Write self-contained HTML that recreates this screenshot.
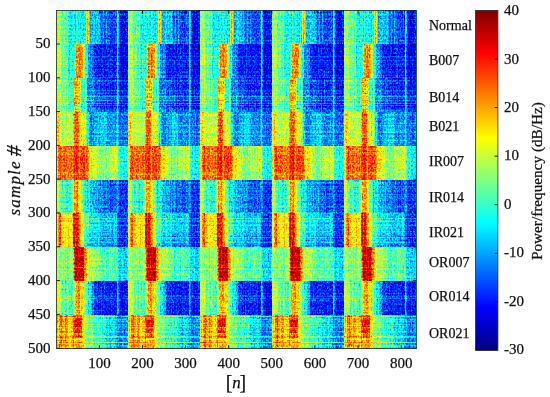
<!DOCTYPE html>
<html><head><meta charset="utf-8"><title>spectrogram</title>
<style>
html,body{margin:0;padding:0;background:#fff;}
body{width:550px;height:397px;overflow:hidden;}
svg{display:block;}
text{font-family:"Liberation Serif","DejaVu Serif",serif;fill:#111;stroke:#111;stroke-width:.25px;}
.tk{font-size:15px;}
.cl{font-size:14px;}
</style></head><body>
<svg width="550" height="397" viewBox="0 0 550 397">
<defs>
<filter id="jet" x="0" y="0" width="100%" height="100%" color-interpolation-filters="sRGB">
<feTurbulence type="fractalNoise" baseFrequency="0.66 0.47" numOctaves="2" seed="5" result="n"/>
<feColorMatrix in="n" type="matrix" values="1 0 0 0 0  1 0 0 0 0  1 0 0 0 0  0 0 0 0 1" result="ng"/>
<feComposite in="SourceGraphic" in2="ng" operator="arithmetic" k1="0" k2="1" k3="0.38" k4="-0.19" result="v"/>
<feComponentTransfer in="v" result="c">
<feFuncR type="table" tableValues="0 0 0 0 .5 1 1 1 .5"/>
<feFuncG type="table" tableValues="0 0 .5 1 1 1 .5 0 0"/>
<feFuncB type="table" tableValues=".5 1 1 1 .5 0 0 0 0"/>
</feComponentTransfer>
<feGaussianBlur in="c" stdDeviation="0.45" edgeMode="duplicate"/>
</filter>
<linearGradient id="cb" x1="0" y1="1" x2="0" y2="0">
<stop offset="0" stop-color="#000080"/><stop offset=".125" stop-color="#0000ff"/><stop offset=".375" stop-color="#00ffff"/><stop offset=".5" stop-color="#80ff80"/><stop offset=".625" stop-color="#ffff00"/><stop offset=".875" stop-color="#ff0000"/><stop offset="1" stop-color="#800000"/>
</linearGradient>
</defs>
<rect width="550" height="397" fill="#fff"/>
<g transform="translate(56,10)" filter="url(#jet)" shape-rendering="crispEdges">
<rect x="0" y="0" width="360.5" height="338.7" fill="#666"/>
<g transform="translate(0,0.00)">
<rect x="0" width="1.05" height="34.35" fill="#8c8c8c"/>
<rect x="1" width="1.05" height="34.35" fill="#828282"/>
<rect x="2" width="1.05" height="34.35" fill="#8d8d8d"/>
<rect x="3" width="1.05" height="34.35" fill="#8a8a8a"/>
<rect x="4" width="1.05" height="34.35" fill="#888888"/>
<rect x="5" width="1.05" height="34.35" fill="#7a7a7a"/>
<rect x="6" width="1.05" height="34.35" fill="#747474"/>
<rect x="7" width="1.05" height="34.35" fill="#727272"/>
<rect x="8" width="1.05" height="34.35" fill="#818181"/>
<rect x="9" width="1.05" height="34.35" fill="#767676"/>
<rect x="10" width="1.05" height="34.35" fill="#727272"/>
<rect x="11" width="1.05" height="34.35" fill="#7e7e7e"/>
<rect x="12" width="1.05" height="34.35" fill="#6a6a6a"/>
<rect x="13" width="1.05" height="34.35" fill="#5f5f5f"/>
<rect x="14" width="1.05" height="34.35" fill="#5b5b5b"/>
<rect x="15" width="1.05" height="34.35" fill="#5a5a5a"/>
<rect x="16" width="1.05" height="34.35" fill="#666666"/>
<rect x="17" width="1.05" height="34.35" fill="#696969"/>
<rect x="18" width="1.05" height="34.35" fill="#636363"/>
<rect x="19" width="1.05" height="34.35" fill="#575757"/>
<rect x="20" width="1.05" height="34.35" fill="#707070"/>
<rect x="21" width="1.05" height="34.35" fill="#646464"/>
<rect x="22" width="1.05" height="34.35" fill="#606060"/>
<rect x="23" width="1.05" height="34.35" fill="#696969"/>
<rect x="24" width="1.05" height="34.35" fill="#5f5f5f"/>
<rect x="25" width="1.05" height="34.35" fill="#606060"/>
<rect x="26" width="1.05" height="34.35" fill="#606060"/>
<rect x="27" width="1.05" height="34.35" fill="#565656"/>
<rect x="28" width="1.05" height="34.35" fill="#666666"/>
<rect x="29" width="1.05" height="34.35" fill="#656565"/>
<rect x="30" width="1.05" height="34.35" fill="#989898"/>
<rect x="31" width="1.05" height="34.35" fill="#b8b8b8"/>
<rect x="32" width="1.05" height="34.35" fill="#a7a7a7"/>
<rect x="33" width="1.05" height="34.35" fill="#656565"/>
<rect x="34" width="1.05" height="34.35" fill="#474747"/>
<rect x="35" width="1.05" height="34.35" fill="#535353"/>
<rect x="36" width="1.05" height="34.35" fill="#535353"/>
<rect x="37" width="1.05" height="34.35" fill="#5a5a5a"/>
<rect x="38" width="1.05" height="34.35" fill="#545454"/>
<rect x="39" width="1.05" height="34.35" fill="#494949"/>
<rect x="40" width="1.05" height="34.35" fill="#535353"/>
<rect x="41" width="1.05" height="34.35" fill="#4d4d4d"/>
<rect x="42" width="1.05" height="34.35" fill="#515151"/>
<rect x="43" width="1.05" height="34.35" fill="#555555"/>
<rect x="44" width="1.05" height="34.35" fill="#3f3f3f"/>
<rect x="45" width="1.05" height="34.35" fill="#2f2f2f"/>
<rect x="46" width="1.05" height="34.35" fill="#383838"/>
<rect x="47" width="1.05" height="34.35" fill="#4b4b4b"/>
<rect x="48" width="1.05" height="34.35" fill="#343434"/>
<rect x="49" width="1.05" height="34.35" fill="#333333"/>
<rect x="50" width="1.05" height="34.35" fill="#4a4a4a"/>
<rect x="51" width="1.05" height="34.35" fill="#313131"/>
<rect x="52" width="1.05" height="34.35" fill="#353535"/>
<rect x="53" width="1.05" height="34.35" fill="#313131"/>
<rect x="54" width="1.05" height="34.35" fill="#2e2e2e"/>
<rect x="55" width="1.05" height="34.35" fill="#2b2b2b"/>
<rect x="56" width="1.05" height="34.35" fill="#2a2a2a"/>
<rect x="57" width="1.05" height="34.35" fill="#313131"/>
<rect x="58" width="1.05" height="34.35" fill="#2f2f2f"/>
<rect x="59" width="1.05" height="34.35" fill="#383838"/>
<rect x="60" width="1.05" height="34.35" fill="#363636"/>
<rect x="61" width="1.05" height="34.35" fill="#7a7a7a"/>
<rect x="62" width="1.05" height="34.35" fill="#545454"/>
<rect x="63" width="1.05" height="34.35" fill="#282828"/>
<rect x="64" width="1.05" height="34.35" fill="#1e1e1e"/>
<rect x="65" width="1.05" height="34.35" fill="#1b1b1b"/>
<rect x="66" width="1.05" height="34.35" fill="#1d1d1d"/>
<rect x="67" width="1.05" height="34.35" fill="#1c1c1c"/>
<rect x="68" width="1.05" height="34.35" fill="#1e1e1e"/>
<rect x="69" width="1.05" height="34.35" fill="#1e1e1e"/>
<rect x="70" width="1.05" height="34.35" fill="#282828"/>
<rect x="71" width="1.05" height="34.35" fill="#262626"/>
<rect x="72" width="1.05" height="34.35" fill="#868686"/>
<rect x="73" width="1.05" height="34.35" fill="#898989"/>
<rect x="74" width="1.05" height="34.35" fill="#8b8b8b"/>
<rect x="75" width="1.05" height="34.35" fill="#8d8d8d"/>
<rect x="76" width="1.05" height="34.35" fill="#848484"/>
<rect x="77" width="1.05" height="34.35" fill="#757575"/>
<rect x="78" width="1.05" height="34.35" fill="#767676"/>
<rect x="79" width="1.05" height="34.35" fill="#747474"/>
<rect x="80" width="1.05" height="34.35" fill="#7e7e7e"/>
<rect x="81" width="1.05" height="34.35" fill="#757575"/>
<rect x="82" width="1.05" height="34.35" fill="#707070"/>
<rect x="83" width="1.05" height="34.35" fill="#848484"/>
<rect x="84" width="1.05" height="34.35" fill="#686868"/>
<rect x="85" width="1.05" height="34.35" fill="#5f5f5f"/>
<rect x="86" width="1.05" height="34.35" fill="#636363"/>
<rect x="87" width="1.05" height="34.35" fill="#5e5e5e"/>
<rect x="88" width="1.05" height="34.35" fill="#676767"/>
<rect x="89" width="1.05" height="34.35" fill="#636363"/>
<rect x="90" width="1.05" height="34.35" fill="#636363"/>
<rect x="91" width="1.05" height="34.35" fill="#585858"/>
<rect x="92" width="1.05" height="34.35" fill="#6c6c6c"/>
<rect x="93" width="1.05" height="34.35" fill="#5d5d5d"/>
<rect x="94" width="1.05" height="34.35" fill="#5f5f5f"/>
<rect x="95" width="1.05" height="34.35" fill="#6b6b6b"/>
<rect x="96" width="1.05" height="34.35" fill="#656565"/>
<rect x="97" width="1.05" height="34.35" fill="#5b5b5b"/>
<rect x="98" width="1.05" height="34.35" fill="#5e5e5e"/>
<rect x="99" width="1.05" height="34.35" fill="#535353"/>
<rect x="100" width="1.05" height="34.35" fill="#656565"/>
<rect x="101" width="1.05" height="34.35" fill="#616161"/>
<rect x="102" width="1.05" height="34.35" fill="#9a9a9a"/>
<rect x="103" width="1.05" height="34.35" fill="#b5b5b5"/>
<rect x="104" width="1.05" height="34.35" fill="#a5a5a5"/>
<rect x="105" width="1.05" height="34.35" fill="#646464"/>
<rect x="106" width="1.05" height="34.35" fill="#4d4d4d"/>
<rect x="107" width="1.05" height="34.35" fill="#4d4d4d"/>
<rect x="108" width="1.05" height="34.35" fill="#4e4e4e"/>
<rect x="109" width="1.05" height="34.35" fill="#5f5f5f"/>
<rect x="110" width="1.05" height="34.35" fill="#595959"/>
<rect x="111" width="1.05" height="34.35" fill="#4b4b4b"/>
<rect x="112" width="1.05" height="34.35" fill="#545454"/>
<rect x="113" width="1.05" height="34.35" fill="#4b4b4b"/>
<rect x="114" width="1.05" height="34.35" fill="#515151"/>
<rect x="115" width="1.05" height="34.35" fill="#595959"/>
<rect x="116" width="1.05" height="34.35" fill="#494949"/>
<rect x="117" width="1.05" height="34.35" fill="#272727"/>
<rect x="118" width="1.05" height="34.35" fill="#3a3a3a"/>
<rect x="119" width="1.05" height="34.35" fill="#515151"/>
<rect x="120" width="1.05" height="34.35" fill="#323232"/>
<rect x="121" width="1.05" height="34.35" fill="#313131"/>
<rect x="122" width="1.05" height="34.35" fill="#4e4e4e"/>
<rect x="123" width="1.05" height="34.35" fill="#323232"/>
<rect x="124" width="1.05" height="34.35" fill="#333333"/>
<rect x="125" width="1.05" height="34.35" fill="#323232"/>
<rect x="126" width="1.05" height="34.35" fill="#2b2b2b"/>
<rect x="127" width="1.05" height="34.35" fill="#313131"/>
<rect x="128" width="1.05" height="34.35" fill="#2a2a2a"/>
<rect x="129" width="1.05" height="34.35" fill="#363636"/>
<rect x="130" width="1.05" height="34.35" fill="#373737"/>
<rect x="131" width="1.05" height="34.35" fill="#393939"/>
<rect x="132" width="1.05" height="34.35" fill="#353535"/>
<rect x="133" width="1.05" height="34.35" fill="#797979"/>
<rect x="134" width="1.05" height="34.35" fill="#545454"/>
<rect x="135" width="1.05" height="34.35" fill="#2c2c2c"/>
<rect x="136" width="1.05" height="34.35" fill="#1b1b1b"/>
<rect x="137" width="1.05" height="34.35" fill="#191919"/>
<rect x="138" width="1.05" height="34.35" fill="#151515"/>
<rect x="139" width="1.05" height="34.35" fill="#1e1e1e"/>
<rect x="140" width="1.05" height="34.35" fill="#1f1f1f"/>
<rect x="141" width="1.05" height="34.35" fill="#191919"/>
<rect x="142" width="1.05" height="34.35" fill="#262626"/>
<rect x="143" width="1.05" height="34.35" fill="#262626"/>
<rect x="144" width="1.05" height="34.35" fill="#888888"/>
<rect x="145" width="1.05" height="34.35" fill="#878787"/>
<rect x="146" width="1.05" height="34.35" fill="#898989"/>
<rect x="147" width="1.05" height="34.35" fill="#909090"/>
<rect x="148" width="1.05" height="34.35" fill="#868686"/>
<rect x="149" width="1.05" height="34.35" fill="#767676"/>
<rect x="150" width="1.05" height="34.35" fill="#757575"/>
<rect x="151" width="1.05" height="34.35" fill="#777777"/>
<rect x="152" width="1.05" height="34.35" fill="#808080"/>
<rect x="153" width="1.05" height="34.35" fill="#767676"/>
<rect x="154" width="1.05" height="34.35" fill="#747474"/>
<rect x="155" width="1.05" height="34.35" fill="#888888"/>
<rect x="156" width="1.05" height="34.35" fill="#646464"/>
<rect x="157" width="1.05" height="34.35" fill="#5f5f5f"/>
<rect x="158" width="1.05" height="34.35" fill="#5c5c5c"/>
<rect x="159" width="1.05" height="34.35" fill="#5d5d5d"/>
<rect x="160" width="1.05" height="34.35" fill="#646464"/>
<rect x="161" width="1.05" height="34.35" fill="#616161"/>
<rect x="162" width="1.05" height="34.35" fill="#616161"/>
<rect x="163" width="1.05" height="34.35" fill="#5d5d5d"/>
<rect x="164" width="1.05" height="34.35" fill="#6a6a6a"/>
<rect x="165" width="1.05" height="34.35" fill="#626262"/>
<rect x="166" width="1.05" height="34.35" fill="#646464"/>
<rect x="167" width="1.05" height="34.35" fill="#696969"/>
<rect x="168" width="1.05" height="34.35" fill="#5e5e5e"/>
<rect x="169" width="1.05" height="34.35" fill="#636363"/>
<rect x="170" width="1.05" height="34.35" fill="#5f5f5f"/>
<rect x="171" width="1.05" height="34.35" fill="#565656"/>
<rect x="172" width="1.05" height="34.35" fill="#656565"/>
<rect x="173" width="1.05" height="34.35" fill="#606060"/>
<rect x="174" width="1.05" height="34.35" fill="#9c9c9c"/>
<rect x="175" width="1.05" height="34.35" fill="#b8b8b8"/>
<rect x="176" width="1.05" height="34.35" fill="#a8a8a8"/>
<rect x="177" width="1.05" height="34.35" fill="#636363"/>
<rect x="178" width="1.05" height="34.35" fill="#464646"/>
<rect x="179" width="1.05" height="34.35" fill="#515151"/>
<rect x="180" width="1.05" height="34.35" fill="#535353"/>
<rect x="181" width="1.05" height="34.35" fill="#5d5d5d"/>
<rect x="182" width="1.05" height="34.35" fill="#575757"/>
<rect x="183" width="1.05" height="34.35" fill="#4f4f4f"/>
<rect x="184" width="1.05" height="34.35" fill="#515151"/>
<rect x="185" width="1.05" height="34.35" fill="#4d4d4d"/>
<rect x="186" width="1.05" height="34.35" fill="#4d4d4d"/>
<rect x="187" width="1.05" height="34.35" fill="#545454"/>
<rect x="188" width="1.05" height="34.35" fill="#444444"/>
<rect x="189" width="1.05" height="34.35" fill="#2c2c2c"/>
<rect x="190" width="1.05" height="34.35" fill="#3a3a3a"/>
<rect x="191" width="1.05" height="34.35" fill="#515151"/>
<rect x="192" width="1.05" height="34.35" fill="#383838"/>
<rect x="193" width="1.05" height="34.35" fill="#2f2f2f"/>
<rect x="194" width="1.05" height="34.35" fill="#484848"/>
<rect x="195" width="1.05" height="34.35" fill="#323232"/>
<rect x="196" width="1.05" height="34.35" fill="#2f2f2f"/>
<rect x="197" width="1.05" height="34.35" fill="#323232"/>
<rect x="198" width="1.05" height="34.35" fill="#323232"/>
<rect x="199" width="1.05" height="34.35" fill="#303030"/>
<rect x="200" width="1.05" height="34.35" fill="#2b2b2b"/>
<rect x="201" width="1.05" height="34.35" fill="#343434"/>
<rect x="202" width="1.05" height="34.35" fill="#303030"/>
<rect x="203" width="1.05" height="34.35" fill="#353535"/>
<rect x="204" width="1.05" height="34.35" fill="#3b3b3b"/>
<rect x="205" width="1.05" height="34.35" fill="#7a7a7a"/>
<rect x="206" width="1.05" height="34.35" fill="#515151"/>
<rect x="207" width="1.05" height="34.35" fill="#262626"/>
<rect x="208" width="1.05" height="34.35" fill="#1d1d1d"/>
<rect x="209" width="1.05" height="34.35" fill="#1d1d1d"/>
<rect x="210" width="1.05" height="34.35" fill="#1f1f1f"/>
<rect x="211" width="1.05" height="34.35" fill="#1f1f1f"/>
<rect x="212" width="1.05" height="34.35" fill="#222222"/>
<rect x="213" width="1.05" height="34.35" fill="#1e1e1e"/>
<rect x="214" width="1.05" height="34.35" fill="#2b2b2b"/>
<rect x="215" width="1.05" height="34.35" fill="#2a2a2a"/>
<rect x="216" width="1.05" height="34.35" fill="#8c8c8c"/>
<rect x="217" width="1.05" height="34.35" fill="#888888"/>
<rect x="218" width="1.05" height="34.35" fill="#868686"/>
<rect x="219" width="1.05" height="34.35" fill="#8c8c8c"/>
<rect x="220" width="1.05" height="34.35" fill="#8a8a8a"/>
<rect x="221" width="1.05" height="34.35" fill="#767676"/>
<rect x="222" width="1.05" height="34.35" fill="#757575"/>
<rect x="223" width="1.05" height="34.35" fill="#777777"/>
<rect x="224" width="1.05" height="34.35" fill="#7f7f7f"/>
<rect x="225" width="1.05" height="34.35" fill="#747474"/>
<rect x="226" width="1.05" height="34.35" fill="#767676"/>
<rect x="227" width="1.05" height="34.35" fill="#858585"/>
<rect x="228" width="1.05" height="34.35" fill="#6a6a6a"/>
<rect x="229" width="1.05" height="34.35" fill="#5f5f5f"/>
<rect x="230" width="1.05" height="34.35" fill="#636363"/>
<rect x="231" width="1.05" height="34.35" fill="#5d5d5d"/>
<rect x="232" width="1.05" height="34.35" fill="#676767"/>
<rect x="233" width="1.05" height="34.35" fill="#666666"/>
<rect x="234" width="1.05" height="34.35" fill="#676767"/>
<rect x="235" width="1.05" height="34.35" fill="#5c5c5c"/>
<rect x="236" width="1.05" height="34.35" fill="#6c6c6c"/>
<rect x="237" width="1.05" height="34.35" fill="#606060"/>
<rect x="238" width="1.05" height="34.35" fill="#626262"/>
<rect x="239" width="1.05" height="34.35" fill="#6e6e6e"/>
<rect x="240" width="1.05" height="34.35" fill="#616161"/>
<rect x="241" width="1.05" height="34.35" fill="#595959"/>
<rect x="242" width="1.05" height="34.35" fill="#606060"/>
<rect x="243" width="1.05" height="34.35" fill="#545454"/>
<rect x="244" width="1.05" height="34.35" fill="#686868"/>
<rect x="245" width="1.05" height="34.35" fill="#616161"/>
<rect x="246" width="1.05" height="34.35" fill="#979797"/>
<rect x="247" width="1.05" height="34.35" fill="#b6b6b6"/>
<rect x="248" width="1.05" height="34.35" fill="#aaaaaa"/>
<rect x="249" width="1.05" height="34.35" fill="#676767"/>
<rect x="250" width="1.05" height="34.35" fill="#4d4d4d"/>
<rect x="251" width="1.05" height="34.35" fill="#505050"/>
<rect x="252" width="1.05" height="34.35" fill="#4d4d4d"/>
<rect x="253" width="1.05" height="34.35" fill="#595959"/>
<rect x="254" width="1.05" height="34.35" fill="#595959"/>
<rect x="255" width="1.05" height="34.35" fill="#545454"/>
<rect x="256" width="1.05" height="34.35" fill="#565656"/>
<rect x="257" width="1.05" height="34.35" fill="#525252"/>
<rect x="258" width="1.05" height="34.35" fill="#555555"/>
<rect x="259" width="1.05" height="34.35" fill="#505050"/>
<rect x="260" width="1.05" height="34.35" fill="#434343"/>
<rect x="261" width="1.05" height="34.35" fill="#2b2b2b"/>
<rect x="262" width="1.05" height="34.35" fill="#3b3b3b"/>
<rect x="263" width="1.05" height="34.35" fill="#505050"/>
<rect x="264" width="1.05" height="34.35" fill="#323232"/>
<rect x="265" width="1.05" height="34.35" fill="#303030"/>
<rect x="266" width="1.05" height="34.35" fill="#4b4b4b"/>
<rect x="267" width="1.05" height="34.35" fill="#323232"/>
<rect x="268" width="1.05" height="34.35" fill="#303030"/>
<rect x="269" width="1.05" height="34.35" fill="#303030"/>
<rect x="270" width="1.05" height="34.35" fill="#333333"/>
<rect x="271" width="1.05" height="34.35" fill="#2d2d2d"/>
<rect x="272" width="1.05" height="34.35" fill="#2e2e2e"/>
<rect x="273" width="1.05" height="34.35" fill="#343434"/>
<rect x="274" width="1.05" height="34.35" fill="#333333"/>
<rect x="275" width="1.05" height="34.35" fill="#3b3b3b"/>
<rect x="276" width="1.05" height="34.35" fill="#343434"/>
<rect x="277" width="1.05" height="34.35" fill="#757575"/>
<rect x="278" width="1.05" height="34.35" fill="#555555"/>
<rect x="279" width="1.05" height="34.35" fill="#262626"/>
<rect x="280" width="1.05" height="34.35" fill="#1d1d1d"/>
<rect x="281" width="1.05" height="34.35" fill="#1c1c1c"/>
<rect x="282" width="1.05" height="34.35" fill="#1c1c1c"/>
<rect x="283" width="1.05" height="34.35" fill="#181818"/>
<rect x="284" width="1.05" height="34.35" fill="#1e1e1e"/>
<rect x="285" width="1.05" height="34.35" fill="#1d1d1d"/>
<rect x="286" width="1.05" height="34.35" fill="#2c2c2c"/>
<rect x="287" width="1.05" height="34.35" fill="#222222"/>
<rect x="288" width="1.05" height="34.35" fill="#8e8e8e"/>
<rect x="289" width="1.05" height="34.35" fill="#8b8b8b"/>
<rect x="290" width="1.05" height="34.35" fill="#878787"/>
<rect x="291" width="1.05" height="34.35" fill="#888888"/>
<rect x="292" width="1.05" height="34.35" fill="#868686"/>
<rect x="293" width="1.05" height="34.35" fill="#777777"/>
<rect x="294" width="1.05" height="34.35" fill="#777777"/>
<rect x="295" width="1.05" height="34.35" fill="#767676"/>
<rect x="296" width="1.05" height="34.35" fill="#7e7e7e"/>
<rect x="297" width="1.05" height="34.35" fill="#767676"/>
<rect x="298" width="1.05" height="34.35" fill="#737373"/>
<rect x="299" width="1.05" height="34.35" fill="#868686"/>
<rect x="300" width="1.05" height="34.35" fill="#6d6d6d"/>
<rect x="301" width="1.05" height="34.35" fill="#666666"/>
<rect x="302" width="1.05" height="34.35" fill="#626262"/>
<rect x="303" width="1.05" height="34.35" fill="#5b5b5b"/>
<rect x="304" width="1.05" height="34.35" fill="#6c6c6c"/>
<rect x="305" width="1.05" height="34.35" fill="#656565"/>
<rect x="306" width="1.05" height="34.35" fill="#656565"/>
<rect x="307" width="1.05" height="34.35" fill="#585858"/>
<rect x="308" width="1.05" height="34.35" fill="#6c6c6c"/>
<rect x="309" width="1.05" height="34.35" fill="#616161"/>
<rect x="310" width="1.05" height="34.35" fill="#5f5f5f"/>
<rect x="311" width="1.05" height="34.35" fill="#686868"/>
<rect x="312" width="1.05" height="34.35" fill="#616161"/>
<rect x="313" width="1.05" height="34.35" fill="#5c5c5c"/>
<rect x="314" width="1.05" height="34.35" fill="#5c5c5c"/>
<rect x="315" width="1.05" height="34.35" fill="#555555"/>
<rect x="316" width="1.05" height="34.35" fill="#676767"/>
<rect x="317" width="1.05" height="34.35" fill="#5d5d5d"/>
<rect x="318" width="1.05" height="34.35" fill="#969696"/>
<rect x="319" width="1.05" height="34.35" fill="#b3b3b3"/>
<rect x="320" width="1.05" height="34.35" fill="#a2a2a2"/>
<rect x="321" width="1.05" height="34.35" fill="#666666"/>
<rect x="322" width="1.05" height="34.35" fill="#474747"/>
<rect x="323" width="1.05" height="34.35" fill="#535353"/>
<rect x="324" width="1.05" height="34.35" fill="#515151"/>
<rect x="325" width="1.05" height="34.35" fill="#575757"/>
<rect x="326" width="1.05" height="34.35" fill="#575757"/>
<rect x="327" width="1.05" height="34.35" fill="#4b4b4b"/>
<rect x="328" width="1.05" height="34.35" fill="#4f4f4f"/>
<rect x="329" width="1.05" height="34.35" fill="#4c4c4c"/>
<rect x="330" width="1.05" height="34.35" fill="#505050"/>
<rect x="331" width="1.05" height="34.35" fill="#575757"/>
<rect x="332" width="1.05" height="34.35" fill="#464646"/>
<rect x="333" width="1.05" height="34.35" fill="#292929"/>
<rect x="334" width="1.05" height="34.35" fill="#373737"/>
<rect x="335" width="1.05" height="34.35" fill="#4d4d4d"/>
<rect x="336" width="1.05" height="34.35" fill="#373737"/>
<rect x="337" width="1.05" height="34.35" fill="#292929"/>
<rect x="338" width="1.05" height="34.35" fill="#4d4d4d"/>
<rect x="339" width="1.05" height="34.35" fill="#333333"/>
<rect x="340" width="1.05" height="34.35" fill="#363636"/>
<rect x="341" width="1.05" height="34.35" fill="#313131"/>
<rect x="342" width="1.05" height="34.35" fill="#2e2e2e"/>
<rect x="343" width="1.05" height="34.35" fill="#303030"/>
<rect x="344" width="1.05" height="34.35" fill="#2e2e2e"/>
<rect x="345" width="1.05" height="34.35" fill="#343434"/>
<rect x="346" width="1.05" height="34.35" fill="#2a2a2a"/>
<rect x="347" width="1.05" height="34.35" fill="#393939"/>
<rect x="348" width="1.05" height="34.35" fill="#313131"/>
<rect x="349" width="1.05" height="34.35" fill="#747474"/>
<rect x="350" width="1.05" height="34.35" fill="#505050"/>
<rect x="351" width="1.05" height="34.35" fill="#232323"/>
<rect x="352" width="1.05" height="34.35" fill="#1b1b1b"/>
<rect x="353" width="1.05" height="34.35" fill="#1a1a1a"/>
<rect x="354" width="1.05" height="34.35" fill="#191919"/>
<rect x="355" width="1.05" height="34.35" fill="#1c1c1c"/>
<rect x="356" width="1.05" height="34.35" fill="#1e1e1e"/>
<rect x="357" width="1.05" height="34.35" fill="#171717"/>
<rect x="358" width="1.05" height="34.35" fill="#272727"/>
<rect x="359" width="1.05" height="34.35" fill="#2a2a2a"/>
</g>
<g transform="translate(0,34.30)">
<rect x="0" width="1.05" height="33.85" fill="#949494"/>
<rect x="1" width="1.05" height="33.85" fill="#949494"/>
<rect x="2" width="1.05" height="33.85" fill="#8d8d8d"/>
<rect x="3" width="1.05" height="33.85" fill="#909090"/>
<rect x="4" width="1.05" height="33.85" fill="#929292"/>
<rect x="5" width="1.05" height="33.85" fill="#818181"/>
<rect x="6" width="1.05" height="33.85" fill="#747474"/>
<rect x="7" width="1.05" height="33.85" fill="#8d8d8d"/>
<rect x="8" width="1.05" height="33.85" fill="#7f7f7f"/>
<rect x="9" width="1.05" height="33.85" fill="#7b7b7b"/>
<rect x="10" width="1.05" height="33.85" fill="#767676"/>
<rect x="11" width="1.05" height="33.85" fill="#7e7e7e"/>
<rect x="12" width="1.05" height="33.85" fill="#626262"/>
<rect x="13" width="1.05" height="33.85" fill="#575757"/>
<rect x="14" width="1.05" height="33.85" fill="#6b6b6b"/>
<rect x="15" width="1.05" height="33.85" fill="#6a6a6a"/>
<rect x="16" width="1.05" height="33.85" fill="#666666"/>
<rect x="17" width="1.05" height="33.85" fill="#656565"/>
<rect x="18" width="1.05" height="33.85" fill="#747474"/>
<rect x="19" width="1.05" height="33.85" fill="#ababab"/>
<rect x="20" width="1.05" height="33.85" fill="#c0c0c0"/>
<rect x="21" width="1.05" height="33.85" fill="#bcbcbc"/>
<rect x="22" width="1.05" height="33.85" fill="#bebebe"/>
<rect x="23" width="1.05" height="33.85" fill="#c9c9c9"/>
<rect x="24" width="1.05" height="33.85" fill="#c2c2c2"/>
<rect x="25" width="1.05" height="33.85" fill="#b9b9b9"/>
<rect x="26" width="1.05" height="33.85" fill="#b4b4b4"/>
<rect x="27" width="1.05" height="33.85" fill="#979797"/>
<rect x="28" width="1.05" height="33.85" fill="#868686"/>
<rect x="29" width="1.05" height="33.85" fill="#6c6c6c"/>
<rect x="30" width="1.05" height="33.85" fill="#626262"/>
<rect x="31" width="1.05" height="33.85" fill="#656565"/>
<rect x="32" width="1.05" height="33.85" fill="#454545"/>
<rect x="33" width="1.05" height="33.85" fill="#434343"/>
<rect x="34" width="1.05" height="33.85" fill="#3c3c3c"/>
<rect x="35" width="1.05" height="33.85" fill="#474747"/>
<rect x="36" width="1.05" height="33.85" fill="#393939"/>
<rect x="37" width="1.05" height="33.85" fill="#393939"/>
<rect x="38" width="1.05" height="33.85" fill="#272727"/>
<rect x="39" width="1.05" height="33.85" fill="#292929"/>
<rect x="40" width="1.05" height="33.85" fill="#262626"/>
<rect x="41" width="1.05" height="33.85" fill="#232323"/>
<rect x="42" width="1.05" height="33.85" fill="#222222"/>
<rect x="43" width="1.05" height="33.85" fill="#232323"/>
<rect x="44" width="1.05" height="33.85" fill="#1d1d1d"/>
<rect x="45" width="1.05" height="33.85" fill="#212121"/>
<rect x="46" width="1.05" height="33.85" fill="#2e2e2e"/>
<rect x="47" width="1.05" height="33.85" fill="#242424"/>
<rect x="48" width="1.05" height="33.85" fill="#1d1d1d"/>
<rect x="49" width="1.05" height="33.85" fill="#252525"/>
<rect x="50" width="1.05" height="33.85" fill="#272727"/>
<rect x="51" width="1.05" height="33.85" fill="#222222"/>
<rect x="52" width="1.05" height="33.85" fill="#292929"/>
<rect x="53" width="1.05" height="33.85" fill="#222222"/>
<rect x="54" width="1.05" height="33.85" fill="#282828"/>
<rect x="55" width="1.05" height="33.85" fill="#2a2a2a"/>
<rect x="56" width="1.05" height="33.85" fill="#252525"/>
<rect x="57" width="1.05" height="33.85" fill="#1d1d1d"/>
<rect x="58" width="1.05" height="33.85" fill="#202020"/>
<rect x="59" width="1.05" height="33.85" fill="#212121"/>
<rect x="60" width="1.05" height="33.85" fill="#2b2b2b"/>
<rect x="61" width="1.05" height="33.85" fill="#696969"/>
<rect x="62" width="1.05" height="33.85" fill="#3e3e3e"/>
<rect x="63" width="1.05" height="33.85" fill="#1a1a1a"/>
<rect x="64" width="1.05" height="33.85" fill="#171717"/>
<rect x="65" width="1.05" height="33.85" fill="#0a0a0a"/>
<rect x="66" width="1.05" height="33.85" fill="#171717"/>
<rect x="67" width="1.05" height="33.85" fill="#121212"/>
<rect x="68" width="1.05" height="33.85" fill="#1a1a1a"/>
<rect x="69" width="1.05" height="33.85" fill="#121212"/>
<rect x="70" width="1.05" height="33.85" fill="#161616"/>
<rect x="71" width="1.05" height="33.85" fill="#1c1c1c"/>
<rect x="72" width="1.05" height="33.85" fill="#8a8a8a"/>
<rect x="73" width="1.05" height="33.85" fill="#919191"/>
<rect x="74" width="1.05" height="33.85" fill="#8c8c8c"/>
<rect x="75" width="1.05" height="33.85" fill="#8e8e8e"/>
<rect x="76" width="1.05" height="33.85" fill="#8f8f8f"/>
<rect x="77" width="1.05" height="33.85" fill="#7a7a7a"/>
<rect x="78" width="1.05" height="33.85" fill="#777777"/>
<rect x="79" width="1.05" height="33.85" fill="#8a8a8a"/>
<rect x="80" width="1.05" height="33.85" fill="#7e7e7e"/>
<rect x="81" width="1.05" height="33.85" fill="#6e6e6e"/>
<rect x="82" width="1.05" height="33.85" fill="#707070"/>
<rect x="83" width="1.05" height="33.85" fill="#818181"/>
<rect x="84" width="1.05" height="33.85" fill="#656565"/>
<rect x="85" width="1.05" height="33.85" fill="#5d5d5d"/>
<rect x="86" width="1.05" height="33.85" fill="#6e6e6e"/>
<rect x="87" width="1.05" height="33.85" fill="#656565"/>
<rect x="88" width="1.05" height="33.85" fill="#6b6b6b"/>
<rect x="89" width="1.05" height="33.85" fill="#666666"/>
<rect x="90" width="1.05" height="33.85" fill="#717171"/>
<rect x="91" width="1.05" height="33.85" fill="#adadad"/>
<rect x="92" width="1.05" height="33.85" fill="#c3c3c3"/>
<rect x="93" width="1.05" height="33.85" fill="#bdbdbd"/>
<rect x="94" width="1.05" height="33.85" fill="#b7b7b7"/>
<rect x="95" width="1.05" height="33.85" fill="#cccccc"/>
<rect x="96" width="1.05" height="33.85" fill="#c2c2c2"/>
<rect x="97" width="1.05" height="33.85" fill="#b7b7b7"/>
<rect x="98" width="1.05" height="33.85" fill="#b4b4b4"/>
<rect x="99" width="1.05" height="33.85" fill="#919191"/>
<rect x="100" width="1.05" height="33.85" fill="#878787"/>
<rect x="101" width="1.05" height="33.85" fill="#6b6b6b"/>
<rect x="102" width="1.05" height="33.85" fill="#5d5d5d"/>
<rect x="103" width="1.05" height="33.85" fill="#6a6a6a"/>
<rect x="104" width="1.05" height="33.85" fill="#424242"/>
<rect x="105" width="1.05" height="33.85" fill="#454545"/>
<rect x="106" width="1.05" height="33.85" fill="#3d3d3d"/>
<rect x="107" width="1.05" height="33.85" fill="#464646"/>
<rect x="108" width="1.05" height="33.85" fill="#414141"/>
<rect x="109" width="1.05" height="33.85" fill="#3b3b3b"/>
<rect x="110" width="1.05" height="33.85" fill="#232323"/>
<rect x="111" width="1.05" height="33.85" fill="#272727"/>
<rect x="112" width="1.05" height="33.85" fill="#232323"/>
<rect x="113" width="1.05" height="33.85" fill="#1d1d1d"/>
<rect x="114" width="1.05" height="33.85" fill="#242424"/>
<rect x="115" width="1.05" height="33.85" fill="#232323"/>
<rect x="116" width="1.05" height="33.85" fill="#212121"/>
<rect x="117" width="1.05" height="33.85" fill="#1e1e1e"/>
<rect x="118" width="1.05" height="33.85" fill="#2c2c2c"/>
<rect x="119" width="1.05" height="33.85" fill="#242424"/>
<rect x="120" width="1.05" height="33.85" fill="#1d1d1d"/>
<rect x="121" width="1.05" height="33.85" fill="#252525"/>
<rect x="122" width="1.05" height="33.85" fill="#232323"/>
<rect x="123" width="1.05" height="33.85" fill="#262626"/>
<rect x="124" width="1.05" height="33.85" fill="#292929"/>
<rect x="125" width="1.05" height="33.85" fill="#232323"/>
<rect x="126" width="1.05" height="33.85" fill="#252525"/>
<rect x="127" width="1.05" height="33.85" fill="#232323"/>
<rect x="128" width="1.05" height="33.85" fill="#212121"/>
<rect x="129" width="1.05" height="33.85" fill="#202020"/>
<rect x="130" width="1.05" height="33.85" fill="#232323"/>
<rect x="131" width="1.05" height="33.85" fill="#232323"/>
<rect x="132" width="1.05" height="33.85" fill="#292929"/>
<rect x="133" width="1.05" height="33.85" fill="#656565"/>
<rect x="134" width="1.05" height="33.85" fill="#404040"/>
<rect x="135" width="1.05" height="33.85" fill="#191919"/>
<rect x="136" width="1.05" height="33.85" fill="#141414"/>
<rect x="137" width="1.05" height="33.85" fill="#111111"/>
<rect x="138" width="1.05" height="33.85" fill="#1d1d1d"/>
<rect x="139" width="1.05" height="33.85" fill="#181818"/>
<rect x="140" width="1.05" height="33.85" fill="#1e1e1e"/>
<rect x="141" width="1.05" height="33.85" fill="#161616"/>
<rect x="142" width="1.05" height="33.85" fill="#171717"/>
<rect x="143" width="1.05" height="33.85" fill="#1b1b1b"/>
<rect x="144" width="1.05" height="33.85" fill="#8b8b8b"/>
<rect x="145" width="1.05" height="33.85" fill="#999999"/>
<rect x="146" width="1.05" height="33.85" fill="#8c8c8c"/>
<rect x="147" width="1.05" height="33.85" fill="#8a8a8a"/>
<rect x="148" width="1.05" height="33.85" fill="#939393"/>
<rect x="149" width="1.05" height="33.85" fill="#7f7f7f"/>
<rect x="150" width="1.05" height="33.85" fill="#787878"/>
<rect x="151" width="1.05" height="33.85" fill="#8e8e8e"/>
<rect x="152" width="1.05" height="33.85" fill="#7c7c7c"/>
<rect x="153" width="1.05" height="33.85" fill="#767676"/>
<rect x="154" width="1.05" height="33.85" fill="#707070"/>
<rect x="155" width="1.05" height="33.85" fill="#898989"/>
<rect x="156" width="1.05" height="33.85" fill="#616161"/>
<rect x="157" width="1.05" height="33.85" fill="#606060"/>
<rect x="158" width="1.05" height="33.85" fill="#676767"/>
<rect x="159" width="1.05" height="33.85" fill="#6f6f6f"/>
<rect x="160" width="1.05" height="33.85" fill="#686868"/>
<rect x="161" width="1.05" height="33.85" fill="#646464"/>
<rect x="162" width="1.05" height="33.85" fill="#707070"/>
<rect x="163" width="1.05" height="33.85" fill="#aeaeae"/>
<rect x="164" width="1.05" height="33.85" fill="#bfbfbf"/>
<rect x="165" width="1.05" height="33.85" fill="#b6b6b6"/>
<rect x="166" width="1.05" height="33.85" fill="#c0c0c0"/>
<rect x="167" width="1.05" height="33.85" fill="#c7c7c7"/>
<rect x="168" width="1.05" height="33.85" fill="#c0c0c0"/>
<rect x="169" width="1.05" height="33.85" fill="#bbbbbb"/>
<rect x="170" width="1.05" height="33.85" fill="#b4b4b4"/>
<rect x="171" width="1.05" height="33.85" fill="#9a9a9a"/>
<rect x="172" width="1.05" height="33.85" fill="#878787"/>
<rect x="173" width="1.05" height="33.85" fill="#6c6c6c"/>
<rect x="174" width="1.05" height="33.85" fill="#5d5d5d"/>
<rect x="175" width="1.05" height="33.85" fill="#6a6a6a"/>
<rect x="176" width="1.05" height="33.85" fill="#484848"/>
<rect x="177" width="1.05" height="33.85" fill="#404040"/>
<rect x="178" width="1.05" height="33.85" fill="#3d3d3d"/>
<rect x="179" width="1.05" height="33.85" fill="#484848"/>
<rect x="180" width="1.05" height="33.85" fill="#373737"/>
<rect x="181" width="1.05" height="33.85" fill="#393939"/>
<rect x="182" width="1.05" height="33.85" fill="#282828"/>
<rect x="183" width="1.05" height="33.85" fill="#232323"/>
<rect x="184" width="1.05" height="33.85" fill="#242424"/>
<rect x="185" width="1.05" height="33.85" fill="#1d1d1d"/>
<rect x="186" width="1.05" height="33.85" fill="#262626"/>
<rect x="187" width="1.05" height="33.85" fill="#1f1f1f"/>
<rect x="188" width="1.05" height="33.85" fill="#242424"/>
<rect x="189" width="1.05" height="33.85" fill="#202020"/>
<rect x="190" width="1.05" height="33.85" fill="#2e2e2e"/>
<rect x="191" width="1.05" height="33.85" fill="#242424"/>
<rect x="192" width="1.05" height="33.85" fill="#202020"/>
<rect x="193" width="1.05" height="33.85" fill="#272727"/>
<rect x="194" width="1.05" height="33.85" fill="#1e1e1e"/>
<rect x="195" width="1.05" height="33.85" fill="#1e1e1e"/>
<rect x="196" width="1.05" height="33.85" fill="#232323"/>
<rect x="197" width="1.05" height="33.85" fill="#242424"/>
<rect x="198" width="1.05" height="33.85" fill="#272727"/>
<rect x="199" width="1.05" height="33.85" fill="#222222"/>
<rect x="200" width="1.05" height="33.85" fill="#232323"/>
<rect x="201" width="1.05" height="33.85" fill="#1c1c1c"/>
<rect x="202" width="1.05" height="33.85" fill="#1c1c1c"/>
<rect x="203" width="1.05" height="33.85" fill="#242424"/>
<rect x="204" width="1.05" height="33.85" fill="#2a2a2a"/>
<rect x="205" width="1.05" height="33.85" fill="#6e6e6e"/>
<rect x="206" width="1.05" height="33.85" fill="#424242"/>
<rect x="207" width="1.05" height="33.85" fill="#171717"/>
<rect x="208" width="1.05" height="33.85" fill="#0e0e0e"/>
<rect x="209" width="1.05" height="33.85" fill="#161616"/>
<rect x="210" width="1.05" height="33.85" fill="#1a1a1a"/>
<rect x="211" width="1.05" height="33.85" fill="#131313"/>
<rect x="212" width="1.05" height="33.85" fill="#1e1e1e"/>
<rect x="213" width="1.05" height="33.85" fill="#171717"/>
<rect x="214" width="1.05" height="33.85" fill="#121212"/>
<rect x="215" width="1.05" height="33.85" fill="#1b1b1b"/>
<rect x="216" width="1.05" height="33.85" fill="#8b8b8b"/>
<rect x="217" width="1.05" height="33.85" fill="#949494"/>
<rect x="218" width="1.05" height="33.85" fill="#8d8d8d"/>
<rect x="219" width="1.05" height="33.85" fill="#8d8d8d"/>
<rect x="220" width="1.05" height="33.85" fill="#8e8e8e"/>
<rect x="221" width="1.05" height="33.85" fill="#7e7e7e"/>
<rect x="222" width="1.05" height="33.85" fill="#767676"/>
<rect x="223" width="1.05" height="33.85" fill="#919191"/>
<rect x="224" width="1.05" height="33.85" fill="#7a7a7a"/>
<rect x="225" width="1.05" height="33.85" fill="#767676"/>
<rect x="226" width="1.05" height="33.85" fill="#6e6e6e"/>
<rect x="227" width="1.05" height="33.85" fill="#898989"/>
<rect x="228" width="1.05" height="33.85" fill="#5f5f5f"/>
<rect x="229" width="1.05" height="33.85" fill="#626262"/>
<rect x="230" width="1.05" height="33.85" fill="#666666"/>
<rect x="231" width="1.05" height="33.85" fill="#6b6b6b"/>
<rect x="232" width="1.05" height="33.85" fill="#686868"/>
<rect x="233" width="1.05" height="33.85" fill="#606060"/>
<rect x="234" width="1.05" height="33.85" fill="#707070"/>
<rect x="235" width="1.05" height="33.85" fill="#a7a7a7"/>
<rect x="236" width="1.05" height="33.85" fill="#c1c1c1"/>
<rect x="237" width="1.05" height="33.85" fill="#b9b9b9"/>
<rect x="238" width="1.05" height="33.85" fill="#b9b9b9"/>
<rect x="239" width="1.05" height="33.85" fill="#c6c6c6"/>
<rect x="240" width="1.05" height="33.85" fill="#c5c5c5"/>
<rect x="241" width="1.05" height="33.85" fill="#c0c0c0"/>
<rect x="242" width="1.05" height="33.85" fill="#b6b6b6"/>
<rect x="243" width="1.05" height="33.85" fill="#939393"/>
<rect x="244" width="1.05" height="33.85" fill="#868686"/>
<rect x="245" width="1.05" height="33.85" fill="#6f6f6f"/>
<rect x="246" width="1.05" height="33.85" fill="#5d5d5d"/>
<rect x="247" width="1.05" height="33.85" fill="#676767"/>
<rect x="248" width="1.05" height="33.85" fill="#424242"/>
<rect x="249" width="1.05" height="33.85" fill="#414141"/>
<rect x="250" width="1.05" height="33.85" fill="#424242"/>
<rect x="251" width="1.05" height="33.85" fill="#484848"/>
<rect x="252" width="1.05" height="33.85" fill="#3d3d3d"/>
<rect x="253" width="1.05" height="33.85" fill="#3c3c3c"/>
<rect x="254" width="1.05" height="33.85" fill="#292929"/>
<rect x="255" width="1.05" height="33.85" fill="#2c2c2c"/>
<rect x="256" width="1.05" height="33.85" fill="#252525"/>
<rect x="257" width="1.05" height="33.85" fill="#1c1c1c"/>
<rect x="258" width="1.05" height="33.85" fill="#202020"/>
<rect x="259" width="1.05" height="33.85" fill="#262626"/>
<rect x="260" width="1.05" height="33.85" fill="#1f1f1f"/>
<rect x="261" width="1.05" height="33.85" fill="#1b1b1b"/>
<rect x="262" width="1.05" height="33.85" fill="#2a2a2a"/>
<rect x="263" width="1.05" height="33.85" fill="#212121"/>
<rect x="264" width="1.05" height="33.85" fill="#212121"/>
<rect x="265" width="1.05" height="33.85" fill="#292929"/>
<rect x="266" width="1.05" height="33.85" fill="#212121"/>
<rect x="267" width="1.05" height="33.85" fill="#202020"/>
<rect x="268" width="1.05" height="33.85" fill="#252525"/>
<rect x="269" width="1.05" height="33.85" fill="#212121"/>
<rect x="270" width="1.05" height="33.85" fill="#242424"/>
<rect x="271" width="1.05" height="33.85" fill="#292929"/>
<rect x="272" width="1.05" height="33.85" fill="#242424"/>
<rect x="273" width="1.05" height="33.85" fill="#1b1b1b"/>
<rect x="274" width="1.05" height="33.85" fill="#1d1d1d"/>
<rect x="275" width="1.05" height="33.85" fill="#242424"/>
<rect x="276" width="1.05" height="33.85" fill="#272727"/>
<rect x="277" width="1.05" height="33.85" fill="#6b6b6b"/>
<rect x="278" width="1.05" height="33.85" fill="#404040"/>
<rect x="279" width="1.05" height="33.85" fill="#191919"/>
<rect x="280" width="1.05" height="33.85" fill="#101010"/>
<rect x="281" width="1.05" height="33.85" fill="#111111"/>
<rect x="282" width="1.05" height="33.85" fill="#191919"/>
<rect x="283" width="1.05" height="33.85" fill="#161616"/>
<rect x="284" width="1.05" height="33.85" fill="#1c1c1c"/>
<rect x="285" width="1.05" height="33.85" fill="#151515"/>
<rect x="286" width="1.05" height="33.85" fill="#141414"/>
<rect x="287" width="1.05" height="33.85" fill="#1b1b1b"/>
<rect x="288" width="1.05" height="33.85" fill="#878787"/>
<rect x="289" width="1.05" height="33.85" fill="#939393"/>
<rect x="290" width="1.05" height="33.85" fill="#898989"/>
<rect x="291" width="1.05" height="33.85" fill="#898989"/>
<rect x="292" width="1.05" height="33.85" fill="#8e8e8e"/>
<rect x="293" width="1.05" height="33.85" fill="#7b7b7b"/>
<rect x="294" width="1.05" height="33.85" fill="#737373"/>
<rect x="295" width="1.05" height="33.85" fill="#888888"/>
<rect x="296" width="1.05" height="33.85" fill="#7d7d7d"/>
<rect x="297" width="1.05" height="33.85" fill="#797979"/>
<rect x="298" width="1.05" height="33.85" fill="#747474"/>
<rect x="299" width="1.05" height="33.85" fill="#868686"/>
<rect x="300" width="1.05" height="33.85" fill="#5f5f5f"/>
<rect x="301" width="1.05" height="33.85" fill="#616161"/>
<rect x="302" width="1.05" height="33.85" fill="#666666"/>
<rect x="303" width="1.05" height="33.85" fill="#707070"/>
<rect x="304" width="1.05" height="33.85" fill="#646464"/>
<rect x="305" width="1.05" height="33.85" fill="#676767"/>
<rect x="306" width="1.05" height="33.85" fill="#6c6c6c"/>
<rect x="307" width="1.05" height="33.85" fill="#a9a9a9"/>
<rect x="308" width="1.05" height="33.85" fill="#bbbbbb"/>
<rect x="309" width="1.05" height="33.85" fill="#bcbcbc"/>
<rect x="310" width="1.05" height="33.85" fill="#bfbfbf"/>
<rect x="311" width="1.05" height="33.85" fill="#c9c9c9"/>
<rect x="312" width="1.05" height="33.85" fill="#bcbcbc"/>
<rect x="313" width="1.05" height="33.85" fill="#bfbfbf"/>
<rect x="314" width="1.05" height="33.85" fill="#afafaf"/>
<rect x="315" width="1.05" height="33.85" fill="#9a9a9a"/>
<rect x="316" width="1.05" height="33.85" fill="#8c8c8c"/>
<rect x="317" width="1.05" height="33.85" fill="#6d6d6d"/>
<rect x="318" width="1.05" height="33.85" fill="#626262"/>
<rect x="319" width="1.05" height="33.85" fill="#656565"/>
<rect x="320" width="1.05" height="33.85" fill="#4d4d4d"/>
<rect x="321" width="1.05" height="33.85" fill="#454545"/>
<rect x="322" width="1.05" height="33.85" fill="#424242"/>
<rect x="323" width="1.05" height="33.85" fill="#444444"/>
<rect x="324" width="1.05" height="33.85" fill="#3c3c3c"/>
<rect x="325" width="1.05" height="33.85" fill="#373737"/>
<rect x="326" width="1.05" height="33.85" fill="#252525"/>
<rect x="327" width="1.05" height="33.85" fill="#282828"/>
<rect x="328" width="1.05" height="33.85" fill="#262626"/>
<rect x="329" width="1.05" height="33.85" fill="#212121"/>
<rect x="330" width="1.05" height="33.85" fill="#252525"/>
<rect x="331" width="1.05" height="33.85" fill="#232323"/>
<rect x="332" width="1.05" height="33.85" fill="#212121"/>
<rect x="333" width="1.05" height="33.85" fill="#252525"/>
<rect x="334" width="1.05" height="33.85" fill="#292929"/>
<rect x="335" width="1.05" height="33.85" fill="#242424"/>
<rect x="336" width="1.05" height="33.85" fill="#191919"/>
<rect x="337" width="1.05" height="33.85" fill="#232323"/>
<rect x="338" width="1.05" height="33.85" fill="#242424"/>
<rect x="339" width="1.05" height="33.85" fill="#222222"/>
<rect x="340" width="1.05" height="33.85" fill="#2f2f2f"/>
<rect x="341" width="1.05" height="33.85" fill="#2c2c2c"/>
<rect x="342" width="1.05" height="33.85" fill="#202020"/>
<rect x="343" width="1.05" height="33.85" fill="#242424"/>
<rect x="344" width="1.05" height="33.85" fill="#242424"/>
<rect x="345" width="1.05" height="33.85" fill="#252525"/>
<rect x="346" width="1.05" height="33.85" fill="#242424"/>
<rect x="347" width="1.05" height="33.85" fill="#212121"/>
<rect x="348" width="1.05" height="33.85" fill="#262626"/>
<rect x="349" width="1.05" height="33.85" fill="#676767"/>
<rect x="350" width="1.05" height="33.85" fill="#373737"/>
<rect x="351" width="1.05" height="33.85" fill="#151515"/>
<rect x="352" width="1.05" height="33.85" fill="#141414"/>
<rect x="353" width="1.05" height="33.85" fill="#131313"/>
<rect x="354" width="1.05" height="33.85" fill="#171717"/>
<rect x="355" width="1.05" height="33.85" fill="#161616"/>
<rect x="356" width="1.05" height="33.85" fill="#212121"/>
<rect x="357" width="1.05" height="33.85" fill="#171717"/>
<rect x="358" width="1.05" height="33.85" fill="#131313"/>
<rect x="359" width="1.05" height="33.85" fill="#1e1e1e"/>
</g>
<g transform="translate(0,68.10)">
<rect x="0" width="1.05" height="33.85" fill="#878787"/>
<rect x="1" width="1.05" height="33.85" fill="#858585"/>
<rect x="2" width="1.05" height="33.85" fill="#868686"/>
<rect x="3" width="1.05" height="33.85" fill="#808080"/>
<rect x="4" width="1.05" height="33.85" fill="#898989"/>
<rect x="5" width="1.05" height="33.85" fill="#7d7d7d"/>
<rect x="6" width="1.05" height="33.85" fill="#7c7c7c"/>
<rect x="7" width="1.05" height="33.85" fill="#7e7e7e"/>
<rect x="8" width="1.05" height="33.85" fill="#818181"/>
<rect x="9" width="1.05" height="33.85" fill="#868686"/>
<rect x="10" width="1.05" height="33.85" fill="#777777"/>
<rect x="11" width="1.05" height="33.85" fill="#8e8e8e"/>
<rect x="12" width="1.05" height="33.85" fill="#737373"/>
<rect x="13" width="1.05" height="33.85" fill="#6e6e6e"/>
<rect x="14" width="1.05" height="33.85" fill="#6c6c6c"/>
<rect x="15" width="1.05" height="33.85" fill="#6a6a6a"/>
<rect x="16" width="1.05" height="33.85" fill="#717171"/>
<rect x="17" width="1.05" height="33.85" fill="#666666"/>
<rect x="18" width="1.05" height="33.85" fill="#b5b5b5"/>
<rect x="19" width="1.05" height="33.85" fill="#bebebe"/>
<rect x="20" width="1.05" height="33.85" fill="#b8b8b8"/>
<rect x="21" width="1.05" height="33.85" fill="#bababa"/>
<rect x="22" width="1.05" height="33.85" fill="#aeaeae"/>
<rect x="23" width="1.05" height="33.85" fill="#b5b5b5"/>
<rect x="24" width="1.05" height="33.85" fill="#909090"/>
<rect x="25" width="1.05" height="33.85" fill="#6b6b6b"/>
<rect x="26" width="1.05" height="33.85" fill="#696969"/>
<rect x="27" width="1.05" height="33.85" fill="#707070"/>
<rect x="28" width="1.05" height="33.85" fill="#696969"/>
<rect x="29" width="1.05" height="33.85" fill="#818181"/>
<rect x="30" width="1.05" height="33.85" fill="#6e6e6e"/>
<rect x="31" width="1.05" height="33.85" fill="#3f3f3f"/>
<rect x="32" width="1.05" height="33.85" fill="#373737"/>
<rect x="33" width="1.05" height="33.85" fill="#3c3c3c"/>
<rect x="34" width="1.05" height="33.85" fill="#3e3e3e"/>
<rect x="35" width="1.05" height="33.85" fill="#3e3e3e"/>
<rect x="36" width="1.05" height="33.85" fill="#414141"/>
<rect x="37" width="1.05" height="33.85" fill="#434343"/>
<rect x="38" width="1.05" height="33.85" fill="#333333"/>
<rect x="39" width="1.05" height="33.85" fill="#2f2f2f"/>
<rect x="40" width="1.05" height="33.85" fill="#2b2b2b"/>
<rect x="41" width="1.05" height="33.85" fill="#353535"/>
<rect x="42" width="1.05" height="33.85" fill="#333333"/>
<rect x="43" width="1.05" height="33.85" fill="#3a3a3a"/>
<rect x="44" width="1.05" height="33.85" fill="#2a2a2a"/>
<rect x="45" width="1.05" height="33.85" fill="#222222"/>
<rect x="46" width="1.05" height="33.85" fill="#2f2f2f"/>
<rect x="47" width="1.05" height="33.85" fill="#262626"/>
<rect x="48" width="1.05" height="33.85" fill="#242424"/>
<rect x="49" width="1.05" height="33.85" fill="#313131"/>
<rect x="50" width="1.05" height="33.85" fill="#202020"/>
<rect x="51" width="1.05" height="33.85" fill="#292929"/>
<rect x="52" width="1.05" height="33.85" fill="#282828"/>
<rect x="53" width="1.05" height="33.85" fill="#292929"/>
<rect x="54" width="1.05" height="33.85" fill="#232323"/>
<rect x="55" width="1.05" height="33.85" fill="#2a2a2a"/>
<rect x="56" width="1.05" height="33.85" fill="#1f1f1f"/>
<rect x="57" width="1.05" height="33.85" fill="#1e1e1e"/>
<rect x="58" width="1.05" height="33.85" fill="#2a2a2a"/>
<rect x="59" width="1.05" height="33.85" fill="#2a2a2a"/>
<rect x="60" width="1.05" height="33.85" fill="#303030"/>
<rect x="61" width="1.05" height="33.85" fill="#636363"/>
<rect x="62" width="1.05" height="33.85" fill="#414141"/>
<rect x="63" width="1.05" height="33.85" fill="#1c1c1c"/>
<rect x="64" width="1.05" height="33.85" fill="#131313"/>
<rect x="65" width="1.05" height="33.85" fill="#1e1e1e"/>
<rect x="66" width="1.05" height="33.85" fill="#232323"/>
<rect x="67" width="1.05" height="33.85" fill="#171717"/>
<rect x="68" width="1.05" height="33.85" fill="#212121"/>
<rect x="69" width="1.05" height="33.85" fill="#1b1b1b"/>
<rect x="70" width="1.05" height="33.85" fill="#191919"/>
<rect x="71" width="1.05" height="33.85" fill="#262626"/>
<rect x="72" width="1.05" height="33.85" fill="#7a7a7a"/>
<rect x="73" width="1.05" height="33.85" fill="#858585"/>
<rect x="74" width="1.05" height="33.85" fill="#8b8b8b"/>
<rect x="75" width="1.05" height="33.85" fill="#7e7e7e"/>
<rect x="76" width="1.05" height="33.85" fill="#888888"/>
<rect x="77" width="1.05" height="33.85" fill="#838383"/>
<rect x="78" width="1.05" height="33.85" fill="#797979"/>
<rect x="79" width="1.05" height="33.85" fill="#7a7a7a"/>
<rect x="80" width="1.05" height="33.85" fill="#7b7b7b"/>
<rect x="81" width="1.05" height="33.85" fill="#818181"/>
<rect x="82" width="1.05" height="33.85" fill="#727272"/>
<rect x="83" width="1.05" height="33.85" fill="#8c8c8c"/>
<rect x="84" width="1.05" height="33.85" fill="#6d6d6d"/>
<rect x="85" width="1.05" height="33.85" fill="#717171"/>
<rect x="86" width="1.05" height="33.85" fill="#646464"/>
<rect x="87" width="1.05" height="33.85" fill="#6d6d6d"/>
<rect x="88" width="1.05" height="33.85" fill="#707070"/>
<rect x="89" width="1.05" height="33.85" fill="#656565"/>
<rect x="90" width="1.05" height="33.85" fill="#b3b3b3"/>
<rect x="91" width="1.05" height="33.85" fill="#bababa"/>
<rect x="92" width="1.05" height="33.85" fill="#b4b4b4"/>
<rect x="93" width="1.05" height="33.85" fill="#bdbdbd"/>
<rect x="94" width="1.05" height="33.85" fill="#b6b6b6"/>
<rect x="95" width="1.05" height="33.85" fill="#b5b5b5"/>
<rect x="96" width="1.05" height="33.85" fill="#8b8b8b"/>
<rect x="97" width="1.05" height="33.85" fill="#696969"/>
<rect x="98" width="1.05" height="33.85" fill="#6b6b6b"/>
<rect x="99" width="1.05" height="33.85" fill="#717171"/>
<rect x="100" width="1.05" height="33.85" fill="#646464"/>
<rect x="101" width="1.05" height="33.85" fill="#818181"/>
<rect x="102" width="1.05" height="33.85" fill="#707070"/>
<rect x="103" width="1.05" height="33.85" fill="#414141"/>
<rect x="104" width="1.05" height="33.85" fill="#3a3a3a"/>
<rect x="105" width="1.05" height="33.85" fill="#393939"/>
<rect x="106" width="1.05" height="33.85" fill="#3c3c3c"/>
<rect x="107" width="1.05" height="33.85" fill="#3e3e3e"/>
<rect x="108" width="1.05" height="33.85" fill="#393939"/>
<rect x="109" width="1.05" height="33.85" fill="#444444"/>
<rect x="110" width="1.05" height="33.85" fill="#343434"/>
<rect x="111" width="1.05" height="33.85" fill="#2b2b2b"/>
<rect x="112" width="1.05" height="33.85" fill="#292929"/>
<rect x="113" width="1.05" height="33.85" fill="#3d3d3d"/>
<rect x="114" width="1.05" height="33.85" fill="#323232"/>
<rect x="115" width="1.05" height="33.85" fill="#373737"/>
<rect x="116" width="1.05" height="33.85" fill="#2f2f2f"/>
<rect x="117" width="1.05" height="33.85" fill="#262626"/>
<rect x="118" width="1.05" height="33.85" fill="#303030"/>
<rect x="119" width="1.05" height="33.85" fill="#282828"/>
<rect x="120" width="1.05" height="33.85" fill="#181818"/>
<rect x="121" width="1.05" height="33.85" fill="#373737"/>
<rect x="122" width="1.05" height="33.85" fill="#1e1e1e"/>
<rect x="123" width="1.05" height="33.85" fill="#2c2c2c"/>
<rect x="124" width="1.05" height="33.85" fill="#2f2f2f"/>
<rect x="125" width="1.05" height="33.85" fill="#272727"/>
<rect x="126" width="1.05" height="33.85" fill="#212121"/>
<rect x="127" width="1.05" height="33.85" fill="#2f2f2f"/>
<rect x="128" width="1.05" height="33.85" fill="#212121"/>
<rect x="129" width="1.05" height="33.85" fill="#232323"/>
<rect x="130" width="1.05" height="33.85" fill="#222222"/>
<rect x="131" width="1.05" height="33.85" fill="#282828"/>
<rect x="132" width="1.05" height="33.85" fill="#2b2b2b"/>
<rect x="133" width="1.05" height="33.85" fill="#666666"/>
<rect x="134" width="1.05" height="33.85" fill="#4b4b4b"/>
<rect x="135" width="1.05" height="33.85" fill="#1f1f1f"/>
<rect x="136" width="1.05" height="33.85" fill="#191919"/>
<rect x="137" width="1.05" height="33.85" fill="#1d1d1d"/>
<rect x="138" width="1.05" height="33.85" fill="#252525"/>
<rect x="139" width="1.05" height="33.85" fill="#202020"/>
<rect x="140" width="1.05" height="33.85" fill="#1e1e1e"/>
<rect x="141" width="1.05" height="33.85" fill="#1f1f1f"/>
<rect x="142" width="1.05" height="33.85" fill="#1c1c1c"/>
<rect x="143" width="1.05" height="33.85" fill="#292929"/>
<rect x="144" width="1.05" height="33.85" fill="#7a7a7a"/>
<rect x="145" width="1.05" height="33.85" fill="#808080"/>
<rect x="146" width="1.05" height="33.85" fill="#898989"/>
<rect x="147" width="1.05" height="33.85" fill="#7c7c7c"/>
<rect x="148" width="1.05" height="33.85" fill="#8a8a8a"/>
<rect x="149" width="1.05" height="33.85" fill="#808080"/>
<rect x="150" width="1.05" height="33.85" fill="#797979"/>
<rect x="151" width="1.05" height="33.85" fill="#7d7d7d"/>
<rect x="152" width="1.05" height="33.85" fill="#7e7e7e"/>
<rect x="153" width="1.05" height="33.85" fill="#828282"/>
<rect x="154" width="1.05" height="33.85" fill="#717171"/>
<rect x="155" width="1.05" height="33.85" fill="#8a8a8a"/>
<rect x="156" width="1.05" height="33.85" fill="#7a7a7a"/>
<rect x="157" width="1.05" height="33.85" fill="#727272"/>
<rect x="158" width="1.05" height="33.85" fill="#676767"/>
<rect x="159" width="1.05" height="33.85" fill="#6d6d6d"/>
<rect x="160" width="1.05" height="33.85" fill="#707070"/>
<rect x="161" width="1.05" height="33.85" fill="#696969"/>
<rect x="162" width="1.05" height="33.85" fill="#b4b4b4"/>
<rect x="163" width="1.05" height="33.85" fill="#c0c0c0"/>
<rect x="164" width="1.05" height="33.85" fill="#b2b2b2"/>
<rect x="165" width="1.05" height="33.85" fill="#b4b4b4"/>
<rect x="166" width="1.05" height="33.85" fill="#b1b1b1"/>
<rect x="167" width="1.05" height="33.85" fill="#b6b6b6"/>
<rect x="168" width="1.05" height="33.85" fill="#949494"/>
<rect x="169" width="1.05" height="33.85" fill="#6e6e6e"/>
<rect x="170" width="1.05" height="33.85" fill="#666666"/>
<rect x="171" width="1.05" height="33.85" fill="#6e6e6e"/>
<rect x="172" width="1.05" height="33.85" fill="#626262"/>
<rect x="173" width="1.05" height="33.85" fill="#818181"/>
<rect x="174" width="1.05" height="33.85" fill="#707070"/>
<rect x="175" width="1.05" height="33.85" fill="#3c3c3c"/>
<rect x="176" width="1.05" height="33.85" fill="#393939"/>
<rect x="177" width="1.05" height="33.85" fill="#424242"/>
<rect x="178" width="1.05" height="33.85" fill="#3b3b3b"/>
<rect x="179" width="1.05" height="33.85" fill="#414141"/>
<rect x="180" width="1.05" height="33.85" fill="#454545"/>
<rect x="181" width="1.05" height="33.85" fill="#434343"/>
<rect x="182" width="1.05" height="33.85" fill="#333333"/>
<rect x="183" width="1.05" height="33.85" fill="#2d2d2d"/>
<rect x="184" width="1.05" height="33.85" fill="#282828"/>
<rect x="185" width="1.05" height="33.85" fill="#393939"/>
<rect x="186" width="1.05" height="33.85" fill="#303030"/>
<rect x="187" width="1.05" height="33.85" fill="#353535"/>
<rect x="188" width="1.05" height="33.85" fill="#2b2b2b"/>
<rect x="189" width="1.05" height="33.85" fill="#292929"/>
<rect x="190" width="1.05" height="33.85" fill="#2b2b2b"/>
<rect x="191" width="1.05" height="33.85" fill="#272727"/>
<rect x="192" width="1.05" height="33.85" fill="#1f1f1f"/>
<rect x="193" width="1.05" height="33.85" fill="#2e2e2e"/>
<rect x="194" width="1.05" height="33.85" fill="#222222"/>
<rect x="195" width="1.05" height="33.85" fill="#292929"/>
<rect x="196" width="1.05" height="33.85" fill="#282828"/>
<rect x="197" width="1.05" height="33.85" fill="#262626"/>
<rect x="198" width="1.05" height="33.85" fill="#1e1e1e"/>
<rect x="199" width="1.05" height="33.85" fill="#2f2f2f"/>
<rect x="200" width="1.05" height="33.85" fill="#1f1f1f"/>
<rect x="201" width="1.05" height="33.85" fill="#262626"/>
<rect x="202" width="1.05" height="33.85" fill="#272727"/>
<rect x="203" width="1.05" height="33.85" fill="#2a2a2a"/>
<rect x="204" width="1.05" height="33.85" fill="#2c2c2c"/>
<rect x="205" width="1.05" height="33.85" fill="#666666"/>
<rect x="206" width="1.05" height="33.85" fill="#3a3a3a"/>
<rect x="207" width="1.05" height="33.85" fill="#181818"/>
<rect x="208" width="1.05" height="33.85" fill="#171717"/>
<rect x="209" width="1.05" height="33.85" fill="#1f1f1f"/>
<rect x="210" width="1.05" height="33.85" fill="#222222"/>
<rect x="211" width="1.05" height="33.85" fill="#1e1e1e"/>
<rect x="212" width="1.05" height="33.85" fill="#212121"/>
<rect x="213" width="1.05" height="33.85" fill="#161616"/>
<rect x="214" width="1.05" height="33.85" fill="#1b1b1b"/>
<rect x="215" width="1.05" height="33.85" fill="#222222"/>
<rect x="216" width="1.05" height="33.85" fill="#828282"/>
<rect x="217" width="1.05" height="33.85" fill="#858585"/>
<rect x="218" width="1.05" height="33.85" fill="#878787"/>
<rect x="219" width="1.05" height="33.85" fill="#828282"/>
<rect x="220" width="1.05" height="33.85" fill="#8a8a8a"/>
<rect x="221" width="1.05" height="33.85" fill="#808080"/>
<rect x="222" width="1.05" height="33.85" fill="#7a7a7a"/>
<rect x="223" width="1.05" height="33.85" fill="#7a7a7a"/>
<rect x="224" width="1.05" height="33.85" fill="#797979"/>
<rect x="225" width="1.05" height="33.85" fill="#818181"/>
<rect x="226" width="1.05" height="33.85" fill="#767676"/>
<rect x="227" width="1.05" height="33.85" fill="#8d8d8d"/>
<rect x="228" width="1.05" height="33.85" fill="#717171"/>
<rect x="229" width="1.05" height="33.85" fill="#707070"/>
<rect x="230" width="1.05" height="33.85" fill="#646464"/>
<rect x="231" width="1.05" height="33.85" fill="#6d6d6d"/>
<rect x="232" width="1.05" height="33.85" fill="#717171"/>
<rect x="233" width="1.05" height="33.85" fill="#696969"/>
<rect x="234" width="1.05" height="33.85" fill="#bababa"/>
<rect x="235" width="1.05" height="33.85" fill="#bfbfbf"/>
<rect x="236" width="1.05" height="33.85" fill="#b9b9b9"/>
<rect x="237" width="1.05" height="33.85" fill="#b8b8b8"/>
<rect x="238" width="1.05" height="33.85" fill="#b1b1b1"/>
<rect x="239" width="1.05" height="33.85" fill="#b4b4b4"/>
<rect x="240" width="1.05" height="33.85" fill="#8f8f8f"/>
<rect x="241" width="1.05" height="33.85" fill="#6a6a6a"/>
<rect x="242" width="1.05" height="33.85" fill="#6c6c6c"/>
<rect x="243" width="1.05" height="33.85" fill="#6d6d6d"/>
<rect x="244" width="1.05" height="33.85" fill="#696969"/>
<rect x="245" width="1.05" height="33.85" fill="#848484"/>
<rect x="246" width="1.05" height="33.85" fill="#6f6f6f"/>
<rect x="247" width="1.05" height="33.85" fill="#424242"/>
<rect x="248" width="1.05" height="33.85" fill="#373737"/>
<rect x="249" width="1.05" height="33.85" fill="#444444"/>
<rect x="250" width="1.05" height="33.85" fill="#3a3a3a"/>
<rect x="251" width="1.05" height="33.85" fill="#414141"/>
<rect x="252" width="1.05" height="33.85" fill="#414141"/>
<rect x="253" width="1.05" height="33.85" fill="#3b3b3b"/>
<rect x="254" width="1.05" height="33.85" fill="#2f2f2f"/>
<rect x="255" width="1.05" height="33.85" fill="#2b2b2b"/>
<rect x="256" width="1.05" height="33.85" fill="#2c2c2c"/>
<rect x="257" width="1.05" height="33.85" fill="#393939"/>
<rect x="258" width="1.05" height="33.85" fill="#323232"/>
<rect x="259" width="1.05" height="33.85" fill="#343434"/>
<rect x="260" width="1.05" height="33.85" fill="#2b2b2b"/>
<rect x="261" width="1.05" height="33.85" fill="#222222"/>
<rect x="262" width="1.05" height="33.85" fill="#2d2d2d"/>
<rect x="263" width="1.05" height="33.85" fill="#232323"/>
<rect x="264" width="1.05" height="33.85" fill="#1f1f1f"/>
<rect x="265" width="1.05" height="33.85" fill="#2e2e2e"/>
<rect x="266" width="1.05" height="33.85" fill="#1c1c1c"/>
<rect x="267" width="1.05" height="33.85" fill="#252525"/>
<rect x="268" width="1.05" height="33.85" fill="#333333"/>
<rect x="269" width="1.05" height="33.85" fill="#262626"/>
<rect x="270" width="1.05" height="33.85" fill="#1e1e1e"/>
<rect x="271" width="1.05" height="33.85" fill="#2a2a2a"/>
<rect x="272" width="1.05" height="33.85" fill="#1f1f1f"/>
<rect x="273" width="1.05" height="33.85" fill="#202020"/>
<rect x="274" width="1.05" height="33.85" fill="#282828"/>
<rect x="275" width="1.05" height="33.85" fill="#2c2c2c"/>
<rect x="276" width="1.05" height="33.85" fill="#2f2f2f"/>
<rect x="277" width="1.05" height="33.85" fill="#636363"/>
<rect x="278" width="1.05" height="33.85" fill="#404040"/>
<rect x="279" width="1.05" height="33.85" fill="#222222"/>
<rect x="280" width="1.05" height="33.85" fill="#1a1a1a"/>
<rect x="281" width="1.05" height="33.85" fill="#1e1e1e"/>
<rect x="282" width="1.05" height="33.85" fill="#1c1c1c"/>
<rect x="283" width="1.05" height="33.85" fill="#1f1f1f"/>
<rect x="284" width="1.05" height="33.85" fill="#222222"/>
<rect x="285" width="1.05" height="33.85" fill="#202020"/>
<rect x="286" width="1.05" height="33.85" fill="#141414"/>
<rect x="287" width="1.05" height="33.85" fill="#272727"/>
<rect x="288" width="1.05" height="33.85" fill="#7f7f7f"/>
<rect x="289" width="1.05" height="33.85" fill="#858585"/>
<rect x="290" width="1.05" height="33.85" fill="#858585"/>
<rect x="291" width="1.05" height="33.85" fill="#828282"/>
<rect x="292" width="1.05" height="33.85" fill="#8b8b8b"/>
<rect x="293" width="1.05" height="33.85" fill="#7f7f7f"/>
<rect x="294" width="1.05" height="33.85" fill="#787878"/>
<rect x="295" width="1.05" height="33.85" fill="#7b7b7b"/>
<rect x="296" width="1.05" height="33.85" fill="#7c7c7c"/>
<rect x="297" width="1.05" height="33.85" fill="#808080"/>
<rect x="298" width="1.05" height="33.85" fill="#707070"/>
<rect x="299" width="1.05" height="33.85" fill="#848484"/>
<rect x="300" width="1.05" height="33.85" fill="#767676"/>
<rect x="301" width="1.05" height="33.85" fill="#696969"/>
<rect x="302" width="1.05" height="33.85" fill="#656565"/>
<rect x="303" width="1.05" height="33.85" fill="#686868"/>
<rect x="304" width="1.05" height="33.85" fill="#727272"/>
<rect x="305" width="1.05" height="33.85" fill="#666666"/>
<rect x="306" width="1.05" height="33.85" fill="#b4b4b4"/>
<rect x="307" width="1.05" height="33.85" fill="#bbbbbb"/>
<rect x="308" width="1.05" height="33.85" fill="#b1b1b1"/>
<rect x="309" width="1.05" height="33.85" fill="#bcbcbc"/>
<rect x="310" width="1.05" height="33.85" fill="#b7b7b7"/>
<rect x="311" width="1.05" height="33.85" fill="#b5b5b5"/>
<rect x="312" width="1.05" height="33.85" fill="#8d8d8d"/>
<rect x="313" width="1.05" height="33.85" fill="#676767"/>
<rect x="314" width="1.05" height="33.85" fill="#696969"/>
<rect x="315" width="1.05" height="33.85" fill="#6f6f6f"/>
<rect x="316" width="1.05" height="33.85" fill="#636363"/>
<rect x="317" width="1.05" height="33.85" fill="#848484"/>
<rect x="318" width="1.05" height="33.85" fill="#727272"/>
<rect x="319" width="1.05" height="33.85" fill="#424242"/>
<rect x="320" width="1.05" height="33.85" fill="#363636"/>
<rect x="321" width="1.05" height="33.85" fill="#404040"/>
<rect x="322" width="1.05" height="33.85" fill="#3c3c3c"/>
<rect x="323" width="1.05" height="33.85" fill="#414141"/>
<rect x="324" width="1.05" height="33.85" fill="#404040"/>
<rect x="325" width="1.05" height="33.85" fill="#404040"/>
<rect x="326" width="1.05" height="33.85" fill="#323232"/>
<rect x="327" width="1.05" height="33.85" fill="#2a2a2a"/>
<rect x="328" width="1.05" height="33.85" fill="#272727"/>
<rect x="329" width="1.05" height="33.85" fill="#393939"/>
<rect x="330" width="1.05" height="33.85" fill="#333333"/>
<rect x="331" width="1.05" height="33.85" fill="#383838"/>
<rect x="332" width="1.05" height="33.85" fill="#282828"/>
<rect x="333" width="1.05" height="33.85" fill="#272727"/>
<rect x="334" width="1.05" height="33.85" fill="#2c2c2c"/>
<rect x="335" width="1.05" height="33.85" fill="#2a2a2a"/>
<rect x="336" width="1.05" height="33.85" fill="#1f1f1f"/>
<rect x="337" width="1.05" height="33.85" fill="#2d2d2d"/>
<rect x="338" width="1.05" height="33.85" fill="#212121"/>
<rect x="339" width="1.05" height="33.85" fill="#292929"/>
<rect x="340" width="1.05" height="33.85" fill="#2b2b2b"/>
<rect x="341" width="1.05" height="33.85" fill="#282828"/>
<rect x="342" width="1.05" height="33.85" fill="#202020"/>
<rect x="343" width="1.05" height="33.85" fill="#2d2d2d"/>
<rect x="344" width="1.05" height="33.85" fill="#232323"/>
<rect x="345" width="1.05" height="33.85" fill="#232323"/>
<rect x="346" width="1.05" height="33.85" fill="#242424"/>
<rect x="347" width="1.05" height="33.85" fill="#282828"/>
<rect x="348" width="1.05" height="33.85" fill="#2c2c2c"/>
<rect x="349" width="1.05" height="33.85" fill="#666666"/>
<rect x="350" width="1.05" height="33.85" fill="#434343"/>
<rect x="351" width="1.05" height="33.85" fill="#232323"/>
<rect x="352" width="1.05" height="33.85" fill="#151515"/>
<rect x="353" width="1.05" height="33.85" fill="#1e1e1e"/>
<rect x="354" width="1.05" height="33.85" fill="#212121"/>
<rect x="355" width="1.05" height="33.85" fill="#1c1c1c"/>
<rect x="356" width="1.05" height="33.85" fill="#212121"/>
<rect x="357" width="1.05" height="33.85" fill="#1b1b1b"/>
<rect x="358" width="1.05" height="33.85" fill="#1b1b1b"/>
<rect x="359" width="1.05" height="33.85" fill="#252525"/>
</g>
<g transform="translate(0,101.90)">
<rect x="0" width="1.05" height="33.85" fill="#a7a7a7"/>
<rect x="1" width="1.05" height="33.85" fill="#ababab"/>
<rect x="2" width="1.05" height="33.85" fill="#b4b4b4"/>
<rect x="3" width="1.05" height="33.85" fill="#a4a4a4"/>
<rect x="4" width="1.05" height="33.85" fill="#969696"/>
<rect x="5" width="1.05" height="33.85" fill="#929292"/>
<rect x="6" width="1.05" height="33.85" fill="#868686"/>
<rect x="7" width="1.05" height="33.85" fill="#969696"/>
<rect x="8" width="1.05" height="33.85" fill="#929292"/>
<rect x="9" width="1.05" height="33.85" fill="#8b8b8b"/>
<rect x="10" width="1.05" height="33.85" fill="#8b8b8b"/>
<rect x="11" width="1.05" height="33.85" fill="#999999"/>
<rect x="12" width="1.05" height="33.85" fill="#939393"/>
<rect x="13" width="1.05" height="33.85" fill="#979797"/>
<rect x="14" width="1.05" height="33.85" fill="#8c8c8c"/>
<rect x="15" width="1.05" height="33.85" fill="#919191"/>
<rect x="16" width="1.05" height="33.85" fill="#8d8d8d"/>
<rect x="17" width="1.05" height="33.85" fill="#b1b1b1"/>
<rect x="18" width="1.05" height="33.85" fill="#cbcbcb"/>
<rect x="19" width="1.05" height="33.85" fill="#cccccc"/>
<rect x="20" width="1.05" height="33.85" fill="#d2d2d2"/>
<rect x="21" width="1.05" height="33.85" fill="#d1d1d1"/>
<rect x="22" width="1.05" height="33.85" fill="#bebebe"/>
<rect x="23" width="1.05" height="33.85" fill="#ababab"/>
<rect x="24" width="1.05" height="33.85" fill="#9d9d9d"/>
<rect x="25" width="1.05" height="33.85" fill="#a6a6a6"/>
<rect x="26" width="1.05" height="33.85" fill="#989898"/>
<rect x="27" width="1.05" height="33.85" fill="#a6a6a6"/>
<rect x="28" width="1.05" height="33.85" fill="#9d9d9d"/>
<rect x="29" width="1.05" height="33.85" fill="#9f9f9f"/>
<rect x="30" width="1.05" height="33.85" fill="#797979"/>
<rect x="31" width="1.05" height="33.85" fill="#5c5c5c"/>
<rect x="32" width="1.05" height="33.85" fill="#606060"/>
<rect x="33" width="1.05" height="33.85" fill="#4c4c4c"/>
<rect x="34" width="1.05" height="33.85" fill="#3e3e3e"/>
<rect x="35" width="1.05" height="33.85" fill="#3a3a3a"/>
<rect x="36" width="1.05" height="33.85" fill="#414141"/>
<rect x="37" width="1.05" height="33.85" fill="#373737"/>
<rect x="38" width="1.05" height="33.85" fill="#4f4f4f"/>
<rect x="39" width="1.05" height="33.85" fill="#484848"/>
<rect x="40" width="1.05" height="33.85" fill="#4c4c4c"/>
<rect x="41" width="1.05" height="33.85" fill="#535353"/>
<rect x="42" width="1.05" height="33.85" fill="#525252"/>
<rect x="43" width="1.05" height="33.85" fill="#414141"/>
<rect x="44" width="1.05" height="33.85" fill="#525252"/>
<rect x="45" width="1.05" height="33.85" fill="#585858"/>
<rect x="46" width="1.05" height="33.85" fill="#535353"/>
<rect x="47" width="1.05" height="33.85" fill="#515151"/>
<rect x="48" width="1.05" height="33.85" fill="#565656"/>
<rect x="49" width="1.05" height="33.85" fill="#555555"/>
<rect x="50" width="1.05" height="33.85" fill="#4c4c4c"/>
<rect x="51" width="1.05" height="33.85" fill="#424242"/>
<rect x="52" width="1.05" height="33.85" fill="#434343"/>
<rect x="53" width="1.05" height="33.85" fill="#404040"/>
<rect x="54" width="1.05" height="33.85" fill="#454545"/>
<rect x="55" width="1.05" height="33.85" fill="#474747"/>
<rect x="56" width="1.05" height="33.85" fill="#474747"/>
<rect x="57" width="1.05" height="33.85" fill="#454545"/>
<rect x="58" width="1.05" height="33.85" fill="#474747"/>
<rect x="59" width="1.05" height="33.85" fill="#393939"/>
<rect x="60" width="1.05" height="33.85" fill="#525252"/>
<rect x="61" width="1.05" height="33.85" fill="#696969"/>
<rect x="62" width="1.05" height="33.85" fill="#474747"/>
<rect x="63" width="1.05" height="33.85" fill="#2d2d2d"/>
<rect x="64" width="1.05" height="33.85" fill="#373737"/>
<rect x="65" width="1.05" height="33.85" fill="#3d3d3d"/>
<rect x="66" width="1.05" height="33.85" fill="#3b3b3b"/>
<rect x="67" width="1.05" height="33.85" fill="#373737"/>
<rect x="68" width="1.05" height="33.85" fill="#3c3c3c"/>
<rect x="69" width="1.05" height="33.85" fill="#3b3b3b"/>
<rect x="70" width="1.05" height="33.85" fill="#3c3c3c"/>
<rect x="71" width="1.05" height="33.85" fill="#3f3f3f"/>
<rect x="72" width="1.05" height="33.85" fill="#a1a1a1"/>
<rect x="73" width="1.05" height="33.85" fill="#a9a9a9"/>
<rect x="74" width="1.05" height="33.85" fill="#b4b4b4"/>
<rect x="75" width="1.05" height="33.85" fill="#a7a7a7"/>
<rect x="76" width="1.05" height="33.85" fill="#989898"/>
<rect x="77" width="1.05" height="33.85" fill="#8d8d8d"/>
<rect x="78" width="1.05" height="33.85" fill="#8a8a8a"/>
<rect x="79" width="1.05" height="33.85" fill="#959595"/>
<rect x="80" width="1.05" height="33.85" fill="#939393"/>
<rect x="81" width="1.05" height="33.85" fill="#8c8c8c"/>
<rect x="82" width="1.05" height="33.85" fill="#909090"/>
<rect x="83" width="1.05" height="33.85" fill="#9a9a9a"/>
<rect x="84" width="1.05" height="33.85" fill="#8f8f8f"/>
<rect x="85" width="1.05" height="33.85" fill="#939393"/>
<rect x="86" width="1.05" height="33.85" fill="#8a8a8a"/>
<rect x="87" width="1.05" height="33.85" fill="#949494"/>
<rect x="88" width="1.05" height="33.85" fill="#919191"/>
<rect x="89" width="1.05" height="33.85" fill="#b6b6b6"/>
<rect x="90" width="1.05" height="33.85" fill="#cccccc"/>
<rect x="91" width="1.05" height="33.85" fill="#cecece"/>
<rect x="92" width="1.05" height="33.85" fill="#d0d0d0"/>
<rect x="93" width="1.05" height="33.85" fill="#d0d0d0"/>
<rect x="94" width="1.05" height="33.85" fill="#c1c1c1"/>
<rect x="95" width="1.05" height="33.85" fill="#a5a5a5"/>
<rect x="96" width="1.05" height="33.85" fill="#9f9f9f"/>
<rect x="97" width="1.05" height="33.85" fill="#9f9f9f"/>
<rect x="98" width="1.05" height="33.85" fill="#939393"/>
<rect x="99" width="1.05" height="33.85" fill="#a4a4a4"/>
<rect x="100" width="1.05" height="33.85" fill="#989898"/>
<rect x="101" width="1.05" height="33.85" fill="#a0a0a0"/>
<rect x="102" width="1.05" height="33.85" fill="#787878"/>
<rect x="103" width="1.05" height="33.85" fill="#5e5e5e"/>
<rect x="104" width="1.05" height="33.85" fill="#656565"/>
<rect x="105" width="1.05" height="33.85" fill="#4c4c4c"/>
<rect x="106" width="1.05" height="33.85" fill="#3d3d3d"/>
<rect x="107" width="1.05" height="33.85" fill="#3c3c3c"/>
<rect x="108" width="1.05" height="33.85" fill="#3e3e3e"/>
<rect x="109" width="1.05" height="33.85" fill="#373737"/>
<rect x="110" width="1.05" height="33.85" fill="#474747"/>
<rect x="111" width="1.05" height="33.85" fill="#4d4d4d"/>
<rect x="112" width="1.05" height="33.85" fill="#454545"/>
<rect x="113" width="1.05" height="33.85" fill="#505050"/>
<rect x="114" width="1.05" height="33.85" fill="#4d4d4d"/>
<rect x="115" width="1.05" height="33.85" fill="#414141"/>
<rect x="116" width="1.05" height="33.85" fill="#5a5a5a"/>
<rect x="117" width="1.05" height="33.85" fill="#5b5b5b"/>
<rect x="118" width="1.05" height="33.85" fill="#585858"/>
<rect x="119" width="1.05" height="33.85" fill="#515151"/>
<rect x="120" width="1.05" height="33.85" fill="#565656"/>
<rect x="121" width="1.05" height="33.85" fill="#545454"/>
<rect x="122" width="1.05" height="33.85" fill="#474747"/>
<rect x="123" width="1.05" height="33.85" fill="#444444"/>
<rect x="124" width="1.05" height="33.85" fill="#3e3e3e"/>
<rect x="125" width="1.05" height="33.85" fill="#3b3b3b"/>
<rect x="126" width="1.05" height="33.85" fill="#434343"/>
<rect x="127" width="1.05" height="33.85" fill="#4a4a4a"/>
<rect x="128" width="1.05" height="33.85" fill="#464646"/>
<rect x="129" width="1.05" height="33.85" fill="#3f3f3f"/>
<rect x="130" width="1.05" height="33.85" fill="#4a4a4a"/>
<rect x="131" width="1.05" height="33.85" fill="#383838"/>
<rect x="132" width="1.05" height="33.85" fill="#494949"/>
<rect x="133" width="1.05" height="33.85" fill="#656565"/>
<rect x="134" width="1.05" height="33.85" fill="#454545"/>
<rect x="135" width="1.05" height="33.85" fill="#313131"/>
<rect x="136" width="1.05" height="33.85" fill="#3c3c3c"/>
<rect x="137" width="1.05" height="33.85" fill="#414141"/>
<rect x="138" width="1.05" height="33.85" fill="#393939"/>
<rect x="139" width="1.05" height="33.85" fill="#404040"/>
<rect x="140" width="1.05" height="33.85" fill="#343434"/>
<rect x="141" width="1.05" height="33.85" fill="#333333"/>
<rect x="142" width="1.05" height="33.85" fill="#3e3e3e"/>
<rect x="143" width="1.05" height="33.85" fill="#444444"/>
<rect x="144" width="1.05" height="33.85" fill="#a3a3a3"/>
<rect x="145" width="1.05" height="33.85" fill="#a9a9a9"/>
<rect x="146" width="1.05" height="33.85" fill="#adadad"/>
<rect x="147" width="1.05" height="33.85" fill="#a6a6a6"/>
<rect x="148" width="1.05" height="33.85" fill="#979797"/>
<rect x="149" width="1.05" height="33.85" fill="#919191"/>
<rect x="150" width="1.05" height="33.85" fill="#888888"/>
<rect x="151" width="1.05" height="33.85" fill="#969696"/>
<rect x="152" width="1.05" height="33.85" fill="#959595"/>
<rect x="153" width="1.05" height="33.85" fill="#8f8f8f"/>
<rect x="154" width="1.05" height="33.85" fill="#949494"/>
<rect x="155" width="1.05" height="33.85" fill="#9a9a9a"/>
<rect x="156" width="1.05" height="33.85" fill="#919191"/>
<rect x="157" width="1.05" height="33.85" fill="#909090"/>
<rect x="158" width="1.05" height="33.85" fill="#8f8f8f"/>
<rect x="159" width="1.05" height="33.85" fill="#929292"/>
<rect x="160" width="1.05" height="33.85" fill="#989898"/>
<rect x="161" width="1.05" height="33.85" fill="#b0b0b0"/>
<rect x="162" width="1.05" height="33.85" fill="#d0d0d0"/>
<rect x="163" width="1.05" height="33.85" fill="#d0d0d0"/>
<rect x="164" width="1.05" height="33.85" fill="#d8d8d8"/>
<rect x="165" width="1.05" height="33.85" fill="#cfcfcf"/>
<rect x="166" width="1.05" height="33.85" fill="#c3c3c3"/>
<rect x="167" width="1.05" height="33.85" fill="#a5a5a5"/>
<rect x="168" width="1.05" height="33.85" fill="#9e9e9e"/>
<rect x="169" width="1.05" height="33.85" fill="#9d9d9d"/>
<rect x="170" width="1.05" height="33.85" fill="#949494"/>
<rect x="171" width="1.05" height="33.85" fill="#a3a3a3"/>
<rect x="172" width="1.05" height="33.85" fill="#999999"/>
<rect x="173" width="1.05" height="33.85" fill="#9f9f9f"/>
<rect x="174" width="1.05" height="33.85" fill="#7a7a7a"/>
<rect x="175" width="1.05" height="33.85" fill="#606060"/>
<rect x="176" width="1.05" height="33.85" fill="#5d5d5d"/>
<rect x="177" width="1.05" height="33.85" fill="#4e4e4e"/>
<rect x="178" width="1.05" height="33.85" fill="#3f3f3f"/>
<rect x="179" width="1.05" height="33.85" fill="#363636"/>
<rect x="180" width="1.05" height="33.85" fill="#3e3e3e"/>
<rect x="181" width="1.05" height="33.85" fill="#353535"/>
<rect x="182" width="1.05" height="33.85" fill="#424242"/>
<rect x="183" width="1.05" height="33.85" fill="#4b4b4b"/>
<rect x="184" width="1.05" height="33.85" fill="#4d4d4d"/>
<rect x="185" width="1.05" height="33.85" fill="#555555"/>
<rect x="186" width="1.05" height="33.85" fill="#545454"/>
<rect x="187" width="1.05" height="33.85" fill="#444444"/>
<rect x="188" width="1.05" height="33.85" fill="#565656"/>
<rect x="189" width="1.05" height="33.85" fill="#5c5c5c"/>
<rect x="190" width="1.05" height="33.85" fill="#565656"/>
<rect x="191" width="1.05" height="33.85" fill="#555555"/>
<rect x="192" width="1.05" height="33.85" fill="#555555"/>
<rect x="193" width="1.05" height="33.85" fill="#545454"/>
<rect x="194" width="1.05" height="33.85" fill="#494949"/>
<rect x="195" width="1.05" height="33.85" fill="#474747"/>
<rect x="196" width="1.05" height="33.85" fill="#454545"/>
<rect x="197" width="1.05" height="33.85" fill="#424242"/>
<rect x="198" width="1.05" height="33.85" fill="#404040"/>
<rect x="199" width="1.05" height="33.85" fill="#444444"/>
<rect x="200" width="1.05" height="33.85" fill="#454545"/>
<rect x="201" width="1.05" height="33.85" fill="#424242"/>
<rect x="202" width="1.05" height="33.85" fill="#3f3f3f"/>
<rect x="203" width="1.05" height="33.85" fill="#353535"/>
<rect x="204" width="1.05" height="33.85" fill="#4b4b4b"/>
<rect x="205" width="1.05" height="33.85" fill="#616161"/>
<rect x="206" width="1.05" height="33.85" fill="#4a4a4a"/>
<rect x="207" width="1.05" height="33.85" fill="#373737"/>
<rect x="208" width="1.05" height="33.85" fill="#383838"/>
<rect x="209" width="1.05" height="33.85" fill="#3f3f3f"/>
<rect x="210" width="1.05" height="33.85" fill="#353535"/>
<rect x="211" width="1.05" height="33.85" fill="#3d3d3d"/>
<rect x="212" width="1.05" height="33.85" fill="#333333"/>
<rect x="213" width="1.05" height="33.85" fill="#313131"/>
<rect x="214" width="1.05" height="33.85" fill="#393939"/>
<rect x="215" width="1.05" height="33.85" fill="#494949"/>
<rect x="216" width="1.05" height="33.85" fill="#9d9d9d"/>
<rect x="217" width="1.05" height="33.85" fill="#a5a5a5"/>
<rect x="218" width="1.05" height="33.85" fill="#b0b0b0"/>
<rect x="219" width="1.05" height="33.85" fill="#a6a6a6"/>
<rect x="220" width="1.05" height="33.85" fill="#9a9a9a"/>
<rect x="221" width="1.05" height="33.85" fill="#939393"/>
<rect x="222" width="1.05" height="33.85" fill="#868686"/>
<rect x="223" width="1.05" height="33.85" fill="#959595"/>
<rect x="224" width="1.05" height="33.85" fill="#959595"/>
<rect x="225" width="1.05" height="33.85" fill="#878787"/>
<rect x="226" width="1.05" height="33.85" fill="#949494"/>
<rect x="227" width="1.05" height="33.85" fill="#9a9a9a"/>
<rect x="228" width="1.05" height="33.85" fill="#969696"/>
<rect x="229" width="1.05" height="33.85" fill="#8e8e8e"/>
<rect x="230" width="1.05" height="33.85" fill="#8b8b8b"/>
<rect x="231" width="1.05" height="33.85" fill="#8e8e8e"/>
<rect x="232" width="1.05" height="33.85" fill="#919191"/>
<rect x="233" width="1.05" height="33.85" fill="#b7b7b7"/>
<rect x="234" width="1.05" height="33.85" fill="#c9c9c9"/>
<rect x="235" width="1.05" height="33.85" fill="#cecece"/>
<rect x="236" width="1.05" height="33.85" fill="#cecece"/>
<rect x="237" width="1.05" height="33.85" fill="#d0d0d0"/>
<rect x="238" width="1.05" height="33.85" fill="#c4c4c4"/>
<rect x="239" width="1.05" height="33.85" fill="#a8a8a8"/>
<rect x="240" width="1.05" height="33.85" fill="#a6a6a6"/>
<rect x="241" width="1.05" height="33.85" fill="#a0a0a0"/>
<rect x="242" width="1.05" height="33.85" fill="#9a9a9a"/>
<rect x="243" width="1.05" height="33.85" fill="#a2a2a2"/>
<rect x="244" width="1.05" height="33.85" fill="#9d9d9d"/>
<rect x="245" width="1.05" height="33.85" fill="#a0a0a0"/>
<rect x="246" width="1.05" height="33.85" fill="#797979"/>
<rect x="247" width="1.05" height="33.85" fill="#5d5d5d"/>
<rect x="248" width="1.05" height="33.85" fill="#5b5b5b"/>
<rect x="249" width="1.05" height="33.85" fill="#434343"/>
<rect x="250" width="1.05" height="33.85" fill="#3b3b3b"/>
<rect x="251" width="1.05" height="33.85" fill="#383838"/>
<rect x="252" width="1.05" height="33.85" fill="#3e3e3e"/>
<rect x="253" width="1.05" height="33.85" fill="#3c3c3c"/>
<rect x="254" width="1.05" height="33.85" fill="#4b4b4b"/>
<rect x="255" width="1.05" height="33.85" fill="#4c4c4c"/>
<rect x="256" width="1.05" height="33.85" fill="#515151"/>
<rect x="257" width="1.05" height="33.85" fill="#525252"/>
<rect x="258" width="1.05" height="33.85" fill="#515151"/>
<rect x="259" width="1.05" height="33.85" fill="#454545"/>
<rect x="260" width="1.05" height="33.85" fill="#565656"/>
<rect x="261" width="1.05" height="33.85" fill="#5c5c5c"/>
<rect x="262" width="1.05" height="33.85" fill="#575757"/>
<rect x="263" width="1.05" height="33.85" fill="#585858"/>
<rect x="264" width="1.05" height="33.85" fill="#595959"/>
<rect x="265" width="1.05" height="33.85" fill="#575757"/>
<rect x="266" width="1.05" height="33.85" fill="#464646"/>
<rect x="267" width="1.05" height="33.85" fill="#454545"/>
<rect x="268" width="1.05" height="33.85" fill="#434343"/>
<rect x="269" width="1.05" height="33.85" fill="#3f3f3f"/>
<rect x="270" width="1.05" height="33.85" fill="#3d3d3d"/>
<rect x="271" width="1.05" height="33.85" fill="#434343"/>
<rect x="272" width="1.05" height="33.85" fill="#434343"/>
<rect x="273" width="1.05" height="33.85" fill="#414141"/>
<rect x="274" width="1.05" height="33.85" fill="#4a4a4a"/>
<rect x="275" width="1.05" height="33.85" fill="#3b3b3b"/>
<rect x="276" width="1.05" height="33.85" fill="#494949"/>
<rect x="277" width="1.05" height="33.85" fill="#656565"/>
<rect x="278" width="1.05" height="33.85" fill="#474747"/>
<rect x="279" width="1.05" height="33.85" fill="#323232"/>
<rect x="280" width="1.05" height="33.85" fill="#383838"/>
<rect x="281" width="1.05" height="33.85" fill="#3a3a3a"/>
<rect x="282" width="1.05" height="33.85" fill="#383838"/>
<rect x="283" width="1.05" height="33.85" fill="#3f3f3f"/>
<rect x="284" width="1.05" height="33.85" fill="#363636"/>
<rect x="285" width="1.05" height="33.85" fill="#373737"/>
<rect x="286" width="1.05" height="33.85" fill="#3b3b3b"/>
<rect x="287" width="1.05" height="33.85" fill="#484848"/>
<rect x="288" width="1.05" height="33.85" fill="#a2a2a2"/>
<rect x="289" width="1.05" height="33.85" fill="#a9a9a9"/>
<rect x="290" width="1.05" height="33.85" fill="#b3b3b3"/>
<rect x="291" width="1.05" height="33.85" fill="#a5a5a5"/>
<rect x="292" width="1.05" height="33.85" fill="#9a9a9a"/>
<rect x="293" width="1.05" height="33.85" fill="#959595"/>
<rect x="294" width="1.05" height="33.85" fill="#8a8a8a"/>
<rect x="295" width="1.05" height="33.85" fill="#969696"/>
<rect x="296" width="1.05" height="33.85" fill="#989898"/>
<rect x="297" width="1.05" height="33.85" fill="#8d8d8d"/>
<rect x="298" width="1.05" height="33.85" fill="#8e8e8e"/>
<rect x="299" width="1.05" height="33.85" fill="#a2a2a2"/>
<rect x="300" width="1.05" height="33.85" fill="#939393"/>
<rect x="301" width="1.05" height="33.85" fill="#949494"/>
<rect x="302" width="1.05" height="33.85" fill="#8c8c8c"/>
<rect x="303" width="1.05" height="33.85" fill="#8a8a8a"/>
<rect x="304" width="1.05" height="33.85" fill="#919191"/>
<rect x="305" width="1.05" height="33.85" fill="#b5b5b5"/>
<rect x="306" width="1.05" height="33.85" fill="#d0d0d0"/>
<rect x="307" width="1.05" height="33.85" fill="#cdcdcd"/>
<rect x="308" width="1.05" height="33.85" fill="#d3d3d3"/>
<rect x="309" width="1.05" height="33.85" fill="#d2d2d2"/>
<rect x="310" width="1.05" height="33.85" fill="#c6c6c6"/>
<rect x="311" width="1.05" height="33.85" fill="#aaaaaa"/>
<rect x="312" width="1.05" height="33.85" fill="#a0a0a0"/>
<rect x="313" width="1.05" height="33.85" fill="#a0a0a0"/>
<rect x="314" width="1.05" height="33.85" fill="#959595"/>
<rect x="315" width="1.05" height="33.85" fill="#aaaaaa"/>
<rect x="316" width="1.05" height="33.85" fill="#9a9a9a"/>
<rect x="317" width="1.05" height="33.85" fill="#a0a0a0"/>
<rect x="318" width="1.05" height="33.85" fill="#7a7a7a"/>
<rect x="319" width="1.05" height="33.85" fill="#585858"/>
<rect x="320" width="1.05" height="33.85" fill="#606060"/>
<rect x="321" width="1.05" height="33.85" fill="#4b4b4b"/>
<rect x="322" width="1.05" height="33.85" fill="#3d3d3d"/>
<rect x="323" width="1.05" height="33.85" fill="#3a3a3a"/>
<rect x="324" width="1.05" height="33.85" fill="#3b3b3b"/>
<rect x="325" width="1.05" height="33.85" fill="#3a3a3a"/>
<rect x="326" width="1.05" height="33.85" fill="#454545"/>
<rect x="327" width="1.05" height="33.85" fill="#4e4e4e"/>
<rect x="328" width="1.05" height="33.85" fill="#4f4f4f"/>
<rect x="329" width="1.05" height="33.85" fill="#4c4c4c"/>
<rect x="330" width="1.05" height="33.85" fill="#525252"/>
<rect x="331" width="1.05" height="33.85" fill="#464646"/>
<rect x="332" width="1.05" height="33.85" fill="#595959"/>
<rect x="333" width="1.05" height="33.85" fill="#5e5e5e"/>
<rect x="334" width="1.05" height="33.85" fill="#545454"/>
<rect x="335" width="1.05" height="33.85" fill="#555555"/>
<rect x="336" width="1.05" height="33.85" fill="#565656"/>
<rect x="337" width="1.05" height="33.85" fill="#5b5b5b"/>
<rect x="338" width="1.05" height="33.85" fill="#494949"/>
<rect x="339" width="1.05" height="33.85" fill="#414141"/>
<rect x="340" width="1.05" height="33.85" fill="#414141"/>
<rect x="341" width="1.05" height="33.85" fill="#424242"/>
<rect x="342" width="1.05" height="33.85" fill="#3f3f3f"/>
<rect x="343" width="1.05" height="33.85" fill="#414141"/>
<rect x="344" width="1.05" height="33.85" fill="#4e4e4e"/>
<rect x="345" width="1.05" height="33.85" fill="#444444"/>
<rect x="346" width="1.05" height="33.85" fill="#424242"/>
<rect x="347" width="1.05" height="33.85" fill="#3d3d3d"/>
<rect x="348" width="1.05" height="33.85" fill="#4a4a4a"/>
<rect x="349" width="1.05" height="33.85" fill="#616161"/>
<rect x="350" width="1.05" height="33.85" fill="#4b4b4b"/>
<rect x="351" width="1.05" height="33.85" fill="#313131"/>
<rect x="352" width="1.05" height="33.85" fill="#3b3b3b"/>
<rect x="353" width="1.05" height="33.85" fill="#3e3e3e"/>
<rect x="354" width="1.05" height="33.85" fill="#3c3c3c"/>
<rect x="355" width="1.05" height="33.85" fill="#3d3d3d"/>
<rect x="356" width="1.05" height="33.85" fill="#2f2f2f"/>
<rect x="357" width="1.05" height="33.85" fill="#363636"/>
<rect x="358" width="1.05" height="33.85" fill="#3d3d3d"/>
<rect x="359" width="1.05" height="33.85" fill="#484848"/>
</g>
<g transform="translate(0,135.70)">
<rect x="0" width="1.05" height="33.85" fill="#a6a6a6"/>
<rect x="1" width="1.05" height="33.85" fill="#a7a7a7"/>
<rect x="2" width="1.05" height="33.85" fill="#c6c6c6"/>
<rect x="3" width="1.05" height="33.85" fill="#cbcbcb"/>
<rect x="4" width="1.05" height="33.85" fill="#d4d4d4"/>
<rect x="5" width="1.05" height="33.85" fill="#c5c5c5"/>
<rect x="6" width="1.05" height="33.85" fill="#c2c2c2"/>
<rect x="7" width="1.05" height="33.85" fill="#c5c5c5"/>
<rect x="8" width="1.05" height="33.85" fill="#d0d0d0"/>
<rect x="9" width="1.05" height="33.85" fill="#c9c9c9"/>
<rect x="10" width="1.05" height="33.85" fill="#c5c5c5"/>
<rect x="11" width="1.05" height="33.85" fill="#c0c0c0"/>
<rect x="12" width="1.05" height="33.85" fill="#c2c2c2"/>
<rect x="13" width="1.05" height="33.85" fill="#c3c3c3"/>
<rect x="14" width="1.05" height="33.85" fill="#c5c5c5"/>
<rect x="15" width="1.05" height="33.85" fill="#cecece"/>
<rect x="16" width="1.05" height="33.85" fill="#c0c0c0"/>
<rect x="17" width="1.05" height="33.85" fill="#d0d0d0"/>
<rect x="18" width="1.05" height="33.85" fill="#d6d6d6"/>
<rect x="19" width="1.05" height="33.85" fill="#d5d5d5"/>
<rect x="20" width="1.05" height="33.85" fill="#e0e0e0"/>
<rect x="21" width="1.05" height="33.85" fill="#dcdcdc"/>
<rect x="22" width="1.05" height="33.85" fill="#cdcdcd"/>
<rect x="23" width="1.05" height="33.85" fill="#b8b8b8"/>
<rect x="24" width="1.05" height="33.85" fill="#d2d2d2"/>
<rect x="25" width="1.05" height="33.85" fill="#d0d0d0"/>
<rect x="26" width="1.05" height="33.85" fill="#d4d4d4"/>
<rect x="27" width="1.05" height="33.85" fill="#d7d7d7"/>
<rect x="28" width="1.05" height="33.85" fill="#d5d5d5"/>
<rect x="29" width="1.05" height="33.85" fill="#c4c4c4"/>
<rect x="30" width="1.05" height="33.85" fill="#c9c9c9"/>
<rect x="31" width="1.05" height="33.85" fill="#cacaca"/>
<rect x="32" width="1.05" height="33.85" fill="#b8b8b8"/>
<rect x="33" width="1.05" height="33.85" fill="#a6a6a6"/>
<rect x="34" width="1.05" height="33.85" fill="#989898"/>
<rect x="35" width="1.05" height="33.85" fill="#a9a9a9"/>
<rect x="36" width="1.05" height="33.85" fill="#a1a1a1"/>
<rect x="37" width="1.05" height="33.85" fill="#9d9d9d"/>
<rect x="38" width="1.05" height="33.85" fill="#959595"/>
<rect x="39" width="1.05" height="33.85" fill="#989898"/>
<rect x="40" width="1.05" height="33.85" fill="#929292"/>
<rect x="41" width="1.05" height="33.85" fill="#858585"/>
<rect x="42" width="1.05" height="33.85" fill="#8c8c8c"/>
<rect x="43" width="1.05" height="33.85" fill="#7c7c7c"/>
<rect x="44" width="1.05" height="33.85" fill="#818181"/>
<rect x="45" width="1.05" height="33.85" fill="#7f7f7f"/>
<rect x="46" width="1.05" height="33.85" fill="#848484"/>
<rect x="47" width="1.05" height="33.85" fill="#828282"/>
<rect x="48" width="1.05" height="33.85" fill="#868686"/>
<rect x="49" width="1.05" height="33.85" fill="#7d7d7d"/>
<rect x="50" width="1.05" height="33.85" fill="#848484"/>
<rect x="51" width="1.05" height="33.85" fill="#8e8e8e"/>
<rect x="52" width="1.05" height="33.85" fill="#858585"/>
<rect x="53" width="1.05" height="33.85" fill="#8d8d8d"/>
<rect x="54" width="1.05" height="33.85" fill="#8d8d8d"/>
<rect x="55" width="1.05" height="33.85" fill="#8b8b8b"/>
<rect x="56" width="1.05" height="33.85" fill="#939393"/>
<rect x="57" width="1.05" height="33.85" fill="#838383"/>
<rect x="58" width="1.05" height="33.85" fill="#959595"/>
<rect x="59" width="1.05" height="33.85" fill="#a0a0a0"/>
<rect x="60" width="1.05" height="33.85" fill="#9a9a9a"/>
<rect x="61" width="1.05" height="33.85" fill="#8b8b8b"/>
<rect x="62" width="1.05" height="33.85" fill="#707070"/>
<rect x="63" width="1.05" height="33.85" fill="#6f6f6f"/>
<rect x="64" width="1.05" height="33.85" fill="#606060"/>
<rect x="65" width="1.05" height="33.85" fill="#676767"/>
<rect x="66" width="1.05" height="33.85" fill="#6a6a6a"/>
<rect x="67" width="1.05" height="33.85" fill="#606060"/>
<rect x="68" width="1.05" height="33.85" fill="#646464"/>
<rect x="69" width="1.05" height="33.85" fill="#646464"/>
<rect x="70" width="1.05" height="33.85" fill="#5f5f5f"/>
<rect x="71" width="1.05" height="33.85" fill="#696969"/>
<rect x="72" width="1.05" height="33.85" fill="#9d9d9d"/>
<rect x="73" width="1.05" height="33.85" fill="#a7a7a7"/>
<rect x="74" width="1.05" height="33.85" fill="#c9c9c9"/>
<rect x="75" width="1.05" height="33.85" fill="#d2d2d2"/>
<rect x="76" width="1.05" height="33.85" fill="#d3d3d3"/>
<rect x="77" width="1.05" height="33.85" fill="#c4c4c4"/>
<rect x="78" width="1.05" height="33.85" fill="#c5c5c5"/>
<rect x="79" width="1.05" height="33.85" fill="#c2c2c2"/>
<rect x="80" width="1.05" height="33.85" fill="#cecece"/>
<rect x="81" width="1.05" height="33.85" fill="#cacaca"/>
<rect x="82" width="1.05" height="33.85" fill="#c6c6c6"/>
<rect x="83" width="1.05" height="33.85" fill="#c2c2c2"/>
<rect x="84" width="1.05" height="33.85" fill="#c6c6c6"/>
<rect x="85" width="1.05" height="33.85" fill="#c6c6c6"/>
<rect x="86" width="1.05" height="33.85" fill="#c8c8c8"/>
<rect x="87" width="1.05" height="33.85" fill="#cecece"/>
<rect x="88" width="1.05" height="33.85" fill="#c4c4c4"/>
<rect x="89" width="1.05" height="33.85" fill="#d2d2d2"/>
<rect x="90" width="1.05" height="33.85" fill="#d6d6d6"/>
<rect x="91" width="1.05" height="33.85" fill="#d5d5d5"/>
<rect x="92" width="1.05" height="33.85" fill="#dfdfdf"/>
<rect x="93" width="1.05" height="33.85" fill="#dcdcdc"/>
<rect x="94" width="1.05" height="33.85" fill="#c8c8c8"/>
<rect x="95" width="1.05" height="33.85" fill="#b2b2b2"/>
<rect x="96" width="1.05" height="33.85" fill="#d1d1d1"/>
<rect x="97" width="1.05" height="33.85" fill="#d3d3d3"/>
<rect x="98" width="1.05" height="33.85" fill="#cecece"/>
<rect x="99" width="1.05" height="33.85" fill="#d5d5d5"/>
<rect x="100" width="1.05" height="33.85" fill="#d2d2d2"/>
<rect x="101" width="1.05" height="33.85" fill="#c5c5c5"/>
<rect x="102" width="1.05" height="33.85" fill="#cdcdcd"/>
<rect x="103" width="1.05" height="33.85" fill="#d0d0d0"/>
<rect x="104" width="1.05" height="33.85" fill="#b9b9b9"/>
<rect x="105" width="1.05" height="33.85" fill="#a6a6a6"/>
<rect x="106" width="1.05" height="33.85" fill="#9e9e9e"/>
<rect x="107" width="1.05" height="33.85" fill="#acacac"/>
<rect x="108" width="1.05" height="33.85" fill="#aaaaaa"/>
<rect x="109" width="1.05" height="33.85" fill="#9e9e9e"/>
<rect x="110" width="1.05" height="33.85" fill="#959595"/>
<rect x="111" width="1.05" height="33.85" fill="#9d9d9d"/>
<rect x="112" width="1.05" height="33.85" fill="#8e8e8e"/>
<rect x="113" width="1.05" height="33.85" fill="#838383"/>
<rect x="114" width="1.05" height="33.85" fill="#868686"/>
<rect x="115" width="1.05" height="33.85" fill="#767676"/>
<rect x="116" width="1.05" height="33.85" fill="#808080"/>
<rect x="117" width="1.05" height="33.85" fill="#7c7c7c"/>
<rect x="118" width="1.05" height="33.85" fill="#838383"/>
<rect x="119" width="1.05" height="33.85" fill="#7c7c7c"/>
<rect x="120" width="1.05" height="33.85" fill="#878787"/>
<rect x="121" width="1.05" height="33.85" fill="#797979"/>
<rect x="122" width="1.05" height="33.85" fill="#848484"/>
<rect x="123" width="1.05" height="33.85" fill="#919191"/>
<rect x="124" width="1.05" height="33.85" fill="#919191"/>
<rect x="125" width="1.05" height="33.85" fill="#939393"/>
<rect x="126" width="1.05" height="33.85" fill="#888888"/>
<rect x="127" width="1.05" height="33.85" fill="#8e8e8e"/>
<rect x="128" width="1.05" height="33.85" fill="#929292"/>
<rect x="129" width="1.05" height="33.85" fill="#828282"/>
<rect x="130" width="1.05" height="33.85" fill="#959595"/>
<rect x="131" width="1.05" height="33.85" fill="#a0a0a0"/>
<rect x="132" width="1.05" height="33.85" fill="#999999"/>
<rect x="133" width="1.05" height="33.85" fill="#909090"/>
<rect x="134" width="1.05" height="33.85" fill="#6a6a6a"/>
<rect x="135" width="1.05" height="33.85" fill="#676767"/>
<rect x="136" width="1.05" height="33.85" fill="#616161"/>
<rect x="137" width="1.05" height="33.85" fill="#6a6a6a"/>
<rect x="138" width="1.05" height="33.85" fill="#636363"/>
<rect x="139" width="1.05" height="33.85" fill="#595959"/>
<rect x="140" width="1.05" height="33.85" fill="#5f5f5f"/>
<rect x="141" width="1.05" height="33.85" fill="#626262"/>
<rect x="142" width="1.05" height="33.85" fill="#5e5e5e"/>
<rect x="143" width="1.05" height="33.85" fill="#686868"/>
<rect x="144" width="1.05" height="33.85" fill="#a5a5a5"/>
<rect x="145" width="1.05" height="33.85" fill="#a3a3a3"/>
<rect x="146" width="1.05" height="33.85" fill="#c5c5c5"/>
<rect x="147" width="1.05" height="33.85" fill="#d4d4d4"/>
<rect x="148" width="1.05" height="33.85" fill="#d9d9d9"/>
<rect x="149" width="1.05" height="33.85" fill="#c2c2c2"/>
<rect x="150" width="1.05" height="33.85" fill="#c1c1c1"/>
<rect x="151" width="1.05" height="33.85" fill="#cccccc"/>
<rect x="152" width="1.05" height="33.85" fill="#cfcfcf"/>
<rect x="153" width="1.05" height="33.85" fill="#c7c7c7"/>
<rect x="154" width="1.05" height="33.85" fill="#bdbdbd"/>
<rect x="155" width="1.05" height="33.85" fill="#bfbfbf"/>
<rect x="156" width="1.05" height="33.85" fill="#cacaca"/>
<rect x="157" width="1.05" height="33.85" fill="#c4c4c4"/>
<rect x="158" width="1.05" height="33.85" fill="#c6c6c6"/>
<rect x="159" width="1.05" height="33.85" fill="#cccccc"/>
<rect x="160" width="1.05" height="33.85" fill="#c4c4c4"/>
<rect x="161" width="1.05" height="33.85" fill="#d8d8d8"/>
<rect x="162" width="1.05" height="33.85" fill="#d6d6d6"/>
<rect x="163" width="1.05" height="33.85" fill="#d6d6d6"/>
<rect x="164" width="1.05" height="33.85" fill="#e2e2e2"/>
<rect x="165" width="1.05" height="33.85" fill="#dcdcdc"/>
<rect x="166" width="1.05" height="33.85" fill="#c4c4c4"/>
<rect x="167" width="1.05" height="33.85" fill="#bababa"/>
<rect x="168" width="1.05" height="33.85" fill="#d5d5d5"/>
<rect x="169" width="1.05" height="33.85" fill="#d3d3d3"/>
<rect x="170" width="1.05" height="33.85" fill="#d4d4d4"/>
<rect x="171" width="1.05" height="33.85" fill="#d4d4d4"/>
<rect x="172" width="1.05" height="33.85" fill="#d7d7d7"/>
<rect x="173" width="1.05" height="33.85" fill="#c7c7c7"/>
<rect x="174" width="1.05" height="33.85" fill="#cecece"/>
<rect x="175" width="1.05" height="33.85" fill="#cdcdcd"/>
<rect x="176" width="1.05" height="33.85" fill="#b8b8b8"/>
<rect x="177" width="1.05" height="33.85" fill="#a7a7a7"/>
<rect x="178" width="1.05" height="33.85" fill="#a1a1a1"/>
<rect x="179" width="1.05" height="33.85" fill="#aaaaaa"/>
<rect x="180" width="1.05" height="33.85" fill="#a5a5a5"/>
<rect x="181" width="1.05" height="33.85" fill="#9c9c9c"/>
<rect x="182" width="1.05" height="33.85" fill="#959595"/>
<rect x="183" width="1.05" height="33.85" fill="#999999"/>
<rect x="184" width="1.05" height="33.85" fill="#949494"/>
<rect x="185" width="1.05" height="33.85" fill="#858585"/>
<rect x="186" width="1.05" height="33.85" fill="#878787"/>
<rect x="187" width="1.05" height="33.85" fill="#7b7b7b"/>
<rect x="188" width="1.05" height="33.85" fill="#7d7d7d"/>
<rect x="189" width="1.05" height="33.85" fill="#797979"/>
<rect x="190" width="1.05" height="33.85" fill="#828282"/>
<rect x="191" width="1.05" height="33.85" fill="#7d7d7d"/>
<rect x="192" width="1.05" height="33.85" fill="#888888"/>
<rect x="193" width="1.05" height="33.85" fill="#7c7c7c"/>
<rect x="194" width="1.05" height="33.85" fill="#8a8a8a"/>
<rect x="195" width="1.05" height="33.85" fill="#939393"/>
<rect x="196" width="1.05" height="33.85" fill="#8a8a8a"/>
<rect x="197" width="1.05" height="33.85" fill="#929292"/>
<rect x="198" width="1.05" height="33.85" fill="#868686"/>
<rect x="199" width="1.05" height="33.85" fill="#898989"/>
<rect x="200" width="1.05" height="33.85" fill="#8d8d8d"/>
<rect x="201" width="1.05" height="33.85" fill="#838383"/>
<rect x="202" width="1.05" height="33.85" fill="#939393"/>
<rect x="203" width="1.05" height="33.85" fill="#a3a3a3"/>
<rect x="204" width="1.05" height="33.85" fill="#989898"/>
<rect x="205" width="1.05" height="33.85" fill="#919191"/>
<rect x="206" width="1.05" height="33.85" fill="#6e6e6e"/>
<rect x="207" width="1.05" height="33.85" fill="#6a6a6a"/>
<rect x="208" width="1.05" height="33.85" fill="#606060"/>
<rect x="209" width="1.05" height="33.85" fill="#6c6c6c"/>
<rect x="210" width="1.05" height="33.85" fill="#686868"/>
<rect x="211" width="1.05" height="33.85" fill="#595959"/>
<rect x="212" width="1.05" height="33.85" fill="#606060"/>
<rect x="213" width="1.05" height="33.85" fill="#646464"/>
<rect x="214" width="1.05" height="33.85" fill="#5f5f5f"/>
<rect x="215" width="1.05" height="33.85" fill="#676767"/>
<rect x="216" width="1.05" height="33.85" fill="#a5a5a5"/>
<rect x="217" width="1.05" height="33.85" fill="#a4a4a4"/>
<rect x="218" width="1.05" height="33.85" fill="#c6c6c6"/>
<rect x="219" width="1.05" height="33.85" fill="#d2d2d2"/>
<rect x="220" width="1.05" height="33.85" fill="#d9d9d9"/>
<rect x="221" width="1.05" height="33.85" fill="#c6c6c6"/>
<rect x="222" width="1.05" height="33.85" fill="#c7c7c7"/>
<rect x="223" width="1.05" height="33.85" fill="#c5c5c5"/>
<rect x="224" width="1.05" height="33.85" fill="#cdcdcd"/>
<rect x="225" width="1.05" height="33.85" fill="#c7c7c7"/>
<rect x="226" width="1.05" height="33.85" fill="#c5c5c5"/>
<rect x="227" width="1.05" height="33.85" fill="#bfbfbf"/>
<rect x="228" width="1.05" height="33.85" fill="#c3c3c3"/>
<rect x="229" width="1.05" height="33.85" fill="#c5c5c5"/>
<rect x="230" width="1.05" height="33.85" fill="#c7c7c7"/>
<rect x="231" width="1.05" height="33.85" fill="#c7c7c7"/>
<rect x="232" width="1.05" height="33.85" fill="#bebebe"/>
<rect x="233" width="1.05" height="33.85" fill="#d7d7d7"/>
<rect x="234" width="1.05" height="33.85" fill="#dadada"/>
<rect x="235" width="1.05" height="33.85" fill="#d7d7d7"/>
<rect x="236" width="1.05" height="33.85" fill="#dedede"/>
<rect x="237" width="1.05" height="33.85" fill="#e3e3e3"/>
<rect x="238" width="1.05" height="33.85" fill="#cacaca"/>
<rect x="239" width="1.05" height="33.85" fill="#b9b9b9"/>
<rect x="240" width="1.05" height="33.85" fill="#d1d1d1"/>
<rect x="241" width="1.05" height="33.85" fill="#d2d2d2"/>
<rect x="242" width="1.05" height="33.85" fill="#d3d3d3"/>
<rect x="243" width="1.05" height="33.85" fill="#d4d4d4"/>
<rect x="244" width="1.05" height="33.85" fill="#d5d5d5"/>
<rect x="245" width="1.05" height="33.85" fill="#c7c7c7"/>
<rect x="246" width="1.05" height="33.85" fill="#d0d0d0"/>
<rect x="247" width="1.05" height="33.85" fill="#cbcbcb"/>
<rect x="248" width="1.05" height="33.85" fill="#b7b7b7"/>
<rect x="249" width="1.05" height="33.85" fill="#a7a7a7"/>
<rect x="250" width="1.05" height="33.85" fill="#989898"/>
<rect x="251" width="1.05" height="33.85" fill="#acacac"/>
<rect x="252" width="1.05" height="33.85" fill="#acacac"/>
<rect x="253" width="1.05" height="33.85" fill="#a4a4a4"/>
<rect x="254" width="1.05" height="33.85" fill="#9a9a9a"/>
<rect x="255" width="1.05" height="33.85" fill="#959595"/>
<rect x="256" width="1.05" height="33.85" fill="#919191"/>
<rect x="257" width="1.05" height="33.85" fill="#838383"/>
<rect x="258" width="1.05" height="33.85" fill="#888888"/>
<rect x="259" width="1.05" height="33.85" fill="#7e7e7e"/>
<rect x="260" width="1.05" height="33.85" fill="#7e7e7e"/>
<rect x="261" width="1.05" height="33.85" fill="#777777"/>
<rect x="262" width="1.05" height="33.85" fill="#7e7e7e"/>
<rect x="263" width="1.05" height="33.85" fill="#7d7d7d"/>
<rect x="264" width="1.05" height="33.85" fill="#8b8b8b"/>
<rect x="265" width="1.05" height="33.85" fill="#767676"/>
<rect x="266" width="1.05" height="33.85" fill="#8d8d8d"/>
<rect x="267" width="1.05" height="33.85" fill="#929292"/>
<rect x="268" width="1.05" height="33.85" fill="#8e8e8e"/>
<rect x="269" width="1.05" height="33.85" fill="#929292"/>
<rect x="270" width="1.05" height="33.85" fill="#919191"/>
<rect x="271" width="1.05" height="33.85" fill="#8b8b8b"/>
<rect x="272" width="1.05" height="33.85" fill="#919191"/>
<rect x="273" width="1.05" height="33.85" fill="#858585"/>
<rect x="274" width="1.05" height="33.85" fill="#969696"/>
<rect x="275" width="1.05" height="33.85" fill="#a0a0a0"/>
<rect x="276" width="1.05" height="33.85" fill="#969696"/>
<rect x="277" width="1.05" height="33.85" fill="#8d8d8d"/>
<rect x="278" width="1.05" height="33.85" fill="#6c6c6c"/>
<rect x="279" width="1.05" height="33.85" fill="#6d6d6d"/>
<rect x="280" width="1.05" height="33.85" fill="#616161"/>
<rect x="281" width="1.05" height="33.85" fill="#696969"/>
<rect x="282" width="1.05" height="33.85" fill="#696969"/>
<rect x="283" width="1.05" height="33.85" fill="#5c5c5c"/>
<rect x="284" width="1.05" height="33.85" fill="#626262"/>
<rect x="285" width="1.05" height="33.85" fill="#676767"/>
<rect x="286" width="1.05" height="33.85" fill="#5d5d5d"/>
<rect x="287" width="1.05" height="33.85" fill="#666666"/>
<rect x="288" width="1.05" height="33.85" fill="#9f9f9f"/>
<rect x="289" width="1.05" height="33.85" fill="#a4a4a4"/>
<rect x="290" width="1.05" height="33.85" fill="#c3c3c3"/>
<rect x="291" width="1.05" height="33.85" fill="#d0d0d0"/>
<rect x="292" width="1.05" height="33.85" fill="#dadada"/>
<rect x="293" width="1.05" height="33.85" fill="#c8c8c8"/>
<rect x="294" width="1.05" height="33.85" fill="#c2c2c2"/>
<rect x="295" width="1.05" height="33.85" fill="#c3c3c3"/>
<rect x="296" width="1.05" height="33.85" fill="#cdcdcd"/>
<rect x="297" width="1.05" height="33.85" fill="#c8c8c8"/>
<rect x="298" width="1.05" height="33.85" fill="#c3c3c3"/>
<rect x="299" width="1.05" height="33.85" fill="#bcbcbc"/>
<rect x="300" width="1.05" height="33.85" fill="#cacaca"/>
<rect x="301" width="1.05" height="33.85" fill="#cbcbcb"/>
<rect x="302" width="1.05" height="33.85" fill="#c2c2c2"/>
<rect x="303" width="1.05" height="33.85" fill="#cbcbcb"/>
<rect x="304" width="1.05" height="33.85" fill="#c1c1c1"/>
<rect x="305" width="1.05" height="33.85" fill="#d6d6d6"/>
<rect x="306" width="1.05" height="33.85" fill="#d4d4d4"/>
<rect x="307" width="1.05" height="33.85" fill="#d8d8d8"/>
<rect x="308" width="1.05" height="33.85" fill="#e2e2e2"/>
<rect x="309" width="1.05" height="33.85" fill="#dcdcdc"/>
<rect x="310" width="1.05" height="33.85" fill="#c9c9c9"/>
<rect x="311" width="1.05" height="33.85" fill="#b2b2b2"/>
<rect x="312" width="1.05" height="33.85" fill="#d0d0d0"/>
<rect x="313" width="1.05" height="33.85" fill="#cecece"/>
<rect x="314" width="1.05" height="33.85" fill="#d2d2d2"/>
<rect x="315" width="1.05" height="33.85" fill="#d4d4d4"/>
<rect x="316" width="1.05" height="33.85" fill="#d3d3d3"/>
<rect x="317" width="1.05" height="33.85" fill="#cacaca"/>
<rect x="318" width="1.05" height="33.85" fill="#cdcdcd"/>
<rect x="319" width="1.05" height="33.85" fill="#cacaca"/>
<rect x="320" width="1.05" height="33.85" fill="#b7b7b7"/>
<rect x="321" width="1.05" height="33.85" fill="#acacac"/>
<rect x="322" width="1.05" height="33.85" fill="#a4a4a4"/>
<rect x="323" width="1.05" height="33.85" fill="#a7a7a7"/>
<rect x="324" width="1.05" height="33.85" fill="#a9a9a9"/>
<rect x="325" width="1.05" height="33.85" fill="#a2a2a2"/>
<rect x="326" width="1.05" height="33.85" fill="#959595"/>
<rect x="327" width="1.05" height="33.85" fill="#9b9b9b"/>
<rect x="328" width="1.05" height="33.85" fill="#949494"/>
<rect x="329" width="1.05" height="33.85" fill="#848484"/>
<rect x="330" width="1.05" height="33.85" fill="#878787"/>
<rect x="331" width="1.05" height="33.85" fill="#777777"/>
<rect x="332" width="1.05" height="33.85" fill="#838383"/>
<rect x="333" width="1.05" height="33.85" fill="#787878"/>
<rect x="334" width="1.05" height="33.85" fill="#7e7e7e"/>
<rect x="335" width="1.05" height="33.85" fill="#818181"/>
<rect x="336" width="1.05" height="33.85" fill="#858585"/>
<rect x="337" width="1.05" height="33.85" fill="#7a7a7a"/>
<rect x="338" width="1.05" height="33.85" fill="#8c8c8c"/>
<rect x="339" width="1.05" height="33.85" fill="#8f8f8f"/>
<rect x="340" width="1.05" height="33.85" fill="#8f8f8f"/>
<rect x="341" width="1.05" height="33.85" fill="#8c8c8c"/>
<rect x="342" width="1.05" height="33.85" fill="#8c8c8c"/>
<rect x="343" width="1.05" height="33.85" fill="#898989"/>
<rect x="344" width="1.05" height="33.85" fill="#939393"/>
<rect x="345" width="1.05" height="33.85" fill="#868686"/>
<rect x="346" width="1.05" height="33.85" fill="#969696"/>
<rect x="347" width="1.05" height="33.85" fill="#a6a6a6"/>
<rect x="348" width="1.05" height="33.85" fill="#999999"/>
<rect x="349" width="1.05" height="33.85" fill="#898989"/>
<rect x="350" width="1.05" height="33.85" fill="#727272"/>
<rect x="351" width="1.05" height="33.85" fill="#6b6b6b"/>
<rect x="352" width="1.05" height="33.85" fill="#636363"/>
<rect x="353" width="1.05" height="33.85" fill="#6b6b6b"/>
<rect x="354" width="1.05" height="33.85" fill="#6c6c6c"/>
<rect x="355" width="1.05" height="33.85" fill="#5a5a5a"/>
<rect x="356" width="1.05" height="33.85" fill="#5e5e5e"/>
<rect x="357" width="1.05" height="33.85" fill="#606060"/>
<rect x="358" width="1.05" height="33.85" fill="#5f5f5f"/>
<rect x="359" width="1.05" height="33.85" fill="#606060"/>
</g>
<g transform="translate(0,169.50)">
<rect x="0" width="1.05" height="33.85" fill="#8d8d8d"/>
<rect x="1" width="1.05" height="33.85" fill="#969696"/>
<rect x="2" width="1.05" height="33.85" fill="#929292"/>
<rect x="3" width="1.05" height="33.85" fill="#828282"/>
<rect x="4" width="1.05" height="33.85" fill="#757575"/>
<rect x="5" width="1.05" height="33.85" fill="#747474"/>
<rect x="6" width="1.05" height="33.85" fill="#676767"/>
<rect x="7" width="1.05" height="33.85" fill="#727272"/>
<rect x="8" width="1.05" height="33.85" fill="#797979"/>
<rect x="9" width="1.05" height="33.85" fill="#6b6b6b"/>
<rect x="10" width="1.05" height="33.85" fill="#626262"/>
<rect x="11" width="1.05" height="33.85" fill="#5f5f5f"/>
<rect x="12" width="1.05" height="33.85" fill="#6d6d6d"/>
<rect x="13" width="1.05" height="33.85" fill="#676767"/>
<rect x="14" width="1.05" height="33.85" fill="#696969"/>
<rect x="15" width="1.05" height="33.85" fill="#7b7b7b"/>
<rect x="16" width="1.05" height="33.85" fill="#848484"/>
<rect x="17" width="1.05" height="33.85" fill="#a3a3a3"/>
<rect x="18" width="1.05" height="33.85" fill="#bdbdbd"/>
<rect x="19" width="1.05" height="33.85" fill="#b2b2b2"/>
<rect x="20" width="1.05" height="33.85" fill="#bdbdbd"/>
<rect x="21" width="1.05" height="33.85" fill="#c4c4c4"/>
<rect x="22" width="1.05" height="33.85" fill="#b0b0b0"/>
<rect x="23" width="1.05" height="33.85" fill="#9d9d9d"/>
<rect x="24" width="1.05" height="33.85" fill="#969696"/>
<rect x="25" width="1.05" height="33.85" fill="#7c7c7c"/>
<rect x="26" width="1.05" height="33.85" fill="#7d7d7d"/>
<rect x="27" width="1.05" height="33.85" fill="#6f6f6f"/>
<rect x="28" width="1.05" height="33.85" fill="#666666"/>
<rect x="29" width="1.05" height="33.85" fill="#5a5a5a"/>
<rect x="30" width="1.05" height="33.85" fill="#626262"/>
<rect x="31" width="1.05" height="33.85" fill="#555555"/>
<rect x="32" width="1.05" height="33.85" fill="#5f5f5f"/>
<rect x="33" width="1.05" height="33.85" fill="#646464"/>
<rect x="34" width="1.05" height="33.85" fill="#4c4c4c"/>
<rect x="35" width="1.05" height="33.85" fill="#505050"/>
<rect x="36" width="1.05" height="33.85" fill="#505050"/>
<rect x="37" width="1.05" height="33.85" fill="#454545"/>
<rect x="38" width="1.05" height="33.85" fill="#4b4b4b"/>
<rect x="39" width="1.05" height="33.85" fill="#4b4b4b"/>
<rect x="40" width="1.05" height="33.85" fill="#444444"/>
<rect x="41" width="1.05" height="33.85" fill="#505050"/>
<rect x="42" width="1.05" height="33.85" fill="#3c3c3c"/>
<rect x="43" width="1.05" height="33.85" fill="#444444"/>
<rect x="44" width="1.05" height="33.85" fill="#3f3f3f"/>
<rect x="45" width="1.05" height="33.85" fill="#464646"/>
<rect x="46" width="1.05" height="33.85" fill="#434343"/>
<rect x="47" width="1.05" height="33.85" fill="#3c3c3c"/>
<rect x="48" width="1.05" height="33.85" fill="#323232"/>
<rect x="49" width="1.05" height="33.85" fill="#393939"/>
<rect x="50" width="1.05" height="33.85" fill="#3e3e3e"/>
<rect x="51" width="1.05" height="33.85" fill="#333333"/>
<rect x="52" width="1.05" height="33.85" fill="#383838"/>
<rect x="53" width="1.05" height="33.85" fill="#3d3d3d"/>
<rect x="54" width="1.05" height="33.85" fill="#282828"/>
<rect x="55" width="1.05" height="33.85" fill="#353535"/>
<rect x="56" width="1.05" height="33.85" fill="#303030"/>
<rect x="57" width="1.05" height="33.85" fill="#393939"/>
<rect x="58" width="1.05" height="33.85" fill="#383838"/>
<rect x="59" width="1.05" height="33.85" fill="#353535"/>
<rect x="60" width="1.05" height="33.85" fill="#3f3f3f"/>
<rect x="61" width="1.05" height="33.85" fill="#4b4b4b"/>
<rect x="62" width="1.05" height="33.85" fill="#3b3b3b"/>
<rect x="63" width="1.05" height="33.85" fill="#262626"/>
<rect x="64" width="1.05" height="33.85" fill="#202020"/>
<rect x="65" width="1.05" height="33.85" fill="#2a2a2a"/>
<rect x="66" width="1.05" height="33.85" fill="#2e2e2e"/>
<rect x="67" width="1.05" height="33.85" fill="#292929"/>
<rect x="68" width="1.05" height="33.85" fill="#2b2b2b"/>
<rect x="69" width="1.05" height="33.85" fill="#282828"/>
<rect x="70" width="1.05" height="33.85" fill="#242424"/>
<rect x="71" width="1.05" height="33.85" fill="#313131"/>
<rect x="72" width="1.05" height="33.85" fill="#8c8c8c"/>
<rect x="73" width="1.05" height="33.85" fill="#9b9b9b"/>
<rect x="74" width="1.05" height="33.85" fill="#8d8d8d"/>
<rect x="75" width="1.05" height="33.85" fill="#868686"/>
<rect x="76" width="1.05" height="33.85" fill="#747474"/>
<rect x="77" width="1.05" height="33.85" fill="#747474"/>
<rect x="78" width="1.05" height="33.85" fill="#646464"/>
<rect x="79" width="1.05" height="33.85" fill="#6a6a6a"/>
<rect x="80" width="1.05" height="33.85" fill="#777777"/>
<rect x="81" width="1.05" height="33.85" fill="#6d6d6d"/>
<rect x="82" width="1.05" height="33.85" fill="#606060"/>
<rect x="83" width="1.05" height="33.85" fill="#5f5f5f"/>
<rect x="84" width="1.05" height="33.85" fill="#6a6a6a"/>
<rect x="85" width="1.05" height="33.85" fill="#676767"/>
<rect x="86" width="1.05" height="33.85" fill="#676767"/>
<rect x="87" width="1.05" height="33.85" fill="#797979"/>
<rect x="88" width="1.05" height="33.85" fill="#868686"/>
<rect x="89" width="1.05" height="33.85" fill="#9d9d9d"/>
<rect x="90" width="1.05" height="33.85" fill="#bbbbbb"/>
<rect x="91" width="1.05" height="33.85" fill="#b1b1b1"/>
<rect x="92" width="1.05" height="33.85" fill="#b8b8b8"/>
<rect x="93" width="1.05" height="33.85" fill="#bdbdbd"/>
<rect x="94" width="1.05" height="33.85" fill="#ababab"/>
<rect x="95" width="1.05" height="33.85" fill="#9b9b9b"/>
<rect x="96" width="1.05" height="33.85" fill="#969696"/>
<rect x="97" width="1.05" height="33.85" fill="#777777"/>
<rect x="98" width="1.05" height="33.85" fill="#7e7e7e"/>
<rect x="99" width="1.05" height="33.85" fill="#767676"/>
<rect x="100" width="1.05" height="33.85" fill="#696969"/>
<rect x="101" width="1.05" height="33.85" fill="#525252"/>
<rect x="102" width="1.05" height="33.85" fill="#5f5f5f"/>
<rect x="103" width="1.05" height="33.85" fill="#636363"/>
<rect x="104" width="1.05" height="33.85" fill="#646464"/>
<rect x="105" width="1.05" height="33.85" fill="#646464"/>
<rect x="106" width="1.05" height="33.85" fill="#4d4d4d"/>
<rect x="107" width="1.05" height="33.85" fill="#4c4c4c"/>
<rect x="108" width="1.05" height="33.85" fill="#4d4d4d"/>
<rect x="109" width="1.05" height="33.85" fill="#474747"/>
<rect x="110" width="1.05" height="33.85" fill="#494949"/>
<rect x="111" width="1.05" height="33.85" fill="#4b4b4b"/>
<rect x="112" width="1.05" height="33.85" fill="#414141"/>
<rect x="113" width="1.05" height="33.85" fill="#515151"/>
<rect x="114" width="1.05" height="33.85" fill="#3b3b3b"/>
<rect x="115" width="1.05" height="33.85" fill="#464646"/>
<rect x="116" width="1.05" height="33.85" fill="#3d3d3d"/>
<rect x="117" width="1.05" height="33.85" fill="#424242"/>
<rect x="118" width="1.05" height="33.85" fill="#484848"/>
<rect x="119" width="1.05" height="33.85" fill="#3c3c3c"/>
<rect x="120" width="1.05" height="33.85" fill="#2c2c2c"/>
<rect x="121" width="1.05" height="33.85" fill="#383838"/>
<rect x="122" width="1.05" height="33.85" fill="#3d3d3d"/>
<rect x="123" width="1.05" height="33.85" fill="#373737"/>
<rect x="124" width="1.05" height="33.85" fill="#3b3b3b"/>
<rect x="125" width="1.05" height="33.85" fill="#393939"/>
<rect x="126" width="1.05" height="33.85" fill="#2b2b2b"/>
<rect x="127" width="1.05" height="33.85" fill="#303030"/>
<rect x="128" width="1.05" height="33.85" fill="#2e2e2e"/>
<rect x="129" width="1.05" height="33.85" fill="#383838"/>
<rect x="130" width="1.05" height="33.85" fill="#353535"/>
<rect x="131" width="1.05" height="33.85" fill="#333333"/>
<rect x="132" width="1.05" height="33.85" fill="#3b3b3b"/>
<rect x="133" width="1.05" height="33.85" fill="#4d4d4d"/>
<rect x="134" width="1.05" height="33.85" fill="#414141"/>
<rect x="135" width="1.05" height="33.85" fill="#242424"/>
<rect x="136" width="1.05" height="33.85" fill="#282828"/>
<rect x="137" width="1.05" height="33.85" fill="#232323"/>
<rect x="138" width="1.05" height="33.85" fill="#2d2d2d"/>
<rect x="139" width="1.05" height="33.85" fill="#292929"/>
<rect x="140" width="1.05" height="33.85" fill="#292929"/>
<rect x="141" width="1.05" height="33.85" fill="#212121"/>
<rect x="142" width="1.05" height="33.85" fill="#222222"/>
<rect x="143" width="1.05" height="33.85" fill="#3b3b3b"/>
<rect x="144" width="1.05" height="33.85" fill="#8d8d8d"/>
<rect x="145" width="1.05" height="33.85" fill="#989898"/>
<rect x="146" width="1.05" height="33.85" fill="#919191"/>
<rect x="147" width="1.05" height="33.85" fill="#848484"/>
<rect x="148" width="1.05" height="33.85" fill="#787878"/>
<rect x="149" width="1.05" height="33.85" fill="#717171"/>
<rect x="150" width="1.05" height="33.85" fill="#626262"/>
<rect x="151" width="1.05" height="33.85" fill="#6d6d6d"/>
<rect x="152" width="1.05" height="33.85" fill="#727272"/>
<rect x="153" width="1.05" height="33.85" fill="#6e6e6e"/>
<rect x="154" width="1.05" height="33.85" fill="#656565"/>
<rect x="155" width="1.05" height="33.85" fill="#626262"/>
<rect x="156" width="1.05" height="33.85" fill="#6a6a6a"/>
<rect x="157" width="1.05" height="33.85" fill="#636363"/>
<rect x="158" width="1.05" height="33.85" fill="#646464"/>
<rect x="159" width="1.05" height="33.85" fill="#7a7a7a"/>
<rect x="160" width="1.05" height="33.85" fill="#858585"/>
<rect x="161" width="1.05" height="33.85" fill="#a3a3a3"/>
<rect x="162" width="1.05" height="33.85" fill="#bebebe"/>
<rect x="163" width="1.05" height="33.85" fill="#afafaf"/>
<rect x="164" width="1.05" height="33.85" fill="#b4b4b4"/>
<rect x="165" width="1.05" height="33.85" fill="#c4c4c4"/>
<rect x="166" width="1.05" height="33.85" fill="#aaaaaa"/>
<rect x="167" width="1.05" height="33.85" fill="#a0a0a0"/>
<rect x="168" width="1.05" height="33.85" fill="#909090"/>
<rect x="169" width="1.05" height="33.85" fill="#787878"/>
<rect x="170" width="1.05" height="33.85" fill="#797979"/>
<rect x="171" width="1.05" height="33.85" fill="#757575"/>
<rect x="172" width="1.05" height="33.85" fill="#6b6b6b"/>
<rect x="173" width="1.05" height="33.85" fill="#545454"/>
<rect x="174" width="1.05" height="33.85" fill="#636363"/>
<rect x="175" width="1.05" height="33.85" fill="#595959"/>
<rect x="176" width="1.05" height="33.85" fill="#5e5e5e"/>
<rect x="177" width="1.05" height="33.85" fill="#5f5f5f"/>
<rect x="178" width="1.05" height="33.85" fill="#4e4e4e"/>
<rect x="179" width="1.05" height="33.85" fill="#474747"/>
<rect x="180" width="1.05" height="33.85" fill="#4d4d4d"/>
<rect x="181" width="1.05" height="33.85" fill="#4c4c4c"/>
<rect x="182" width="1.05" height="33.85" fill="#474747"/>
<rect x="183" width="1.05" height="33.85" fill="#494949"/>
<rect x="184" width="1.05" height="33.85" fill="#434343"/>
<rect x="185" width="1.05" height="33.85" fill="#4f4f4f"/>
<rect x="186" width="1.05" height="33.85" fill="#414141"/>
<rect x="187" width="1.05" height="33.85" fill="#404040"/>
<rect x="188" width="1.05" height="33.85" fill="#404040"/>
<rect x="189" width="1.05" height="33.85" fill="#424242"/>
<rect x="190" width="1.05" height="33.85" fill="#484848"/>
<rect x="191" width="1.05" height="33.85" fill="#3c3c3c"/>
<rect x="192" width="1.05" height="33.85" fill="#323232"/>
<rect x="193" width="1.05" height="33.85" fill="#363636"/>
<rect x="194" width="1.05" height="33.85" fill="#373737"/>
<rect x="195" width="1.05" height="33.85" fill="#333333"/>
<rect x="196" width="1.05" height="33.85" fill="#383838"/>
<rect x="197" width="1.05" height="33.85" fill="#3a3a3a"/>
<rect x="198" width="1.05" height="33.85" fill="#2d2d2d"/>
<rect x="199" width="1.05" height="33.85" fill="#313131"/>
<rect x="200" width="1.05" height="33.85" fill="#343434"/>
<rect x="201" width="1.05" height="33.85" fill="#3d3d3d"/>
<rect x="202" width="1.05" height="33.85" fill="#2e2e2e"/>
<rect x="203" width="1.05" height="33.85" fill="#343434"/>
<rect x="204" width="1.05" height="33.85" fill="#3e3e3e"/>
<rect x="205" width="1.05" height="33.85" fill="#494949"/>
<rect x="206" width="1.05" height="33.85" fill="#414141"/>
<rect x="207" width="1.05" height="33.85" fill="#252525"/>
<rect x="208" width="1.05" height="33.85" fill="#292929"/>
<rect x="209" width="1.05" height="33.85" fill="#242424"/>
<rect x="210" width="1.05" height="33.85" fill="#2a2a2a"/>
<rect x="211" width="1.05" height="33.85" fill="#262626"/>
<rect x="212" width="1.05" height="33.85" fill="#292929"/>
<rect x="213" width="1.05" height="33.85" fill="#292929"/>
<rect x="214" width="1.05" height="33.85" fill="#222222"/>
<rect x="215" width="1.05" height="33.85" fill="#363636"/>
<rect x="216" width="1.05" height="33.85" fill="#8b8b8b"/>
<rect x="217" width="1.05" height="33.85" fill="#969696"/>
<rect x="218" width="1.05" height="33.85" fill="#8e8e8e"/>
<rect x="219" width="1.05" height="33.85" fill="#828282"/>
<rect x="220" width="1.05" height="33.85" fill="#707070"/>
<rect x="221" width="1.05" height="33.85" fill="#737373"/>
<rect x="222" width="1.05" height="33.85" fill="#686868"/>
<rect x="223" width="1.05" height="33.85" fill="#727272"/>
<rect x="224" width="1.05" height="33.85" fill="#747474"/>
<rect x="225" width="1.05" height="33.85" fill="#6a6a6a"/>
<rect x="226" width="1.05" height="33.85" fill="#616161"/>
<rect x="227" width="1.05" height="33.85" fill="#5f5f5f"/>
<rect x="228" width="1.05" height="33.85" fill="#6f6f6f"/>
<rect x="229" width="1.05" height="33.85" fill="#666666"/>
<rect x="230" width="1.05" height="33.85" fill="#676767"/>
<rect x="231" width="1.05" height="33.85" fill="#757575"/>
<rect x="232" width="1.05" height="33.85" fill="#828282"/>
<rect x="233" width="1.05" height="33.85" fill="#a1a1a1"/>
<rect x="234" width="1.05" height="33.85" fill="#c0c0c0"/>
<rect x="235" width="1.05" height="33.85" fill="#b3b3b3"/>
<rect x="236" width="1.05" height="33.85" fill="#bebebe"/>
<rect x="237" width="1.05" height="33.85" fill="#c4c4c4"/>
<rect x="238" width="1.05" height="33.85" fill="#aaaaaa"/>
<rect x="239" width="1.05" height="33.85" fill="#989898"/>
<rect x="240" width="1.05" height="33.85" fill="#949494"/>
<rect x="241" width="1.05" height="33.85" fill="#7b7b7b"/>
<rect x="242" width="1.05" height="33.85" fill="#7a7a7a"/>
<rect x="243" width="1.05" height="33.85" fill="#767676"/>
<rect x="244" width="1.05" height="33.85" fill="#6b6b6b"/>
<rect x="245" width="1.05" height="33.85" fill="#595959"/>
<rect x="246" width="1.05" height="33.85" fill="#626262"/>
<rect x="247" width="1.05" height="33.85" fill="#5c5c5c"/>
<rect x="248" width="1.05" height="33.85" fill="#606060"/>
<rect x="249" width="1.05" height="33.85" fill="#606060"/>
<rect x="250" width="1.05" height="33.85" fill="#505050"/>
<rect x="251" width="1.05" height="33.85" fill="#464646"/>
<rect x="252" width="1.05" height="33.85" fill="#505050"/>
<rect x="253" width="1.05" height="33.85" fill="#3a3a3a"/>
<rect x="254" width="1.05" height="33.85" fill="#4d4d4d"/>
<rect x="255" width="1.05" height="33.85" fill="#4c4c4c"/>
<rect x="256" width="1.05" height="33.85" fill="#414141"/>
<rect x="257" width="1.05" height="33.85" fill="#4f4f4f"/>
<rect x="258" width="1.05" height="33.85" fill="#3e3e3e"/>
<rect x="259" width="1.05" height="33.85" fill="#474747"/>
<rect x="260" width="1.05" height="33.85" fill="#434343"/>
<rect x="261" width="1.05" height="33.85" fill="#444444"/>
<rect x="262" width="1.05" height="33.85" fill="#4b4b4b"/>
<rect x="263" width="1.05" height="33.85" fill="#393939"/>
<rect x="264" width="1.05" height="33.85" fill="#333333"/>
<rect x="265" width="1.05" height="33.85" fill="#393939"/>
<rect x="266" width="1.05" height="33.85" fill="#393939"/>
<rect x="267" width="1.05" height="33.85" fill="#383838"/>
<rect x="268" width="1.05" height="33.85" fill="#343434"/>
<rect x="269" width="1.05" height="33.85" fill="#3d3d3d"/>
<rect x="270" width="1.05" height="33.85" fill="#292929"/>
<rect x="271" width="1.05" height="33.85" fill="#303030"/>
<rect x="272" width="1.05" height="33.85" fill="#2e2e2e"/>
<rect x="273" width="1.05" height="33.85" fill="#3a3a3a"/>
<rect x="274" width="1.05" height="33.85" fill="#363636"/>
<rect x="275" width="1.05" height="33.85" fill="#343434"/>
<rect x="276" width="1.05" height="33.85" fill="#373737"/>
<rect x="277" width="1.05" height="33.85" fill="#4d4d4d"/>
<rect x="278" width="1.05" height="33.85" fill="#3c3c3c"/>
<rect x="279" width="1.05" height="33.85" fill="#242424"/>
<rect x="280" width="1.05" height="33.85" fill="#292929"/>
<rect x="281" width="1.05" height="33.85" fill="#242424"/>
<rect x="282" width="1.05" height="33.85" fill="#272727"/>
<rect x="283" width="1.05" height="33.85" fill="#2a2a2a"/>
<rect x="284" width="1.05" height="33.85" fill="#2b2b2b"/>
<rect x="285" width="1.05" height="33.85" fill="#292929"/>
<rect x="286" width="1.05" height="33.85" fill="#282828"/>
<rect x="287" width="1.05" height="33.85" fill="#313131"/>
<rect x="288" width="1.05" height="33.85" fill="#8f8f8f"/>
<rect x="289" width="1.05" height="33.85" fill="#9a9a9a"/>
<rect x="290" width="1.05" height="33.85" fill="#989898"/>
<rect x="291" width="1.05" height="33.85" fill="#7b7b7b"/>
<rect x="292" width="1.05" height="33.85" fill="#787878"/>
<rect x="293" width="1.05" height="33.85" fill="#737373"/>
<rect x="294" width="1.05" height="33.85" fill="#696969"/>
<rect x="295" width="1.05" height="33.85" fill="#6d6d6d"/>
<rect x="296" width="1.05" height="33.85" fill="#747474"/>
<rect x="297" width="1.05" height="33.85" fill="#717171"/>
<rect x="298" width="1.05" height="33.85" fill="#606060"/>
<rect x="299" width="1.05" height="33.85" fill="#606060"/>
<rect x="300" width="1.05" height="33.85" fill="#6b6b6b"/>
<rect x="301" width="1.05" height="33.85" fill="#676767"/>
<rect x="302" width="1.05" height="33.85" fill="#656565"/>
<rect x="303" width="1.05" height="33.85" fill="#777777"/>
<rect x="304" width="1.05" height="33.85" fill="#838383"/>
<rect x="305" width="1.05" height="33.85" fill="#a1a1a1"/>
<rect x="306" width="1.05" height="33.85" fill="#c0c0c0"/>
<rect x="307" width="1.05" height="33.85" fill="#b4b4b4"/>
<rect x="308" width="1.05" height="33.85" fill="#bcbcbc"/>
<rect x="309" width="1.05" height="33.85" fill="#c1c1c1"/>
<rect x="310" width="1.05" height="33.85" fill="#b0b0b0"/>
<rect x="311" width="1.05" height="33.85" fill="#999999"/>
<rect x="312" width="1.05" height="33.85" fill="#969696"/>
<rect x="313" width="1.05" height="33.85" fill="#777777"/>
<rect x="314" width="1.05" height="33.85" fill="#797979"/>
<rect x="315" width="1.05" height="33.85" fill="#767676"/>
<rect x="316" width="1.05" height="33.85" fill="#696969"/>
<rect x="317" width="1.05" height="33.85" fill="#505050"/>
<rect x="318" width="1.05" height="33.85" fill="#616161"/>
<rect x="319" width="1.05" height="33.85" fill="#5c5c5c"/>
<rect x="320" width="1.05" height="33.85" fill="#5c5c5c"/>
<rect x="321" width="1.05" height="33.85" fill="#646464"/>
<rect x="322" width="1.05" height="33.85" fill="#4f4f4f"/>
<rect x="323" width="1.05" height="33.85" fill="#494949"/>
<rect x="324" width="1.05" height="33.85" fill="#4f4f4f"/>
<rect x="325" width="1.05" height="33.85" fill="#404040"/>
<rect x="326" width="1.05" height="33.85" fill="#4e4e4e"/>
<rect x="327" width="1.05" height="33.85" fill="#494949"/>
<rect x="328" width="1.05" height="33.85" fill="#404040"/>
<rect x="329" width="1.05" height="33.85" fill="#525252"/>
<rect x="330" width="1.05" height="33.85" fill="#3e3e3e"/>
<rect x="331" width="1.05" height="33.85" fill="#424242"/>
<rect x="332" width="1.05" height="33.85" fill="#3d3d3d"/>
<rect x="333" width="1.05" height="33.85" fill="#454545"/>
<rect x="334" width="1.05" height="33.85" fill="#424242"/>
<rect x="335" width="1.05" height="33.85" fill="#3d3d3d"/>
<rect x="336" width="1.05" height="33.85" fill="#323232"/>
<rect x="337" width="1.05" height="33.85" fill="#343434"/>
<rect x="338" width="1.05" height="33.85" fill="#3a3a3a"/>
<rect x="339" width="1.05" height="33.85" fill="#393939"/>
<rect x="340" width="1.05" height="33.85" fill="#323232"/>
<rect x="341" width="1.05" height="33.85" fill="#414141"/>
<rect x="342" width="1.05" height="33.85" fill="#282828"/>
<rect x="343" width="1.05" height="33.85" fill="#363636"/>
<rect x="344" width="1.05" height="33.85" fill="#2a2a2a"/>
<rect x="345" width="1.05" height="33.85" fill="#3a3a3a"/>
<rect x="346" width="1.05" height="33.85" fill="#333333"/>
<rect x="347" width="1.05" height="33.85" fill="#353535"/>
<rect x="348" width="1.05" height="33.85" fill="#393939"/>
<rect x="349" width="1.05" height="33.85" fill="#4a4a4a"/>
<rect x="350" width="1.05" height="33.85" fill="#444444"/>
<rect x="351" width="1.05" height="33.85" fill="#272727"/>
<rect x="352" width="1.05" height="33.85" fill="#242424"/>
<rect x="353" width="1.05" height="33.85" fill="#262626"/>
<rect x="354" width="1.05" height="33.85" fill="#242424"/>
<rect x="355" width="1.05" height="33.85" fill="#262626"/>
<rect x="356" width="1.05" height="33.85" fill="#2e2e2e"/>
<rect x="357" width="1.05" height="33.85" fill="#292929"/>
<rect x="358" width="1.05" height="33.85" fill="#252525"/>
<rect x="359" width="1.05" height="33.85" fill="#303030"/>
</g>
<g transform="translate(0,203.30)">
<rect x="0" width="1.05" height="33.85" fill="#a0a0a0"/>
<rect x="1" width="1.05" height="33.85" fill="#9f9f9f"/>
<rect x="2" width="1.05" height="33.85" fill="#bcbcbc"/>
<rect x="3" width="1.05" height="33.85" fill="#cfcfcf"/>
<rect x="4" width="1.05" height="33.85" fill="#d5d5d5"/>
<rect x="5" width="1.05" height="33.85" fill="#a8a8a8"/>
<rect x="6" width="1.05" height="33.85" fill="#a5a5a5"/>
<rect x="7" width="1.05" height="33.85" fill="#a6a6a6"/>
<rect x="8" width="1.05" height="33.85" fill="#a2a2a2"/>
<rect x="9" width="1.05" height="33.85" fill="#9b9b9b"/>
<rect x="10" width="1.05" height="33.85" fill="#9e9e9e"/>
<rect x="11" width="1.05" height="33.85" fill="#a2a2a2"/>
<rect x="12" width="1.05" height="33.85" fill="#aeaeae"/>
<rect x="13" width="1.05" height="33.85" fill="#a0a0a0"/>
<rect x="14" width="1.05" height="33.85" fill="#a1a1a1"/>
<rect x="15" width="1.05" height="33.85" fill="#a1a1a1"/>
<rect x="16" width="1.05" height="33.85" fill="#a7a7a7"/>
<rect x="17" width="1.05" height="33.85" fill="#e3e3e3"/>
<rect x="18" width="1.05" height="33.85" fill="#efefef"/>
<rect x="19" width="1.05" height="33.85" fill="#d6d6d6"/>
<rect x="20" width="1.05" height="33.85" fill="#dfdfdf"/>
<rect x="21" width="1.05" height="33.85" fill="#e7e7e7"/>
<rect x="22" width="1.05" height="33.85" fill="#d2d2d2"/>
<rect x="23" width="1.05" height="33.85" fill="#c0c0c0"/>
<rect x="24" width="1.05" height="33.85" fill="#ababab"/>
<rect x="25" width="1.05" height="33.85" fill="#999999"/>
<rect x="26" width="1.05" height="33.85" fill="#9d9d9d"/>
<rect x="27" width="1.05" height="33.85" fill="#909090"/>
<rect x="28" width="1.05" height="33.85" fill="#767676"/>
<rect x="29" width="1.05" height="33.85" fill="#747474"/>
<rect x="30" width="1.05" height="33.85" fill="#7b7b7b"/>
<rect x="31" width="1.05" height="33.85" fill="#757575"/>
<rect x="32" width="1.05" height="33.85" fill="#797979"/>
<rect x="33" width="1.05" height="33.85" fill="#666666"/>
<rect x="34" width="1.05" height="33.85" fill="#5e5e5e"/>
<rect x="35" width="1.05" height="33.85" fill="#5b5b5b"/>
<rect x="36" width="1.05" height="33.85" fill="#5f5f5f"/>
<rect x="37" width="1.05" height="33.85" fill="#606060"/>
<rect x="38" width="1.05" height="33.85" fill="#656565"/>
<rect x="39" width="1.05" height="33.85" fill="#585858"/>
<rect x="40" width="1.05" height="33.85" fill="#5f5f5f"/>
<rect x="41" width="1.05" height="33.85" fill="#585858"/>
<rect x="42" width="1.05" height="33.85" fill="#656565"/>
<rect x="43" width="1.05" height="33.85" fill="#606060"/>
<rect x="44" width="1.05" height="33.85" fill="#4e4e4e"/>
<rect x="45" width="1.05" height="33.85" fill="#555555"/>
<rect x="46" width="1.05" height="33.85" fill="#505050"/>
<rect x="47" width="1.05" height="33.85" fill="#494949"/>
<rect x="48" width="1.05" height="33.85" fill="#515151"/>
<rect x="49" width="1.05" height="33.85" fill="#4f4f4f"/>
<rect x="50" width="1.05" height="33.85" fill="#525252"/>
<rect x="51" width="1.05" height="33.85" fill="#575757"/>
<rect x="52" width="1.05" height="33.85" fill="#505050"/>
<rect x="53" width="1.05" height="33.85" fill="#575757"/>
<rect x="54" width="1.05" height="33.85" fill="#555555"/>
<rect x="55" width="1.05" height="33.85" fill="#4e4e4e"/>
<rect x="56" width="1.05" height="33.85" fill="#464646"/>
<rect x="57" width="1.05" height="33.85" fill="#565656"/>
<rect x="58" width="1.05" height="33.85" fill="#616161"/>
<rect x="59" width="1.05" height="33.85" fill="#575757"/>
<rect x="60" width="1.05" height="33.85" fill="#555555"/>
<rect x="61" width="1.05" height="33.85" fill="#353535"/>
<rect x="62" width="1.05" height="33.85" fill="#343434"/>
<rect x="63" width="1.05" height="33.85" fill="#262626"/>
<rect x="64" width="1.05" height="33.85" fill="#2d2d2d"/>
<rect x="65" width="1.05" height="33.85" fill="#272727"/>
<rect x="66" width="1.05" height="33.85" fill="#282828"/>
<rect x="67" width="1.05" height="33.85" fill="#2d2d2d"/>
<rect x="68" width="1.05" height="33.85" fill="#222222"/>
<rect x="69" width="1.05" height="33.85" fill="#303030"/>
<rect x="70" width="1.05" height="33.85" fill="#323232"/>
<rect x="71" width="1.05" height="33.85" fill="#333333"/>
<rect x="72" width="1.05" height="33.85" fill="#999999"/>
<rect x="73" width="1.05" height="33.85" fill="#9e9e9e"/>
<rect x="74" width="1.05" height="33.85" fill="#bebebe"/>
<rect x="75" width="1.05" height="33.85" fill="#d1d1d1"/>
<rect x="76" width="1.05" height="33.85" fill="#cecece"/>
<rect x="77" width="1.05" height="33.85" fill="#a3a3a3"/>
<rect x="78" width="1.05" height="33.85" fill="#aeaeae"/>
<rect x="79" width="1.05" height="33.85" fill="#acacac"/>
<rect x="80" width="1.05" height="33.85" fill="#9f9f9f"/>
<rect x="81" width="1.05" height="33.85" fill="#9c9c9c"/>
<rect x="82" width="1.05" height="33.85" fill="#a0a0a0"/>
<rect x="83" width="1.05" height="33.85" fill="#a3a3a3"/>
<rect x="84" width="1.05" height="33.85" fill="#afafaf"/>
<rect x="85" width="1.05" height="33.85" fill="#9f9f9f"/>
<rect x="86" width="1.05" height="33.85" fill="#a6a6a6"/>
<rect x="87" width="1.05" height="33.85" fill="#9e9e9e"/>
<rect x="88" width="1.05" height="33.85" fill="#a4a4a4"/>
<rect x="89" width="1.05" height="33.85" fill="#e0e0e0"/>
<rect x="90" width="1.05" height="33.85" fill="#f2f2f2"/>
<rect x="91" width="1.05" height="33.85" fill="#dbdbdb"/>
<rect x="92" width="1.05" height="33.85" fill="#e8e8e8"/>
<rect x="93" width="1.05" height="33.85" fill="#e4e4e4"/>
<rect x="94" width="1.05" height="33.85" fill="#d3d3d3"/>
<rect x="95" width="1.05" height="33.85" fill="#b9b9b9"/>
<rect x="96" width="1.05" height="33.85" fill="#b3b3b3"/>
<rect x="97" width="1.05" height="33.85" fill="#9c9c9c"/>
<rect x="98" width="1.05" height="33.85" fill="#9f9f9f"/>
<rect x="99" width="1.05" height="33.85" fill="#8f8f8f"/>
<rect x="100" width="1.05" height="33.85" fill="#747474"/>
<rect x="101" width="1.05" height="33.85" fill="#737373"/>
<rect x="102" width="1.05" height="33.85" fill="#787878"/>
<rect x="103" width="1.05" height="33.85" fill="#747474"/>
<rect x="104" width="1.05" height="33.85" fill="#797979"/>
<rect x="105" width="1.05" height="33.85" fill="#656565"/>
<rect x="106" width="1.05" height="33.85" fill="#5a5a5a"/>
<rect x="107" width="1.05" height="33.85" fill="#5d5d5d"/>
<rect x="108" width="1.05" height="33.85" fill="#575757"/>
<rect x="109" width="1.05" height="33.85" fill="#636363"/>
<rect x="110" width="1.05" height="33.85" fill="#696969"/>
<rect x="111" width="1.05" height="33.85" fill="#5a5a5a"/>
<rect x="112" width="1.05" height="33.85" fill="#616161"/>
<rect x="113" width="1.05" height="33.85" fill="#565656"/>
<rect x="114" width="1.05" height="33.85" fill="#656565"/>
<rect x="115" width="1.05" height="33.85" fill="#646464"/>
<rect x="116" width="1.05" height="33.85" fill="#515151"/>
<rect x="117" width="1.05" height="33.85" fill="#575757"/>
<rect x="118" width="1.05" height="33.85" fill="#4e4e4e"/>
<rect x="119" width="1.05" height="33.85" fill="#515151"/>
<rect x="120" width="1.05" height="33.85" fill="#535353"/>
<rect x="121" width="1.05" height="33.85" fill="#525252"/>
<rect x="122" width="1.05" height="33.85" fill="#525252"/>
<rect x="123" width="1.05" height="33.85" fill="#535353"/>
<rect x="124" width="1.05" height="33.85" fill="#4d4d4d"/>
<rect x="125" width="1.05" height="33.85" fill="#535353"/>
<rect x="126" width="1.05" height="33.85" fill="#565656"/>
<rect x="127" width="1.05" height="33.85" fill="#505050"/>
<rect x="128" width="1.05" height="33.85" fill="#4b4b4b"/>
<rect x="129" width="1.05" height="33.85" fill="#595959"/>
<rect x="130" width="1.05" height="33.85" fill="#656565"/>
<rect x="131" width="1.05" height="33.85" fill="#626262"/>
<rect x="132" width="1.05" height="33.85" fill="#575757"/>
<rect x="133" width="1.05" height="33.85" fill="#303030"/>
<rect x="134" width="1.05" height="33.85" fill="#333333"/>
<rect x="135" width="1.05" height="33.85" fill="#1e1e1e"/>
<rect x="136" width="1.05" height="33.85" fill="#333333"/>
<rect x="137" width="1.05" height="33.85" fill="#282828"/>
<rect x="138" width="1.05" height="33.85" fill="#262626"/>
<rect x="139" width="1.05" height="33.85" fill="#333333"/>
<rect x="140" width="1.05" height="33.85" fill="#222222"/>
<rect x="141" width="1.05" height="33.85" fill="#2b2b2b"/>
<rect x="142" width="1.05" height="33.85" fill="#323232"/>
<rect x="143" width="1.05" height="33.85" fill="#343434"/>
<rect x="144" width="1.05" height="33.85" fill="#999999"/>
<rect x="145" width="1.05" height="33.85" fill="#9f9f9f"/>
<rect x="146" width="1.05" height="33.85" fill="#bebebe"/>
<rect x="147" width="1.05" height="33.85" fill="#cccccc"/>
<rect x="148" width="1.05" height="33.85" fill="#d2d2d2"/>
<rect x="149" width="1.05" height="33.85" fill="#a5a5a5"/>
<rect x="150" width="1.05" height="33.85" fill="#acacac"/>
<rect x="151" width="1.05" height="33.85" fill="#a8a8a8"/>
<rect x="152" width="1.05" height="33.85" fill="#9c9c9c"/>
<rect x="153" width="1.05" height="33.85" fill="#9e9e9e"/>
<rect x="154" width="1.05" height="33.85" fill="#a4a4a4"/>
<rect x="155" width="1.05" height="33.85" fill="#9e9e9e"/>
<rect x="156" width="1.05" height="33.85" fill="#a6a6a6"/>
<rect x="157" width="1.05" height="33.85" fill="#a1a1a1"/>
<rect x="158" width="1.05" height="33.85" fill="#a2a2a2"/>
<rect x="159" width="1.05" height="33.85" fill="#a3a3a3"/>
<rect x="160" width="1.05" height="33.85" fill="#a6a6a6"/>
<rect x="161" width="1.05" height="33.85" fill="#e4e4e4"/>
<rect x="162" width="1.05" height="33.85" fill="#ededed"/>
<rect x="163" width="1.05" height="33.85" fill="#d8d8d8"/>
<rect x="164" width="1.05" height="33.85" fill="#e1e1e1"/>
<rect x="165" width="1.05" height="33.85" fill="#e5e5e5"/>
<rect x="166" width="1.05" height="33.85" fill="#d2d2d2"/>
<rect x="167" width="1.05" height="33.85" fill="#b7b7b7"/>
<rect x="168" width="1.05" height="33.85" fill="#b3b3b3"/>
<rect x="169" width="1.05" height="33.85" fill="#9a9a9a"/>
<rect x="170" width="1.05" height="33.85" fill="#9f9f9f"/>
<rect x="171" width="1.05" height="33.85" fill="#8d8d8d"/>
<rect x="172" width="1.05" height="33.85" fill="#7b7b7b"/>
<rect x="173" width="1.05" height="33.85" fill="#727272"/>
<rect x="174" width="1.05" height="33.85" fill="#7a7a7a"/>
<rect x="175" width="1.05" height="33.85" fill="#737373"/>
<rect x="176" width="1.05" height="33.85" fill="#7a7a7a"/>
<rect x="177" width="1.05" height="33.85" fill="#626262"/>
<rect x="178" width="1.05" height="33.85" fill="#5a5a5a"/>
<rect x="179" width="1.05" height="33.85" fill="#5b5b5b"/>
<rect x="180" width="1.05" height="33.85" fill="#595959"/>
<rect x="181" width="1.05" height="33.85" fill="#636363"/>
<rect x="182" width="1.05" height="33.85" fill="#636363"/>
<rect x="183" width="1.05" height="33.85" fill="#575757"/>
<rect x="184" width="1.05" height="33.85" fill="#636363"/>
<rect x="185" width="1.05" height="33.85" fill="#5a5a5a"/>
<rect x="186" width="1.05" height="33.85" fill="#636363"/>
<rect x="187" width="1.05" height="33.85" fill="#646464"/>
<rect x="188" width="1.05" height="33.85" fill="#525252"/>
<rect x="189" width="1.05" height="33.85" fill="#555555"/>
<rect x="190" width="1.05" height="33.85" fill="#525252"/>
<rect x="191" width="1.05" height="33.85" fill="#4e4e4e"/>
<rect x="192" width="1.05" height="33.85" fill="#525252"/>
<rect x="193" width="1.05" height="33.85" fill="#4f4f4f"/>
<rect x="194" width="1.05" height="33.85" fill="#515151"/>
<rect x="195" width="1.05" height="33.85" fill="#565656"/>
<rect x="196" width="1.05" height="33.85" fill="#505050"/>
<rect x="197" width="1.05" height="33.85" fill="#575757"/>
<rect x="198" width="1.05" height="33.85" fill="#585858"/>
<rect x="199" width="1.05" height="33.85" fill="#525252"/>
<rect x="200" width="1.05" height="33.85" fill="#4b4b4b"/>
<rect x="201" width="1.05" height="33.85" fill="#585858"/>
<rect x="202" width="1.05" height="33.85" fill="#626262"/>
<rect x="203" width="1.05" height="33.85" fill="#636363"/>
<rect x="204" width="1.05" height="33.85" fill="#525252"/>
<rect x="205" width="1.05" height="33.85" fill="#333333"/>
<rect x="206" width="1.05" height="33.85" fill="#303030"/>
<rect x="207" width="1.05" height="33.85" fill="#242424"/>
<rect x="208" width="1.05" height="33.85" fill="#323232"/>
<rect x="209" width="1.05" height="33.85" fill="#272727"/>
<rect x="210" width="1.05" height="33.85" fill="#2d2d2d"/>
<rect x="211" width="1.05" height="33.85" fill="#2b2b2b"/>
<rect x="212" width="1.05" height="33.85" fill="#232323"/>
<rect x="213" width="1.05" height="33.85" fill="#2e2e2e"/>
<rect x="214" width="1.05" height="33.85" fill="#2f2f2f"/>
<rect x="215" width="1.05" height="33.85" fill="#383838"/>
<rect x="216" width="1.05" height="33.85" fill="#9a9a9a"/>
<rect x="217" width="1.05" height="33.85" fill="#979797"/>
<rect x="218" width="1.05" height="33.85" fill="#b8b8b8"/>
<rect x="219" width="1.05" height="33.85" fill="#cacaca"/>
<rect x="220" width="1.05" height="33.85" fill="#d1d1d1"/>
<rect x="221" width="1.05" height="33.85" fill="#a3a3a3"/>
<rect x="222" width="1.05" height="33.85" fill="#a8a8a8"/>
<rect x="223" width="1.05" height="33.85" fill="#a7a7a7"/>
<rect x="224" width="1.05" height="33.85" fill="#9e9e9e"/>
<rect x="225" width="1.05" height="33.85" fill="#a0a0a0"/>
<rect x="226" width="1.05" height="33.85" fill="#9f9f9f"/>
<rect x="227" width="1.05" height="33.85" fill="#a6a6a6"/>
<rect x="228" width="1.05" height="33.85" fill="#b3b3b3"/>
<rect x="229" width="1.05" height="33.85" fill="#9d9d9d"/>
<rect x="230" width="1.05" height="33.85" fill="#9d9d9d"/>
<rect x="231" width="1.05" height="33.85" fill="#9c9c9c"/>
<rect x="232" width="1.05" height="33.85" fill="#a9a9a9"/>
<rect x="233" width="1.05" height="33.85" fill="#e2e2e2"/>
<rect x="234" width="1.05" height="33.85" fill="#f1f1f1"/>
<rect x="235" width="1.05" height="33.85" fill="#d4d4d4"/>
<rect x="236" width="1.05" height="33.85" fill="#e1e1e1"/>
<rect x="237" width="1.05" height="33.85" fill="#e7e7e7"/>
<rect x="238" width="1.05" height="33.85" fill="#d3d3d3"/>
<rect x="239" width="1.05" height="33.85" fill="#b7b7b7"/>
<rect x="240" width="1.05" height="33.85" fill="#aeaeae"/>
<rect x="241" width="1.05" height="33.85" fill="#9b9b9b"/>
<rect x="242" width="1.05" height="33.85" fill="#a0a0a0"/>
<rect x="243" width="1.05" height="33.85" fill="#919191"/>
<rect x="244" width="1.05" height="33.85" fill="#787878"/>
<rect x="245" width="1.05" height="33.85" fill="#727272"/>
<rect x="246" width="1.05" height="33.85" fill="#797979"/>
<rect x="247" width="1.05" height="33.85" fill="#707070"/>
<rect x="248" width="1.05" height="33.85" fill="#7a7a7a"/>
<rect x="249" width="1.05" height="33.85" fill="#656565"/>
<rect x="250" width="1.05" height="33.85" fill="#5d5d5d"/>
<rect x="251" width="1.05" height="33.85" fill="#5d5d5d"/>
<rect x="252" width="1.05" height="33.85" fill="#555555"/>
<rect x="253" width="1.05" height="33.85" fill="#666666"/>
<rect x="254" width="1.05" height="33.85" fill="#636363"/>
<rect x="255" width="1.05" height="33.85" fill="#585858"/>
<rect x="256" width="1.05" height="33.85" fill="#616161"/>
<rect x="257" width="1.05" height="33.85" fill="#585858"/>
<rect x="258" width="1.05" height="33.85" fill="#646464"/>
<rect x="259" width="1.05" height="33.85" fill="#666666"/>
<rect x="260" width="1.05" height="33.85" fill="#505050"/>
<rect x="261" width="1.05" height="33.85" fill="#5c5c5c"/>
<rect x="262" width="1.05" height="33.85" fill="#515151"/>
<rect x="263" width="1.05" height="33.85" fill="#505050"/>
<rect x="264" width="1.05" height="33.85" fill="#525252"/>
<rect x="265" width="1.05" height="33.85" fill="#545454"/>
<rect x="266" width="1.05" height="33.85" fill="#535353"/>
<rect x="267" width="1.05" height="33.85" fill="#545454"/>
<rect x="268" width="1.05" height="33.85" fill="#4d4d4d"/>
<rect x="269" width="1.05" height="33.85" fill="#5a5a5a"/>
<rect x="270" width="1.05" height="33.85" fill="#565656"/>
<rect x="271" width="1.05" height="33.85" fill="#4d4d4d"/>
<rect x="272" width="1.05" height="33.85" fill="#4e4e4e"/>
<rect x="273" width="1.05" height="33.85" fill="#585858"/>
<rect x="274" width="1.05" height="33.85" fill="#636363"/>
<rect x="275" width="1.05" height="33.85" fill="#5e5e5e"/>
<rect x="276" width="1.05" height="33.85" fill="#565656"/>
<rect x="277" width="1.05" height="33.85" fill="#363636"/>
<rect x="278" width="1.05" height="33.85" fill="#333333"/>
<rect x="279" width="1.05" height="33.85" fill="#1f1f1f"/>
<rect x="280" width="1.05" height="33.85" fill="#2c2c2c"/>
<rect x="281" width="1.05" height="33.85" fill="#2c2c2c"/>
<rect x="282" width="1.05" height="33.85" fill="#272727"/>
<rect x="283" width="1.05" height="33.85" fill="#2c2c2c"/>
<rect x="284" width="1.05" height="33.85" fill="#282828"/>
<rect x="285" width="1.05" height="33.85" fill="#2f2f2f"/>
<rect x="286" width="1.05" height="33.85" fill="#313131"/>
<rect x="287" width="1.05" height="33.85" fill="#363636"/>
<rect x="288" width="1.05" height="33.85" fill="#979797"/>
<rect x="289" width="1.05" height="33.85" fill="#9d9d9d"/>
<rect x="290" width="1.05" height="33.85" fill="#bbbbbb"/>
<rect x="291" width="1.05" height="33.85" fill="#c8c8c8"/>
<rect x="292" width="1.05" height="33.85" fill="#d1d1d1"/>
<rect x="293" width="1.05" height="33.85" fill="#a6a6a6"/>
<rect x="294" width="1.05" height="33.85" fill="#a9a9a9"/>
<rect x="295" width="1.05" height="33.85" fill="#a5a5a5"/>
<rect x="296" width="1.05" height="33.85" fill="#a1a1a1"/>
<rect x="297" width="1.05" height="33.85" fill="#9c9c9c"/>
<rect x="298" width="1.05" height="33.85" fill="#a1a1a1"/>
<rect x="299" width="1.05" height="33.85" fill="#a1a1a1"/>
<rect x="300" width="1.05" height="33.85" fill="#b2b2b2"/>
<rect x="301" width="1.05" height="33.85" fill="#9b9b9b"/>
<rect x="302" width="1.05" height="33.85" fill="#a3a3a3"/>
<rect x="303" width="1.05" height="33.85" fill="#a3a3a3"/>
<rect x="304" width="1.05" height="33.85" fill="#a3a3a3"/>
<rect x="305" width="1.05" height="33.85" fill="#e1e1e1"/>
<rect x="306" width="1.05" height="33.85" fill="#ececec"/>
<rect x="307" width="1.05" height="33.85" fill="#d3d3d3"/>
<rect x="308" width="1.05" height="33.85" fill="#e7e7e7"/>
<rect x="309" width="1.05" height="33.85" fill="#e6e6e6"/>
<rect x="310" width="1.05" height="33.85" fill="#cccccc"/>
<rect x="311" width="1.05" height="33.85" fill="#b6b6b6"/>
<rect x="312" width="1.05" height="33.85" fill="#b1b1b1"/>
<rect x="313" width="1.05" height="33.85" fill="#999999"/>
<rect x="314" width="1.05" height="33.85" fill="#9d9d9d"/>
<rect x="315" width="1.05" height="33.85" fill="#919191"/>
<rect x="316" width="1.05" height="33.85" fill="#767676"/>
<rect x="317" width="1.05" height="33.85" fill="#737373"/>
<rect x="318" width="1.05" height="33.85" fill="#797979"/>
<rect x="319" width="1.05" height="33.85" fill="#757575"/>
<rect x="320" width="1.05" height="33.85" fill="#797979"/>
<rect x="321" width="1.05" height="33.85" fill="#5f5f5f"/>
<rect x="322" width="1.05" height="33.85" fill="#636363"/>
<rect x="323" width="1.05" height="33.85" fill="#5e5e5e"/>
<rect x="324" width="1.05" height="33.85" fill="#5b5b5b"/>
<rect x="325" width="1.05" height="33.85" fill="#606060"/>
<rect x="326" width="1.05" height="33.85" fill="#616161"/>
<rect x="327" width="1.05" height="33.85" fill="#585858"/>
<rect x="328" width="1.05" height="33.85" fill="#5f5f5f"/>
<rect x="329" width="1.05" height="33.85" fill="#595959"/>
<rect x="330" width="1.05" height="33.85" fill="#636363"/>
<rect x="331" width="1.05" height="33.85" fill="#646464"/>
<rect x="332" width="1.05" height="33.85" fill="#575757"/>
<rect x="333" width="1.05" height="33.85" fill="#5c5c5c"/>
<rect x="334" width="1.05" height="33.85" fill="#505050"/>
<rect x="335" width="1.05" height="33.85" fill="#545454"/>
<rect x="336" width="1.05" height="33.85" fill="#545454"/>
<rect x="337" width="1.05" height="33.85" fill="#4f4f4f"/>
<rect x="338" width="1.05" height="33.85" fill="#4e4e4e"/>
<rect x="339" width="1.05" height="33.85" fill="#525252"/>
<rect x="340" width="1.05" height="33.85" fill="#545454"/>
<rect x="341" width="1.05" height="33.85" fill="#555555"/>
<rect x="342" width="1.05" height="33.85" fill="#565656"/>
<rect x="343" width="1.05" height="33.85" fill="#535353"/>
<rect x="344" width="1.05" height="33.85" fill="#4a4a4a"/>
<rect x="345" width="1.05" height="33.85" fill="#555555"/>
<rect x="346" width="1.05" height="33.85" fill="#646464"/>
<rect x="347" width="1.05" height="33.85" fill="#5e5e5e"/>
<rect x="348" width="1.05" height="33.85" fill="#4d4d4d"/>
<rect x="349" width="1.05" height="33.85" fill="#2d2d2d"/>
<rect x="350" width="1.05" height="33.85" fill="#343434"/>
<rect x="351" width="1.05" height="33.85" fill="#1e1e1e"/>
<rect x="352" width="1.05" height="33.85" fill="#313131"/>
<rect x="353" width="1.05" height="33.85" fill="#292929"/>
<rect x="354" width="1.05" height="33.85" fill="#282828"/>
<rect x="355" width="1.05" height="33.85" fill="#2e2e2e"/>
<rect x="356" width="1.05" height="33.85" fill="#202020"/>
<rect x="357" width="1.05" height="33.85" fill="#2a2a2a"/>
<rect x="358" width="1.05" height="33.85" fill="#2e2e2e"/>
<rect x="359" width="1.05" height="33.85" fill="#353535"/>
</g>
<g transform="translate(0,237.10)">
<rect x="0" width="1.05" height="33.85" fill="#8e8e8e"/>
<rect x="1" width="1.05" height="33.85" fill="#8e8e8e"/>
<rect x="2" width="1.05" height="33.85" fill="#8b8b8b"/>
<rect x="3" width="1.05" height="33.85" fill="#828282"/>
<rect x="4" width="1.05" height="33.85" fill="#7d7d7d"/>
<rect x="5" width="1.05" height="33.85" fill="#808080"/>
<rect x="6" width="1.05" height="33.85" fill="#7f7f7f"/>
<rect x="7" width="1.05" height="33.85" fill="#838383"/>
<rect x="8" width="1.05" height="33.85" fill="#888888"/>
<rect x="9" width="1.05" height="33.85" fill="#767676"/>
<rect x="10" width="1.05" height="33.85" fill="#848484"/>
<rect x="11" width="1.05" height="33.85" fill="#737373"/>
<rect x="12" width="1.05" height="33.85" fill="#7a7a7a"/>
<rect x="13" width="1.05" height="33.85" fill="#878787"/>
<rect x="14" width="1.05" height="33.85" fill="#888888"/>
<rect x="15" width="1.05" height="33.85" fill="#8d8d8d"/>
<rect x="16" width="1.05" height="33.85" fill="#858585"/>
<rect x="17" width="1.05" height="33.85" fill="#b6b6b6"/>
<rect x="18" width="1.05" height="33.85" fill="#d6d6d6"/>
<rect x="19" width="1.05" height="33.85" fill="#f4f4f4"/>
<rect x="20" width="1.05" height="33.85" fill="#f8f8f8"/>
<rect x="21" width="1.05" height="33.85" fill="#ededed"/>
<rect x="22" width="1.05" height="33.85" fill="#ebebeb"/>
<rect x="23" width="1.05" height="33.85" fill="#f3f3f3"/>
<rect x="24" width="1.05" height="33.85" fill="#ececec"/>
<rect x="25" width="1.05" height="33.85" fill="#f6f6f6"/>
<rect x="26" width="1.05" height="33.85" fill="#f3f3f3"/>
<rect x="27" width="1.05" height="33.85" fill="#ebebeb"/>
<rect x="28" width="1.05" height="33.85" fill="#c4c4c4"/>
<rect x="29" width="1.05" height="33.85" fill="#bdbdbd"/>
<rect x="30" width="1.05" height="33.85" fill="#b3b3b3"/>
<rect x="31" width="1.05" height="33.85" fill="#a4a4a4"/>
<rect x="32" width="1.05" height="33.85" fill="#979797"/>
<rect x="33" width="1.05" height="33.85" fill="#858585"/>
<rect x="34" width="1.05" height="33.85" fill="#919191"/>
<rect x="35" width="1.05" height="33.85" fill="#8a8a8a"/>
<rect x="36" width="1.05" height="33.85" fill="#8f8f8f"/>
<rect x="37" width="1.05" height="33.85" fill="#8c8c8c"/>
<rect x="38" width="1.05" height="33.85" fill="#878787"/>
<rect x="39" width="1.05" height="33.85" fill="#8d8d8d"/>
<rect x="40" width="1.05" height="33.85" fill="#7e7e7e"/>
<rect x="41" width="1.05" height="33.85" fill="#858585"/>
<rect x="42" width="1.05" height="33.85" fill="#848484"/>
<rect x="43" width="1.05" height="33.85" fill="#7e7e7e"/>
<rect x="44" width="1.05" height="33.85" fill="#7b7b7b"/>
<rect x="45" width="1.05" height="33.85" fill="#7d7d7d"/>
<rect x="46" width="1.05" height="33.85" fill="#707070"/>
<rect x="47" width="1.05" height="33.85" fill="#6f6f6f"/>
<rect x="48" width="1.05" height="33.85" fill="#747474"/>
<rect x="49" width="1.05" height="33.85" fill="#808080"/>
<rect x="50" width="1.05" height="33.85" fill="#6e6e6e"/>
<rect x="51" width="1.05" height="33.85" fill="#6f6f6f"/>
<rect x="52" width="1.05" height="33.85" fill="#6f6f6f"/>
<rect x="53" width="1.05" height="33.85" fill="#8b8b8b"/>
<rect x="54" width="1.05" height="33.85" fill="#7a7a7a"/>
<rect x="55" width="1.05" height="33.85" fill="#7e7e7e"/>
<rect x="56" width="1.05" height="33.85" fill="#767676"/>
<rect x="57" width="1.05" height="33.85" fill="#7b7b7b"/>
<rect x="58" width="1.05" height="33.85" fill="#717171"/>
<rect x="59" width="1.05" height="33.85" fill="#717171"/>
<rect x="60" width="1.05" height="33.85" fill="#777777"/>
<rect x="61" width="1.05" height="33.85" fill="#757575"/>
<rect x="62" width="1.05" height="33.85" fill="#5d5d5d"/>
<rect x="63" width="1.05" height="33.85" fill="#535353"/>
<rect x="64" width="1.05" height="33.85" fill="#525252"/>
<rect x="65" width="1.05" height="33.85" fill="#5c5c5c"/>
<rect x="66" width="1.05" height="33.85" fill="#5e5e5e"/>
<rect x="67" width="1.05" height="33.85" fill="#555555"/>
<rect x="68" width="1.05" height="33.85" fill="#545454"/>
<rect x="69" width="1.05" height="33.85" fill="#515151"/>
<rect x="70" width="1.05" height="33.85" fill="#535353"/>
<rect x="71" width="1.05" height="33.85" fill="#616161"/>
<rect x="72" width="1.05" height="33.85" fill="#878787"/>
<rect x="73" width="1.05" height="33.85" fill="#929292"/>
<rect x="74" width="1.05" height="33.85" fill="#919191"/>
<rect x="75" width="1.05" height="33.85" fill="#898989"/>
<rect x="76" width="1.05" height="33.85" fill="#7e7e7e"/>
<rect x="77" width="1.05" height="33.85" fill="#808080"/>
<rect x="78" width="1.05" height="33.85" fill="#838383"/>
<rect x="79" width="1.05" height="33.85" fill="#818181"/>
<rect x="80" width="1.05" height="33.85" fill="#878787"/>
<rect x="81" width="1.05" height="33.85" fill="#7b7b7b"/>
<rect x="82" width="1.05" height="33.85" fill="#858585"/>
<rect x="83" width="1.05" height="33.85" fill="#777777"/>
<rect x="84" width="1.05" height="33.85" fill="#7b7b7b"/>
<rect x="85" width="1.05" height="33.85" fill="#858585"/>
<rect x="86" width="1.05" height="33.85" fill="#888888"/>
<rect x="87" width="1.05" height="33.85" fill="#909090"/>
<rect x="88" width="1.05" height="33.85" fill="#8d8d8d"/>
<rect x="89" width="1.05" height="33.85" fill="#b8b8b8"/>
<rect x="90" width="1.05" height="33.85" fill="#d4d4d4"/>
<rect x="91" width="1.05" height="33.85" fill="#ebebeb"/>
<rect x="92" width="1.05" height="33.85" fill="#f1f1f1"/>
<rect x="93" width="1.05" height="33.85" fill="#efefef"/>
<rect x="94" width="1.05" height="33.85" fill="#ebebeb"/>
<rect x="95" width="1.05" height="33.85" fill="#f7f7f7"/>
<rect x="96" width="1.05" height="33.85" fill="#eaeaea"/>
<rect x="97" width="1.05" height="33.85" fill="#fafafa"/>
<rect x="98" width="1.05" height="33.85" fill="#f3f3f3"/>
<rect x="99" width="1.05" height="33.85" fill="#ebebeb"/>
<rect x="100" width="1.05" height="33.85" fill="#c2c2c2"/>
<rect x="101" width="1.05" height="33.85" fill="#c2c2c2"/>
<rect x="102" width="1.05" height="33.85" fill="#b1b1b1"/>
<rect x="103" width="1.05" height="33.85" fill="#a0a0a0"/>
<rect x="104" width="1.05" height="33.85" fill="#909090"/>
<rect x="105" width="1.05" height="33.85" fill="#818181"/>
<rect x="106" width="1.05" height="33.85" fill="#898989"/>
<rect x="107" width="1.05" height="33.85" fill="#8a8a8a"/>
<rect x="108" width="1.05" height="33.85" fill="#8e8e8e"/>
<rect x="109" width="1.05" height="33.85" fill="#8d8d8d"/>
<rect x="110" width="1.05" height="33.85" fill="#8a8a8a"/>
<rect x="111" width="1.05" height="33.85" fill="#8d8d8d"/>
<rect x="112" width="1.05" height="33.85" fill="#808080"/>
<rect x="113" width="1.05" height="33.85" fill="#7e7e7e"/>
<rect x="114" width="1.05" height="33.85" fill="#7f7f7f"/>
<rect x="115" width="1.05" height="33.85" fill="#7f7f7f"/>
<rect x="116" width="1.05" height="33.85" fill="#777777"/>
<rect x="117" width="1.05" height="33.85" fill="#797979"/>
<rect x="118" width="1.05" height="33.85" fill="#676767"/>
<rect x="119" width="1.05" height="33.85" fill="#6f6f6f"/>
<rect x="120" width="1.05" height="33.85" fill="#757575"/>
<rect x="121" width="1.05" height="33.85" fill="#7b7b7b"/>
<rect x="122" width="1.05" height="33.85" fill="#727272"/>
<rect x="123" width="1.05" height="33.85" fill="#7b7b7b"/>
<rect x="124" width="1.05" height="33.85" fill="#6b6b6b"/>
<rect x="125" width="1.05" height="33.85" fill="#838383"/>
<rect x="126" width="1.05" height="33.85" fill="#7c7c7c"/>
<rect x="127" width="1.05" height="33.85" fill="#7f7f7f"/>
<rect x="128" width="1.05" height="33.85" fill="#747474"/>
<rect x="129" width="1.05" height="33.85" fill="#757575"/>
<rect x="130" width="1.05" height="33.85" fill="#717171"/>
<rect x="131" width="1.05" height="33.85" fill="#6d6d6d"/>
<rect x="132" width="1.05" height="33.85" fill="#747474"/>
<rect x="133" width="1.05" height="33.85" fill="#757575"/>
<rect x="134" width="1.05" height="33.85" fill="#5b5b5b"/>
<rect x="135" width="1.05" height="33.85" fill="#5a5a5a"/>
<rect x="136" width="1.05" height="33.85" fill="#565656"/>
<rect x="137" width="1.05" height="33.85" fill="#585858"/>
<rect x="138" width="1.05" height="33.85" fill="#5e5e5e"/>
<rect x="139" width="1.05" height="33.85" fill="#595959"/>
<rect x="140" width="1.05" height="33.85" fill="#4f4f4f"/>
<rect x="141" width="1.05" height="33.85" fill="#505050"/>
<rect x="142" width="1.05" height="33.85" fill="#575757"/>
<rect x="143" width="1.05" height="33.85" fill="#606060"/>
<rect x="144" width="1.05" height="33.85" fill="#8a8a8a"/>
<rect x="145" width="1.05" height="33.85" fill="#919191"/>
<rect x="146" width="1.05" height="33.85" fill="#868686"/>
<rect x="147" width="1.05" height="33.85" fill="#8a8a8a"/>
<rect x="148" width="1.05" height="33.85" fill="#808080"/>
<rect x="149" width="1.05" height="33.85" fill="#858585"/>
<rect x="150" width="1.05" height="33.85" fill="#808080"/>
<rect x="151" width="1.05" height="33.85" fill="#838383"/>
<rect x="152" width="1.05" height="33.85" fill="#858585"/>
<rect x="153" width="1.05" height="33.85" fill="#767676"/>
<rect x="154" width="1.05" height="33.85" fill="#888888"/>
<rect x="155" width="1.05" height="33.85" fill="#7b7b7b"/>
<rect x="156" width="1.05" height="33.85" fill="#7d7d7d"/>
<rect x="157" width="1.05" height="33.85" fill="#888888"/>
<rect x="158" width="1.05" height="33.85" fill="#919191"/>
<rect x="159" width="1.05" height="33.85" fill="#8a8a8a"/>
<rect x="160" width="1.05" height="33.85" fill="#868686"/>
<rect x="161" width="1.05" height="33.85" fill="#b7b7b7"/>
<rect x="162" width="1.05" height="33.85" fill="#d4d4d4"/>
<rect x="163" width="1.05" height="33.85" fill="#f3f3f3"/>
<rect x="164" width="1.05" height="33.85" fill="#f4f4f4"/>
<rect x="165" width="1.05" height="33.85" fill="#e9e9e9"/>
<rect x="166" width="1.05" height="33.85" fill="#ededed"/>
<rect x="167" width="1.05" height="33.85" fill="#f4f4f4"/>
<rect x="168" width="1.05" height="33.85" fill="#ebebeb"/>
<rect x="169" width="1.05" height="33.85" fill="#f5f5f5"/>
<rect x="170" width="1.05" height="33.85" fill="#f7f7f7"/>
<rect x="171" width="1.05" height="33.85" fill="#ebebeb"/>
<rect x="172" width="1.05" height="33.85" fill="#c3c3c3"/>
<rect x="173" width="1.05" height="33.85" fill="#c0c0c0"/>
<rect x="174" width="1.05" height="33.85" fill="#ababab"/>
<rect x="175" width="1.05" height="33.85" fill="#9c9c9c"/>
<rect x="176" width="1.05" height="33.85" fill="#8f8f8f"/>
<rect x="177" width="1.05" height="33.85" fill="#808080"/>
<rect x="178" width="1.05" height="33.85" fill="#8d8d8d"/>
<rect x="179" width="1.05" height="33.85" fill="#8c8c8c"/>
<rect x="180" width="1.05" height="33.85" fill="#8b8b8b"/>
<rect x="181" width="1.05" height="33.85" fill="#8f8f8f"/>
<rect x="182" width="1.05" height="33.85" fill="#8b8b8b"/>
<rect x="183" width="1.05" height="33.85" fill="#8a8a8a"/>
<rect x="184" width="1.05" height="33.85" fill="#7d7d7d"/>
<rect x="185" width="1.05" height="33.85" fill="#848484"/>
<rect x="186" width="1.05" height="33.85" fill="#818181"/>
<rect x="187" width="1.05" height="33.85" fill="#808080"/>
<rect x="188" width="1.05" height="33.85" fill="#747474"/>
<rect x="189" width="1.05" height="33.85" fill="#717171"/>
<rect x="190" width="1.05" height="33.85" fill="#717171"/>
<rect x="191" width="1.05" height="33.85" fill="#6e6e6e"/>
<rect x="192" width="1.05" height="33.85" fill="#797979"/>
<rect x="193" width="1.05" height="33.85" fill="#7a7a7a"/>
<rect x="194" width="1.05" height="33.85" fill="#6d6d6d"/>
<rect x="195" width="1.05" height="33.85" fill="#787878"/>
<rect x="196" width="1.05" height="33.85" fill="#767676"/>
<rect x="197" width="1.05" height="33.85" fill="#8c8c8c"/>
<rect x="198" width="1.05" height="33.85" fill="#808080"/>
<rect x="199" width="1.05" height="33.85" fill="#7c7c7c"/>
<rect x="200" width="1.05" height="33.85" fill="#767676"/>
<rect x="201" width="1.05" height="33.85" fill="#7a7a7a"/>
<rect x="202" width="1.05" height="33.85" fill="#737373"/>
<rect x="203" width="1.05" height="33.85" fill="#727272"/>
<rect x="204" width="1.05" height="33.85" fill="#7a7a7a"/>
<rect x="205" width="1.05" height="33.85" fill="#6d6d6d"/>
<rect x="206" width="1.05" height="33.85" fill="#5d5d5d"/>
<rect x="207" width="1.05" height="33.85" fill="#535353"/>
<rect x="208" width="1.05" height="33.85" fill="#565656"/>
<rect x="209" width="1.05" height="33.85" fill="#585858"/>
<rect x="210" width="1.05" height="33.85" fill="#595959"/>
<rect x="211" width="1.05" height="33.85" fill="#585858"/>
<rect x="212" width="1.05" height="33.85" fill="#505050"/>
<rect x="213" width="1.05" height="33.85" fill="#565656"/>
<rect x="214" width="1.05" height="33.85" fill="#545454"/>
<rect x="215" width="1.05" height="33.85" fill="#636363"/>
<rect x="216" width="1.05" height="33.85" fill="#8b8b8b"/>
<rect x="217" width="1.05" height="33.85" fill="#939393"/>
<rect x="218" width="1.05" height="33.85" fill="#878787"/>
<rect x="219" width="1.05" height="33.85" fill="#8a8a8a"/>
<rect x="220" width="1.05" height="33.85" fill="#7e7e7e"/>
<rect x="221" width="1.05" height="33.85" fill="#808080"/>
<rect x="222" width="1.05" height="33.85" fill="#818181"/>
<rect x="223" width="1.05" height="33.85" fill="#858585"/>
<rect x="224" width="1.05" height="33.85" fill="#848484"/>
<rect x="225" width="1.05" height="33.85" fill="#767676"/>
<rect x="226" width="1.05" height="33.85" fill="#808080"/>
<rect x="227" width="1.05" height="33.85" fill="#787878"/>
<rect x="228" width="1.05" height="33.85" fill="#797979"/>
<rect x="229" width="1.05" height="33.85" fill="#858585"/>
<rect x="230" width="1.05" height="33.85" fill="#8d8d8d"/>
<rect x="231" width="1.05" height="33.85" fill="#8e8e8e"/>
<rect x="232" width="1.05" height="33.85" fill="#8c8c8c"/>
<rect x="233" width="1.05" height="33.85" fill="#b3b3b3"/>
<rect x="234" width="1.05" height="33.85" fill="#dbdbdb"/>
<rect x="235" width="1.05" height="33.85" fill="#f8f8f8"/>
<rect x="236" width="1.05" height="33.85" fill="#f6f6f6"/>
<rect x="237" width="1.05" height="33.85" fill="#efefef"/>
<rect x="238" width="1.05" height="33.85" fill="#ededed"/>
<rect x="239" width="1.05" height="33.85" fill="#f1f1f1"/>
<rect x="240" width="1.05" height="33.85" fill="#ececec"/>
<rect x="241" width="1.05" height="33.85" fill="#f9f9f9"/>
<rect x="242" width="1.05" height="33.85" fill="#f3f3f3"/>
<rect x="243" width="1.05" height="33.85" fill="#efefef"/>
<rect x="244" width="1.05" height="33.85" fill="#cccccc"/>
<rect x="245" width="1.05" height="33.85" fill="#c4c4c4"/>
<rect x="246" width="1.05" height="33.85" fill="#b3b3b3"/>
<rect x="247" width="1.05" height="33.85" fill="#9f9f9f"/>
<rect x="248" width="1.05" height="33.85" fill="#8f8f8f"/>
<rect x="249" width="1.05" height="33.85" fill="#838383"/>
<rect x="250" width="1.05" height="33.85" fill="#8d8d8d"/>
<rect x="251" width="1.05" height="33.85" fill="#8e8e8e"/>
<rect x="252" width="1.05" height="33.85" fill="#929292"/>
<rect x="253" width="1.05" height="33.85" fill="#8d8d8d"/>
<rect x="254" width="1.05" height="33.85" fill="#8d8d8d"/>
<rect x="255" width="1.05" height="33.85" fill="#919191"/>
<rect x="256" width="1.05" height="33.85" fill="#808080"/>
<rect x="257" width="1.05" height="33.85" fill="#868686"/>
<rect x="258" width="1.05" height="33.85" fill="#808080"/>
<rect x="259" width="1.05" height="33.85" fill="#818181"/>
<rect x="260" width="1.05" height="33.85" fill="#767676"/>
<rect x="261" width="1.05" height="33.85" fill="#717171"/>
<rect x="262" width="1.05" height="33.85" fill="#6c6c6c"/>
<rect x="263" width="1.05" height="33.85" fill="#727272"/>
<rect x="264" width="1.05" height="33.85" fill="#797979"/>
<rect x="265" width="1.05" height="33.85" fill="#787878"/>
<rect x="266" width="1.05" height="33.85" fill="#737373"/>
<rect x="267" width="1.05" height="33.85" fill="#737373"/>
<rect x="268" width="1.05" height="33.85" fill="#777777"/>
<rect x="269" width="1.05" height="33.85" fill="#868686"/>
<rect x="270" width="1.05" height="33.85" fill="#7b7b7b"/>
<rect x="271" width="1.05" height="33.85" fill="#828282"/>
<rect x="272" width="1.05" height="33.85" fill="#737373"/>
<rect x="273" width="1.05" height="33.85" fill="#737373"/>
<rect x="274" width="1.05" height="33.85" fill="#787878"/>
<rect x="275" width="1.05" height="33.85" fill="#727272"/>
<rect x="276" width="1.05" height="33.85" fill="#707070"/>
<rect x="277" width="1.05" height="33.85" fill="#757575"/>
<rect x="278" width="1.05" height="33.85" fill="#5b5b5b"/>
<rect x="279" width="1.05" height="33.85" fill="#515151"/>
<rect x="280" width="1.05" height="33.85" fill="#535353"/>
<rect x="281" width="1.05" height="33.85" fill="#5f5f5f"/>
<rect x="282" width="1.05" height="33.85" fill="#5c5c5c"/>
<rect x="283" width="1.05" height="33.85" fill="#595959"/>
<rect x="284" width="1.05" height="33.85" fill="#525252"/>
<rect x="285" width="1.05" height="33.85" fill="#575757"/>
<rect x="286" width="1.05" height="33.85" fill="#4f4f4f"/>
<rect x="287" width="1.05" height="33.85" fill="#646464"/>
<rect x="288" width="1.05" height="33.85" fill="#878787"/>
<rect x="289" width="1.05" height="33.85" fill="#8d8d8d"/>
<rect x="290" width="1.05" height="33.85" fill="#8c8c8c"/>
<rect x="291" width="1.05" height="33.85" fill="#8c8c8c"/>
<rect x="292" width="1.05" height="33.85" fill="#808080"/>
<rect x="293" width="1.05" height="33.85" fill="#818181"/>
<rect x="294" width="1.05" height="33.85" fill="#838383"/>
<rect x="295" width="1.05" height="33.85" fill="#7f7f7f"/>
<rect x="296" width="1.05" height="33.85" fill="#858585"/>
<rect x="297" width="1.05" height="33.85" fill="#787878"/>
<rect x="298" width="1.05" height="33.85" fill="#848484"/>
<rect x="299" width="1.05" height="33.85" fill="#787878"/>
<rect x="300" width="1.05" height="33.85" fill="#7a7a7a"/>
<rect x="301" width="1.05" height="33.85" fill="#868686"/>
<rect x="302" width="1.05" height="33.85" fill="#8d8d8d"/>
<rect x="303" width="1.05" height="33.85" fill="#8f8f8f"/>
<rect x="304" width="1.05" height="33.85" fill="#838383"/>
<rect x="305" width="1.05" height="33.85" fill="#b8b8b8"/>
<rect x="306" width="1.05" height="33.85" fill="#d6d6d6"/>
<rect x="307" width="1.05" height="33.85" fill="#f6f6f6"/>
<rect x="308" width="1.05" height="33.85" fill="#f1f1f1"/>
<rect x="309" width="1.05" height="33.85" fill="#ededed"/>
<rect x="310" width="1.05" height="33.85" fill="#ebebeb"/>
<rect x="311" width="1.05" height="33.85" fill="#f5f5f5"/>
<rect x="312" width="1.05" height="33.85" fill="#efefef"/>
<rect x="313" width="1.05" height="33.85" fill="#fcfcfc"/>
<rect x="314" width="1.05" height="33.85" fill="#f3f3f3"/>
<rect x="315" width="1.05" height="33.85" fill="#e4e4e4"/>
<rect x="316" width="1.05" height="33.85" fill="#c4c4c4"/>
<rect x="317" width="1.05" height="33.85" fill="#c1c1c1"/>
<rect x="318" width="1.05" height="33.85" fill="#b1b1b1"/>
<rect x="319" width="1.05" height="33.85" fill="#9d9d9d"/>
<rect x="320" width="1.05" height="33.85" fill="#949494"/>
<rect x="321" width="1.05" height="33.85" fill="#838383"/>
<rect x="322" width="1.05" height="33.85" fill="#8a8a8a"/>
<rect x="323" width="1.05" height="33.85" fill="#898989"/>
<rect x="324" width="1.05" height="33.85" fill="#929292"/>
<rect x="325" width="1.05" height="33.85" fill="#8d8d8d"/>
<rect x="326" width="1.05" height="33.85" fill="#8f8f8f"/>
<rect x="327" width="1.05" height="33.85" fill="#8e8e8e"/>
<rect x="328" width="1.05" height="33.85" fill="#7d7d7d"/>
<rect x="329" width="1.05" height="33.85" fill="#858585"/>
<rect x="330" width="1.05" height="33.85" fill="#7e7e7e"/>
<rect x="331" width="1.05" height="33.85" fill="#7d7d7d"/>
<rect x="332" width="1.05" height="33.85" fill="#727272"/>
<rect x="333" width="1.05" height="33.85" fill="#787878"/>
<rect x="334" width="1.05" height="33.85" fill="#6a6a6a"/>
<rect x="335" width="1.05" height="33.85" fill="#737373"/>
<rect x="336" width="1.05" height="33.85" fill="#767676"/>
<rect x="337" width="1.05" height="33.85" fill="#797979"/>
<rect x="338" width="1.05" height="33.85" fill="#6e6e6e"/>
<rect x="339" width="1.05" height="33.85" fill="#747474"/>
<rect x="340" width="1.05" height="33.85" fill="#747474"/>
<rect x="341" width="1.05" height="33.85" fill="#868686"/>
<rect x="342" width="1.05" height="33.85" fill="#848484"/>
<rect x="343" width="1.05" height="33.85" fill="#7f7f7f"/>
<rect x="344" width="1.05" height="33.85" fill="#797979"/>
<rect x="345" width="1.05" height="33.85" fill="#7b7b7b"/>
<rect x="346" width="1.05" height="33.85" fill="#777777"/>
<rect x="347" width="1.05" height="33.85" fill="#737373"/>
<rect x="348" width="1.05" height="33.85" fill="#787878"/>
<rect x="349" width="1.05" height="33.85" fill="#747474"/>
<rect x="350" width="1.05" height="33.85" fill="#606060"/>
<rect x="351" width="1.05" height="33.85" fill="#545454"/>
<rect x="352" width="1.05" height="33.85" fill="#535353"/>
<rect x="353" width="1.05" height="33.85" fill="#575757"/>
<rect x="354" width="1.05" height="33.85" fill="#5a5a5a"/>
<rect x="355" width="1.05" height="33.85" fill="#545454"/>
<rect x="356" width="1.05" height="33.85" fill="#535353"/>
<rect x="357" width="1.05" height="33.85" fill="#595959"/>
<rect x="358" width="1.05" height="33.85" fill="#515151"/>
<rect x="359" width="1.05" height="33.85" fill="#626262"/>
</g>
<g transform="translate(0,270.90)">
<rect x="0" width="1.05" height="33.85" fill="#969696"/>
<rect x="1" width="1.05" height="33.85" fill="#979797"/>
<rect x="2" width="1.05" height="33.85" fill="#959595"/>
<rect x="3" width="1.05" height="33.85" fill="#8c8c8c"/>
<rect x="4" width="1.05" height="33.85" fill="#8f8f8f"/>
<rect x="5" width="1.05" height="33.85" fill="#818181"/>
<rect x="6" width="1.05" height="33.85" fill="#727272"/>
<rect x="7" width="1.05" height="33.85" fill="#797979"/>
<rect x="8" width="1.05" height="33.85" fill="#808080"/>
<rect x="9" width="1.05" height="33.85" fill="#6e6e6e"/>
<rect x="10" width="1.05" height="33.85" fill="#6e6e6e"/>
<rect x="11" width="1.05" height="33.85" fill="#878787"/>
<rect x="12" width="1.05" height="33.85" fill="#848484"/>
<rect x="13" width="1.05" height="33.85" fill="#6a6a6a"/>
<rect x="14" width="1.05" height="33.85" fill="#727272"/>
<rect x="15" width="1.05" height="33.85" fill="#676767"/>
<rect x="16" width="1.05" height="33.85" fill="#6d6d6d"/>
<rect x="17" width="1.05" height="33.85" fill="#878787"/>
<rect x="18" width="1.05" height="33.85" fill="#939393"/>
<rect x="19" width="1.05" height="33.85" fill="#b0b0b0"/>
<rect x="20" width="1.05" height="33.85" fill="#bbbbbb"/>
<rect x="21" width="1.05" height="33.85" fill="#b3b3b3"/>
<rect x="22" width="1.05" height="33.85" fill="#c1c1c1"/>
<rect x="23" width="1.05" height="33.85" fill="#c0c0c0"/>
<rect x="24" width="1.05" height="33.85" fill="#a3a3a3"/>
<rect x="25" width="1.05" height="33.85" fill="#ababab"/>
<rect x="26" width="1.05" height="33.85" fill="#a6a6a6"/>
<rect x="27" width="1.05" height="33.85" fill="#a6a6a6"/>
<rect x="28" width="1.05" height="33.85" fill="#848484"/>
<rect x="29" width="1.05" height="33.85" fill="#858585"/>
<rect x="30" width="1.05" height="33.85" fill="#707070"/>
<rect x="31" width="1.05" height="33.85" fill="#727272"/>
<rect x="32" width="1.05" height="33.85" fill="#5b5b5b"/>
<rect x="33" width="1.05" height="33.85" fill="#5f5f5f"/>
<rect x="34" width="1.05" height="33.85" fill="#646464"/>
<rect x="35" width="1.05" height="33.85" fill="#545454"/>
<rect x="36" width="1.05" height="33.85" fill="#3e3e3e"/>
<rect x="37" width="1.05" height="33.85" fill="#464646"/>
<rect x="38" width="1.05" height="33.85" fill="#313131"/>
<rect x="39" width="1.05" height="33.85" fill="#282828"/>
<rect x="40" width="1.05" height="33.85" fill="#303030"/>
<rect x="41" width="1.05" height="33.85" fill="#2c2c2c"/>
<rect x="42" width="1.05" height="33.85" fill="#252525"/>
<rect x="43" width="1.05" height="33.85" fill="#2a2a2a"/>
<rect x="44" width="1.05" height="33.85" fill="#252525"/>
<rect x="45" width="1.05" height="33.85" fill="#2e2e2e"/>
<rect x="46" width="1.05" height="33.85" fill="#222222"/>
<rect x="47" width="1.05" height="33.85" fill="#292929"/>
<rect x="48" width="1.05" height="33.85" fill="#2e2e2e"/>
<rect x="49" width="1.05" height="33.85" fill="#202020"/>
<rect x="50" width="1.05" height="33.85" fill="#272727"/>
<rect x="51" width="1.05" height="33.85" fill="#242424"/>
<rect x="52" width="1.05" height="33.85" fill="#262626"/>
<rect x="53" width="1.05" height="33.85" fill="#1c1c1c"/>
<rect x="54" width="1.05" height="33.85" fill="#252525"/>
<rect x="55" width="1.05" height="33.85" fill="#2e2e2e"/>
<rect x="56" width="1.05" height="33.85" fill="#282828"/>
<rect x="57" width="1.05" height="33.85" fill="#272727"/>
<rect x="58" width="1.05" height="33.85" fill="#212121"/>
<rect x="59" width="1.05" height="33.85" fill="#242424"/>
<rect x="60" width="1.05" height="33.85" fill="#2a2a2a"/>
<rect x="61" width="1.05" height="33.85" fill="#5a5a5a"/>
<rect x="62" width="1.05" height="33.85" fill="#464646"/>
<rect x="63" width="1.05" height="33.85" fill="#1e1e1e"/>
<rect x="64" width="1.05" height="33.85" fill="#1c1c1c"/>
<rect x="65" width="1.05" height="33.85" fill="#1c1c1c"/>
<rect x="66" width="1.05" height="33.85" fill="#151515"/>
<rect x="67" width="1.05" height="33.85" fill="#212121"/>
<rect x="68" width="1.05" height="33.85" fill="#1a1a1a"/>
<rect x="69" width="1.05" height="33.85" fill="#252525"/>
<rect x="70" width="1.05" height="33.85" fill="#252525"/>
<rect x="71" width="1.05" height="33.85" fill="#282828"/>
<rect x="72" width="1.05" height="33.85" fill="#959595"/>
<rect x="73" width="1.05" height="33.85" fill="#979797"/>
<rect x="74" width="1.05" height="33.85" fill="#909090"/>
<rect x="75" width="1.05" height="33.85" fill="#919191"/>
<rect x="76" width="1.05" height="33.85" fill="#909090"/>
<rect x="77" width="1.05" height="33.85" fill="#8c8c8c"/>
<rect x="78" width="1.05" height="33.85" fill="#757575"/>
<rect x="79" width="1.05" height="33.85" fill="#757575"/>
<rect x="80" width="1.05" height="33.85" fill="#808080"/>
<rect x="81" width="1.05" height="33.85" fill="#727272"/>
<rect x="82" width="1.05" height="33.85" fill="#6b6b6b"/>
<rect x="83" width="1.05" height="33.85" fill="#888888"/>
<rect x="84" width="1.05" height="33.85" fill="#7e7e7e"/>
<rect x="85" width="1.05" height="33.85" fill="#696969"/>
<rect x="86" width="1.05" height="33.85" fill="#777777"/>
<rect x="87" width="1.05" height="33.85" fill="#6c6c6c"/>
<rect x="88" width="1.05" height="33.85" fill="#6d6d6d"/>
<rect x="89" width="1.05" height="33.85" fill="#8a8a8a"/>
<rect x="90" width="1.05" height="33.85" fill="#8e8e8e"/>
<rect x="91" width="1.05" height="33.85" fill="#adadad"/>
<rect x="92" width="1.05" height="33.85" fill="#bababa"/>
<rect x="93" width="1.05" height="33.85" fill="#b2b2b2"/>
<rect x="94" width="1.05" height="33.85" fill="#c0c0c0"/>
<rect x="95" width="1.05" height="33.85" fill="#c0c0c0"/>
<rect x="96" width="1.05" height="33.85" fill="#a6a6a6"/>
<rect x="97" width="1.05" height="33.85" fill="#a9a9a9"/>
<rect x="98" width="1.05" height="33.85" fill="#a6a6a6"/>
<rect x="99" width="1.05" height="33.85" fill="#adadad"/>
<rect x="100" width="1.05" height="33.85" fill="#858585"/>
<rect x="101" width="1.05" height="33.85" fill="#868686"/>
<rect x="102" width="1.05" height="33.85" fill="#797979"/>
<rect x="103" width="1.05" height="33.85" fill="#777777"/>
<rect x="104" width="1.05" height="33.85" fill="#5d5d5d"/>
<rect x="105" width="1.05" height="33.85" fill="#616161"/>
<rect x="106" width="1.05" height="33.85" fill="#606060"/>
<rect x="107" width="1.05" height="33.85" fill="#545454"/>
<rect x="108" width="1.05" height="33.85" fill="#4c4c4c"/>
<rect x="109" width="1.05" height="33.85" fill="#484848"/>
<rect x="110" width="1.05" height="33.85" fill="#2c2c2c"/>
<rect x="111" width="1.05" height="33.85" fill="#252525"/>
<rect x="112" width="1.05" height="33.85" fill="#2f2f2f"/>
<rect x="113" width="1.05" height="33.85" fill="#292929"/>
<rect x="114" width="1.05" height="33.85" fill="#252525"/>
<rect x="115" width="1.05" height="33.85" fill="#2f2f2f"/>
<rect x="116" width="1.05" height="33.85" fill="#212121"/>
<rect x="117" width="1.05" height="33.85" fill="#303030"/>
<rect x="118" width="1.05" height="33.85" fill="#252525"/>
<rect x="119" width="1.05" height="33.85" fill="#242424"/>
<rect x="120" width="1.05" height="33.85" fill="#2a2a2a"/>
<rect x="121" width="1.05" height="33.85" fill="#252525"/>
<rect x="122" width="1.05" height="33.85" fill="#2a2a2a"/>
<rect x="123" width="1.05" height="33.85" fill="#1a1a1a"/>
<rect x="124" width="1.05" height="33.85" fill="#1e1e1e"/>
<rect x="125" width="1.05" height="33.85" fill="#202020"/>
<rect x="126" width="1.05" height="33.85" fill="#272727"/>
<rect x="127" width="1.05" height="33.85" fill="#292929"/>
<rect x="128" width="1.05" height="33.85" fill="#282828"/>
<rect x="129" width="1.05" height="33.85" fill="#282828"/>
<rect x="130" width="1.05" height="33.85" fill="#1e1e1e"/>
<rect x="131" width="1.05" height="33.85" fill="#232323"/>
<rect x="132" width="1.05" height="33.85" fill="#282828"/>
<rect x="133" width="1.05" height="33.85" fill="#5c5c5c"/>
<rect x="134" width="1.05" height="33.85" fill="#3c3c3c"/>
<rect x="135" width="1.05" height="33.85" fill="#1d1d1d"/>
<rect x="136" width="1.05" height="33.85" fill="#202020"/>
<rect x="137" width="1.05" height="33.85" fill="#1c1c1c"/>
<rect x="138" width="1.05" height="33.85" fill="#1d1d1d"/>
<rect x="139" width="1.05" height="33.85" fill="#222222"/>
<rect x="140" width="1.05" height="33.85" fill="#1c1c1c"/>
<rect x="141" width="1.05" height="33.85" fill="#1f1f1f"/>
<rect x="142" width="1.05" height="33.85" fill="#2a2a2a"/>
<rect x="143" width="1.05" height="33.85" fill="#2b2b2b"/>
<rect x="144" width="1.05" height="33.85" fill="#929292"/>
<rect x="145" width="1.05" height="33.85" fill="#939393"/>
<rect x="146" width="1.05" height="33.85" fill="#949494"/>
<rect x="147" width="1.05" height="33.85" fill="#8c8c8c"/>
<rect x="148" width="1.05" height="33.85" fill="#939393"/>
<rect x="149" width="1.05" height="33.85" fill="#848484"/>
<rect x="150" width="1.05" height="33.85" fill="#717171"/>
<rect x="151" width="1.05" height="33.85" fill="#7c7c7c"/>
<rect x="152" width="1.05" height="33.85" fill="#828282"/>
<rect x="153" width="1.05" height="33.85" fill="#757575"/>
<rect x="154" width="1.05" height="33.85" fill="#6e6e6e"/>
<rect x="155" width="1.05" height="33.85" fill="#868686"/>
<rect x="156" width="1.05" height="33.85" fill="#818181"/>
<rect x="157" width="1.05" height="33.85" fill="#696969"/>
<rect x="158" width="1.05" height="33.85" fill="#727272"/>
<rect x="159" width="1.05" height="33.85" fill="#6e6e6e"/>
<rect x="160" width="1.05" height="33.85" fill="#6d6d6d"/>
<rect x="161" width="1.05" height="33.85" fill="#8e8e8e"/>
<rect x="162" width="1.05" height="33.85" fill="#8c8c8c"/>
<rect x="163" width="1.05" height="33.85" fill="#b3b3b3"/>
<rect x="164" width="1.05" height="33.85" fill="#b9b9b9"/>
<rect x="165" width="1.05" height="33.85" fill="#b2b2b2"/>
<rect x="166" width="1.05" height="33.85" fill="#bebebe"/>
<rect x="167" width="1.05" height="33.85" fill="#bcbcbc"/>
<rect x="168" width="1.05" height="33.85" fill="#a0a0a0"/>
<rect x="169" width="1.05" height="33.85" fill="#ababab"/>
<rect x="170" width="1.05" height="33.85" fill="#a4a4a4"/>
<rect x="171" width="1.05" height="33.85" fill="#a7a7a7"/>
<rect x="172" width="1.05" height="33.85" fill="#828282"/>
<rect x="173" width="1.05" height="33.85" fill="#848484"/>
<rect x="174" width="1.05" height="33.85" fill="#707070"/>
<rect x="175" width="1.05" height="33.85" fill="#767676"/>
<rect x="176" width="1.05" height="33.85" fill="#5c5c5c"/>
<rect x="177" width="1.05" height="33.85" fill="#5e5e5e"/>
<rect x="178" width="1.05" height="33.85" fill="#616161"/>
<rect x="179" width="1.05" height="33.85" fill="#585858"/>
<rect x="180" width="1.05" height="33.85" fill="#4a4a4a"/>
<rect x="181" width="1.05" height="33.85" fill="#4b4b4b"/>
<rect x="182" width="1.05" height="33.85" fill="#333333"/>
<rect x="183" width="1.05" height="33.85" fill="#222222"/>
<rect x="184" width="1.05" height="33.85" fill="#303030"/>
<rect x="185" width="1.05" height="33.85" fill="#2e2e2e"/>
<rect x="186" width="1.05" height="33.85" fill="#252525"/>
<rect x="187" width="1.05" height="33.85" fill="#2d2d2d"/>
<rect x="188" width="1.05" height="33.85" fill="#1d1d1d"/>
<rect x="189" width="1.05" height="33.85" fill="#323232"/>
<rect x="190" width="1.05" height="33.85" fill="#262626"/>
<rect x="191" width="1.05" height="33.85" fill="#222222"/>
<rect x="192" width="1.05" height="33.85" fill="#292929"/>
<rect x="193" width="1.05" height="33.85" fill="#242424"/>
<rect x="194" width="1.05" height="33.85" fill="#282828"/>
<rect x="195" width="1.05" height="33.85" fill="#232323"/>
<rect x="196" width="1.05" height="33.85" fill="#262626"/>
<rect x="197" width="1.05" height="33.85" fill="#232323"/>
<rect x="198" width="1.05" height="33.85" fill="#272727"/>
<rect x="199" width="1.05" height="33.85" fill="#292929"/>
<rect x="200" width="1.05" height="33.85" fill="#2b2b2b"/>
<rect x="201" width="1.05" height="33.85" fill="#2e2e2e"/>
<rect x="202" width="1.05" height="33.85" fill="#1c1c1c"/>
<rect x="203" width="1.05" height="33.85" fill="#202020"/>
<rect x="204" width="1.05" height="33.85" fill="#272727"/>
<rect x="205" width="1.05" height="33.85" fill="#5b5b5b"/>
<rect x="206" width="1.05" height="33.85" fill="#434343"/>
<rect x="207" width="1.05" height="33.85" fill="#1e1e1e"/>
<rect x="208" width="1.05" height="33.85" fill="#202020"/>
<rect x="209" width="1.05" height="33.85" fill="#191919"/>
<rect x="210" width="1.05" height="33.85" fill="#171717"/>
<rect x="211" width="1.05" height="33.85" fill="#212121"/>
<rect x="212" width="1.05" height="33.85" fill="#181818"/>
<rect x="213" width="1.05" height="33.85" fill="#1b1b1b"/>
<rect x="214" width="1.05" height="33.85" fill="#1f1f1f"/>
<rect x="215" width="1.05" height="33.85" fill="#222222"/>
<rect x="216" width="1.05" height="33.85" fill="#919191"/>
<rect x="217" width="1.05" height="33.85" fill="#989898"/>
<rect x="218" width="1.05" height="33.85" fill="#909090"/>
<rect x="219" width="1.05" height="33.85" fill="#8d8d8d"/>
<rect x="220" width="1.05" height="33.85" fill="#8e8e8e"/>
<rect x="221" width="1.05" height="33.85" fill="#888888"/>
<rect x="222" width="1.05" height="33.85" fill="#767676"/>
<rect x="223" width="1.05" height="33.85" fill="#757575"/>
<rect x="224" width="1.05" height="33.85" fill="#828282"/>
<rect x="225" width="1.05" height="33.85" fill="#6f6f6f"/>
<rect x="226" width="1.05" height="33.85" fill="#707070"/>
<rect x="227" width="1.05" height="33.85" fill="#898989"/>
<rect x="228" width="1.05" height="33.85" fill="#818181"/>
<rect x="229" width="1.05" height="33.85" fill="#6c6c6c"/>
<rect x="230" width="1.05" height="33.85" fill="#727272"/>
<rect x="231" width="1.05" height="33.85" fill="#656565"/>
<rect x="232" width="1.05" height="33.85" fill="#6e6e6e"/>
<rect x="233" width="1.05" height="33.85" fill="#919191"/>
<rect x="234" width="1.05" height="33.85" fill="#878787"/>
<rect x="235" width="1.05" height="33.85" fill="#b4b4b4"/>
<rect x="236" width="1.05" height="33.85" fill="#bababa"/>
<rect x="237" width="1.05" height="33.85" fill="#b6b6b6"/>
<rect x="238" width="1.05" height="33.85" fill="#bdbdbd"/>
<rect x="239" width="1.05" height="33.85" fill="#bebebe"/>
<rect x="240" width="1.05" height="33.85" fill="#a7a7a7"/>
<rect x="241" width="1.05" height="33.85" fill="#ababab"/>
<rect x="242" width="1.05" height="33.85" fill="#aaaaaa"/>
<rect x="243" width="1.05" height="33.85" fill="#a7a7a7"/>
<rect x="244" width="1.05" height="33.85" fill="#868686"/>
<rect x="245" width="1.05" height="33.85" fill="#858585"/>
<rect x="246" width="1.05" height="33.85" fill="#707070"/>
<rect x="247" width="1.05" height="33.85" fill="#757575"/>
<rect x="248" width="1.05" height="33.85" fill="#606060"/>
<rect x="249" width="1.05" height="33.85" fill="#636363"/>
<rect x="250" width="1.05" height="33.85" fill="#626262"/>
<rect x="251" width="1.05" height="33.85" fill="#515151"/>
<rect x="252" width="1.05" height="33.85" fill="#474747"/>
<rect x="253" width="1.05" height="33.85" fill="#464646"/>
<rect x="254" width="1.05" height="33.85" fill="#313131"/>
<rect x="255" width="1.05" height="33.85" fill="#232323"/>
<rect x="256" width="1.05" height="33.85" fill="#292929"/>
<rect x="257" width="1.05" height="33.85" fill="#2c2c2c"/>
<rect x="258" width="1.05" height="33.85" fill="#292929"/>
<rect x="259" width="1.05" height="33.85" fill="#2d2d2d"/>
<rect x="260" width="1.05" height="33.85" fill="#1f1f1f"/>
<rect x="261" width="1.05" height="33.85" fill="#2f2f2f"/>
<rect x="262" width="1.05" height="33.85" fill="#262626"/>
<rect x="263" width="1.05" height="33.85" fill="#242424"/>
<rect x="264" width="1.05" height="33.85" fill="#2c2c2c"/>
<rect x="265" width="1.05" height="33.85" fill="#2b2b2b"/>
<rect x="266" width="1.05" height="33.85" fill="#262626"/>
<rect x="267" width="1.05" height="33.85" fill="#242424"/>
<rect x="268" width="1.05" height="33.85" fill="#232323"/>
<rect x="269" width="1.05" height="33.85" fill="#212121"/>
<rect x="270" width="1.05" height="33.85" fill="#262626"/>
<rect x="271" width="1.05" height="33.85" fill="#2c2c2c"/>
<rect x="272" width="1.05" height="33.85" fill="#272727"/>
<rect x="273" width="1.05" height="33.85" fill="#2a2a2a"/>
<rect x="274" width="1.05" height="33.85" fill="#232323"/>
<rect x="275" width="1.05" height="33.85" fill="#232323"/>
<rect x="276" width="1.05" height="33.85" fill="#242424"/>
<rect x="277" width="1.05" height="33.85" fill="#5e5e5e"/>
<rect x="278" width="1.05" height="33.85" fill="#434343"/>
<rect x="279" width="1.05" height="33.85" fill="#202020"/>
<rect x="280" width="1.05" height="33.85" fill="#212121"/>
<rect x="281" width="1.05" height="33.85" fill="#171717"/>
<rect x="282" width="1.05" height="33.85" fill="#1f1f1f"/>
<rect x="283" width="1.05" height="33.85" fill="#252525"/>
<rect x="284" width="1.05" height="33.85" fill="#1f1f1f"/>
<rect x="285" width="1.05" height="33.85" fill="#1b1b1b"/>
<rect x="286" width="1.05" height="33.85" fill="#242424"/>
<rect x="287" width="1.05" height="33.85" fill="#252525"/>
<rect x="288" width="1.05" height="33.85" fill="#929292"/>
<rect x="289" width="1.05" height="33.85" fill="#929292"/>
<rect x="290" width="1.05" height="33.85" fill="#909090"/>
<rect x="291" width="1.05" height="33.85" fill="#8c8c8c"/>
<rect x="292" width="1.05" height="33.85" fill="#8e8e8e"/>
<rect x="293" width="1.05" height="33.85" fill="#8c8c8c"/>
<rect x="294" width="1.05" height="33.85" fill="#717171"/>
<rect x="295" width="1.05" height="33.85" fill="#767676"/>
<rect x="296" width="1.05" height="33.85" fill="#858585"/>
<rect x="297" width="1.05" height="33.85" fill="#717171"/>
<rect x="298" width="1.05" height="33.85" fill="#707070"/>
<rect x="299" width="1.05" height="33.85" fill="#888888"/>
<rect x="300" width="1.05" height="33.85" fill="#7d7d7d"/>
<rect x="301" width="1.05" height="33.85" fill="#696969"/>
<rect x="302" width="1.05" height="33.85" fill="#737373"/>
<rect x="303" width="1.05" height="33.85" fill="#686868"/>
<rect x="304" width="1.05" height="33.85" fill="#6d6d6d"/>
<rect x="305" width="1.05" height="33.85" fill="#8b8b8b"/>
<rect x="306" width="1.05" height="33.85" fill="#919191"/>
<rect x="307" width="1.05" height="33.85" fill="#adadad"/>
<rect x="308" width="1.05" height="33.85" fill="#bbbbbb"/>
<rect x="309" width="1.05" height="33.85" fill="#b4b4b4"/>
<rect x="310" width="1.05" height="33.85" fill="#bbbbbb"/>
<rect x="311" width="1.05" height="33.85" fill="#bebebe"/>
<rect x="312" width="1.05" height="33.85" fill="#a4a4a4"/>
<rect x="313" width="1.05" height="33.85" fill="#a8a8a8"/>
<rect x="314" width="1.05" height="33.85" fill="#a0a0a0"/>
<rect x="315" width="1.05" height="33.85" fill="#aaaaaa"/>
<rect x="316" width="1.05" height="33.85" fill="#848484"/>
<rect x="317" width="1.05" height="33.85" fill="#868686"/>
<rect x="318" width="1.05" height="33.85" fill="#6f6f6f"/>
<rect x="319" width="1.05" height="33.85" fill="#7a7a7a"/>
<rect x="320" width="1.05" height="33.85" fill="#5e5e5e"/>
<rect x="321" width="1.05" height="33.85" fill="#595959"/>
<rect x="322" width="1.05" height="33.85" fill="#636363"/>
<rect x="323" width="1.05" height="33.85" fill="#525252"/>
<rect x="324" width="1.05" height="33.85" fill="#4a4a4a"/>
<rect x="325" width="1.05" height="33.85" fill="#4a4a4a"/>
<rect x="326" width="1.05" height="33.85" fill="#343434"/>
<rect x="327" width="1.05" height="33.85" fill="#252525"/>
<rect x="328" width="1.05" height="33.85" fill="#2b2b2b"/>
<rect x="329" width="1.05" height="33.85" fill="#313131"/>
<rect x="330" width="1.05" height="33.85" fill="#2e2e2e"/>
<rect x="331" width="1.05" height="33.85" fill="#2a2a2a"/>
<rect x="332" width="1.05" height="33.85" fill="#232323"/>
<rect x="333" width="1.05" height="33.85" fill="#2e2e2e"/>
<rect x="334" width="1.05" height="33.85" fill="#262626"/>
<rect x="335" width="1.05" height="33.85" fill="#222222"/>
<rect x="336" width="1.05" height="33.85" fill="#292929"/>
<rect x="337" width="1.05" height="33.85" fill="#2a2a2a"/>
<rect x="338" width="1.05" height="33.85" fill="#2a2a2a"/>
<rect x="339" width="1.05" height="33.85" fill="#202020"/>
<rect x="340" width="1.05" height="33.85" fill="#292929"/>
<rect x="341" width="1.05" height="33.85" fill="#232323"/>
<rect x="342" width="1.05" height="33.85" fill="#272727"/>
<rect x="343" width="1.05" height="33.85" fill="#282828"/>
<rect x="344" width="1.05" height="33.85" fill="#272727"/>
<rect x="345" width="1.05" height="33.85" fill="#2f2f2f"/>
<rect x="346" width="1.05" height="33.85" fill="#1c1c1c"/>
<rect x="347" width="1.05" height="33.85" fill="#1e1e1e"/>
<rect x="348" width="1.05" height="33.85" fill="#262626"/>
<rect x="349" width="1.05" height="33.85" fill="#606060"/>
<rect x="350" width="1.05" height="33.85" fill="#404040"/>
<rect x="351" width="1.05" height="33.85" fill="#1e1e1e"/>
<rect x="352" width="1.05" height="33.85" fill="#212121"/>
<rect x="353" width="1.05" height="33.85" fill="#1d1d1d"/>
<rect x="354" width="1.05" height="33.85" fill="#212121"/>
<rect x="355" width="1.05" height="33.85" fill="#2e2e2e"/>
<rect x="356" width="1.05" height="33.85" fill="#1c1c1c"/>
<rect x="357" width="1.05" height="33.85" fill="#222222"/>
<rect x="358" width="1.05" height="33.85" fill="#242424"/>
<rect x="359" width="1.05" height="33.85" fill="#2b2b2b"/>
</g>
<g transform="translate(0,304.70)">
<rect x="0" width="1.05" height="33.85" fill="#a4a4a4"/>
<rect x="1" width="1.05" height="33.85" fill="#b5b5b5"/>
<rect x="2" width="1.05" height="33.85" fill="#a2a2a2"/>
<rect x="3" width="1.05" height="33.85" fill="#c2c2c2"/>
<rect x="4" width="1.05" height="33.85" fill="#c5c5c5"/>
<rect x="5" width="1.05" height="33.85" fill="#cfcfcf"/>
<rect x="6" width="1.05" height="33.85" fill="#b2b2b2"/>
<rect x="7" width="1.05" height="33.85" fill="#b7b7b7"/>
<rect x="8" width="1.05" height="33.85" fill="#afafaf"/>
<rect x="9" width="1.05" height="33.85" fill="#c5c5c5"/>
<rect x="10" width="1.05" height="33.85" fill="#c3c3c3"/>
<rect x="11" width="1.05" height="33.85" fill="#b8b8b8"/>
<rect x="12" width="1.05" height="33.85" fill="#a3a3a3"/>
<rect x="13" width="1.05" height="33.85" fill="#a0a0a0"/>
<rect x="14" width="1.05" height="33.85" fill="#a7a7a7"/>
<rect x="15" width="1.05" height="33.85" fill="#afafaf"/>
<rect x="16" width="1.05" height="33.85" fill="#b2b2b2"/>
<rect x="17" width="1.05" height="33.85" fill="#cdcdcd"/>
<rect x="18" width="1.05" height="33.85" fill="#c8c8c8"/>
<rect x="19" width="1.05" height="33.85" fill="#cfcfcf"/>
<rect x="20" width="1.05" height="33.85" fill="#cbcbcb"/>
<rect x="21" width="1.05" height="33.85" fill="#d3d3d3"/>
<rect x="22" width="1.05" height="33.85" fill="#d8d8d8"/>
<rect x="23" width="1.05" height="33.85" fill="#d0d0d0"/>
<rect x="24" width="1.05" height="33.85" fill="#cacaca"/>
<rect x="25" width="1.05" height="33.85" fill="#d2d2d2"/>
<rect x="26" width="1.05" height="33.85" fill="#a8a8a8"/>
<rect x="27" width="1.05" height="33.85" fill="#a0a0a0"/>
<rect x="28" width="1.05" height="33.85" fill="#939393"/>
<rect x="29" width="1.05" height="33.85" fill="#858585"/>
<rect x="30" width="1.05" height="33.85" fill="#848484"/>
<rect x="31" width="1.05" height="33.85" fill="#848484"/>
<rect x="32" width="1.05" height="33.85" fill="#787878"/>
<rect x="33" width="1.05" height="33.85" fill="#808080"/>
<rect x="34" width="1.05" height="33.85" fill="#7f7f7f"/>
<rect x="35" width="1.05" height="33.85" fill="#818181"/>
<rect x="36" width="1.05" height="33.85" fill="#797979"/>
<rect x="37" width="1.05" height="33.85" fill="#707070"/>
<rect x="38" width="1.05" height="33.85" fill="#6b6b6b"/>
<rect x="39" width="1.05" height="33.85" fill="#777777"/>
<rect x="40" width="1.05" height="33.85" fill="#696969"/>
<rect x="41" width="1.05" height="33.85" fill="#7a7a7a"/>
<rect x="42" width="1.05" height="33.85" fill="#6e6e6e"/>
<rect x="43" width="1.05" height="33.85" fill="#6d6d6d"/>
<rect x="44" width="1.05" height="33.85" fill="#6d6d6d"/>
<rect x="45" width="1.05" height="33.85" fill="#767676"/>
<rect x="46" width="1.05" height="33.85" fill="#616161"/>
<rect x="47" width="1.05" height="33.85" fill="#707070"/>
<rect x="48" width="1.05" height="33.85" fill="#666666"/>
<rect x="49" width="1.05" height="33.85" fill="#686868"/>
<rect x="50" width="1.05" height="33.85" fill="#585858"/>
<rect x="51" width="1.05" height="33.85" fill="#545454"/>
<rect x="52" width="1.05" height="33.85" fill="#5e5e5e"/>
<rect x="53" width="1.05" height="33.85" fill="#505050"/>
<rect x="54" width="1.05" height="33.85" fill="#525252"/>
<rect x="55" width="1.05" height="33.85" fill="#595959"/>
<rect x="56" width="1.05" height="33.85" fill="#5d5d5d"/>
<rect x="57" width="1.05" height="33.85" fill="#585858"/>
<rect x="58" width="1.05" height="33.85" fill="#5b5b5b"/>
<rect x="59" width="1.05" height="33.85" fill="#525252"/>
<rect x="60" width="1.05" height="33.85" fill="#4c4c4c"/>
<rect x="61" width="1.05" height="33.85" fill="#3c3c3c"/>
<rect x="62" width="1.05" height="33.85" fill="#404040"/>
<rect x="63" width="1.05" height="33.85" fill="#353535"/>
<rect x="64" width="1.05" height="33.85" fill="#3b3b3b"/>
<rect x="65" width="1.05" height="33.85" fill="#363636"/>
<rect x="66" width="1.05" height="33.85" fill="#414141"/>
<rect x="67" width="1.05" height="33.85" fill="#444444"/>
<rect x="68" width="1.05" height="33.85" fill="#353535"/>
<rect x="69" width="1.05" height="33.85" fill="#3d3d3d"/>
<rect x="70" width="1.05" height="33.85" fill="#454545"/>
<rect x="71" width="1.05" height="33.85" fill="#454545"/>
<rect x="72" width="1.05" height="33.85" fill="#9a9a9a"/>
<rect x="73" width="1.05" height="33.85" fill="#b2b2b2"/>
<rect x="74" width="1.05" height="33.85" fill="#a3a3a3"/>
<rect x="75" width="1.05" height="33.85" fill="#c6c6c6"/>
<rect x="76" width="1.05" height="33.85" fill="#c6c6c6"/>
<rect x="77" width="1.05" height="33.85" fill="#cecece"/>
<rect x="78" width="1.05" height="33.85" fill="#bababa"/>
<rect x="79" width="1.05" height="33.85" fill="#b1b1b1"/>
<rect x="80" width="1.05" height="33.85" fill="#acacac"/>
<rect x="81" width="1.05" height="33.85" fill="#c3c3c3"/>
<rect x="82" width="1.05" height="33.85" fill="#c4c4c4"/>
<rect x="83" width="1.05" height="33.85" fill="#bcbcbc"/>
<rect x="84" width="1.05" height="33.85" fill="#a1a1a1"/>
<rect x="85" width="1.05" height="33.85" fill="#a1a1a1"/>
<rect x="86" width="1.05" height="33.85" fill="#ababab"/>
<rect x="87" width="1.05" height="33.85" fill="#afafaf"/>
<rect x="88" width="1.05" height="33.85" fill="#b3b3b3"/>
<rect x="89" width="1.05" height="33.85" fill="#c7c7c7"/>
<rect x="90" width="1.05" height="33.85" fill="#c6c6c6"/>
<rect x="91" width="1.05" height="33.85" fill="#cfcfcf"/>
<rect x="92" width="1.05" height="33.85" fill="#c9c9c9"/>
<rect x="93" width="1.05" height="33.85" fill="#cacaca"/>
<rect x="94" width="1.05" height="33.85" fill="#d0d0d0"/>
<rect x="95" width="1.05" height="33.85" fill="#d1d1d1"/>
<rect x="96" width="1.05" height="33.85" fill="#cccccc"/>
<rect x="97" width="1.05" height="33.85" fill="#cfcfcf"/>
<rect x="98" width="1.05" height="33.85" fill="#a3a3a3"/>
<rect x="99" width="1.05" height="33.85" fill="#999999"/>
<rect x="100" width="1.05" height="33.85" fill="#909090"/>
<rect x="101" width="1.05" height="33.85" fill="#7f7f7f"/>
<rect x="102" width="1.05" height="33.85" fill="#818181"/>
<rect x="103" width="1.05" height="33.85" fill="#878787"/>
<rect x="104" width="1.05" height="33.85" fill="#7f7f7f"/>
<rect x="105" width="1.05" height="33.85" fill="#7e7e7e"/>
<rect x="106" width="1.05" height="33.85" fill="#787878"/>
<rect x="107" width="1.05" height="33.85" fill="#828282"/>
<rect x="108" width="1.05" height="33.85" fill="#7c7c7c"/>
<rect x="109" width="1.05" height="33.85" fill="#6e6e6e"/>
<rect x="110" width="1.05" height="33.85" fill="#707070"/>
<rect x="111" width="1.05" height="33.85" fill="#727272"/>
<rect x="112" width="1.05" height="33.85" fill="#6c6c6c"/>
<rect x="113" width="1.05" height="33.85" fill="#717171"/>
<rect x="114" width="1.05" height="33.85" fill="#6b6b6b"/>
<rect x="115" width="1.05" height="33.85" fill="#6c6c6c"/>
<rect x="116" width="1.05" height="33.85" fill="#717171"/>
<rect x="117" width="1.05" height="33.85" fill="#6e6e6e"/>
<rect x="118" width="1.05" height="33.85" fill="#5e5e5e"/>
<rect x="119" width="1.05" height="33.85" fill="#717171"/>
<rect x="120" width="1.05" height="33.85" fill="#686868"/>
<rect x="121" width="1.05" height="33.85" fill="#666666"/>
<rect x="122" width="1.05" height="33.85" fill="#5d5d5d"/>
<rect x="123" width="1.05" height="33.85" fill="#555555"/>
<rect x="124" width="1.05" height="33.85" fill="#5b5b5b"/>
<rect x="125" width="1.05" height="33.85" fill="#515151"/>
<rect x="126" width="1.05" height="33.85" fill="#484848"/>
<rect x="127" width="1.05" height="33.85" fill="#5a5a5a"/>
<rect x="128" width="1.05" height="33.85" fill="#5e5e5e"/>
<rect x="129" width="1.05" height="33.85" fill="#565656"/>
<rect x="130" width="1.05" height="33.85" fill="#595959"/>
<rect x="131" width="1.05" height="33.85" fill="#545454"/>
<rect x="132" width="1.05" height="33.85" fill="#4c4c4c"/>
<rect x="133" width="1.05" height="33.85" fill="#434343"/>
<rect x="134" width="1.05" height="33.85" fill="#4b4b4b"/>
<rect x="135" width="1.05" height="33.85" fill="#363636"/>
<rect x="136" width="1.05" height="33.85" fill="#3a3a3a"/>
<rect x="137" width="1.05" height="33.85" fill="#313131"/>
<rect x="138" width="1.05" height="33.85" fill="#404040"/>
<rect x="139" width="1.05" height="33.85" fill="#3d3d3d"/>
<rect x="140" width="1.05" height="33.85" fill="#3d3d3d"/>
<rect x="141" width="1.05" height="33.85" fill="#3f3f3f"/>
<rect x="142" width="1.05" height="33.85" fill="#434343"/>
<rect x="143" width="1.05" height="33.85" fill="#484848"/>
<rect x="144" width="1.05" height="33.85" fill="#9d9d9d"/>
<rect x="145" width="1.05" height="33.85" fill="#b1b1b1"/>
<rect x="146" width="1.05" height="33.85" fill="#a5a5a5"/>
<rect x="147" width="1.05" height="33.85" fill="#c1c1c1"/>
<rect x="148" width="1.05" height="33.85" fill="#c8c8c8"/>
<rect x="149" width="1.05" height="33.85" fill="#d1d1d1"/>
<rect x="150" width="1.05" height="33.85" fill="#bbbbbb"/>
<rect x="151" width="1.05" height="33.85" fill="#b2b2b2"/>
<rect x="152" width="1.05" height="33.85" fill="#b2b2b2"/>
<rect x="153" width="1.05" height="33.85" fill="#c4c4c4"/>
<rect x="154" width="1.05" height="33.85" fill="#bfbfbf"/>
<rect x="155" width="1.05" height="33.85" fill="#b8b8b8"/>
<rect x="156" width="1.05" height="33.85" fill="#9c9c9c"/>
<rect x="157" width="1.05" height="33.85" fill="#a2a2a2"/>
<rect x="158" width="1.05" height="33.85" fill="#a1a1a1"/>
<rect x="159" width="1.05" height="33.85" fill="#adadad"/>
<rect x="160" width="1.05" height="33.85" fill="#aaaaaa"/>
<rect x="161" width="1.05" height="33.85" fill="#cbcbcb"/>
<rect x="162" width="1.05" height="33.85" fill="#c9c9c9"/>
<rect x="163" width="1.05" height="33.85" fill="#cdcdcd"/>
<rect x="164" width="1.05" height="33.85" fill="#c9c9c9"/>
<rect x="165" width="1.05" height="33.85" fill="#cecece"/>
<rect x="166" width="1.05" height="33.85" fill="#d2d2d2"/>
<rect x="167" width="1.05" height="33.85" fill="#c8c8c8"/>
<rect x="168" width="1.05" height="33.85" fill="#cbcbcb"/>
<rect x="169" width="1.05" height="33.85" fill="#d0d0d0"/>
<rect x="170" width="1.05" height="33.85" fill="#a2a2a2"/>
<rect x="171" width="1.05" height="33.85" fill="#9a9a9a"/>
<rect x="172" width="1.05" height="33.85" fill="#939393"/>
<rect x="173" width="1.05" height="33.85" fill="#848484"/>
<rect x="174" width="1.05" height="33.85" fill="#848484"/>
<rect x="175" width="1.05" height="33.85" fill="#828282"/>
<rect x="176" width="1.05" height="33.85" fill="#7b7b7b"/>
<rect x="177" width="1.05" height="33.85" fill="#787878"/>
<rect x="178" width="1.05" height="33.85" fill="#787878"/>
<rect x="179" width="1.05" height="33.85" fill="#828282"/>
<rect x="180" width="1.05" height="33.85" fill="#777777"/>
<rect x="181" width="1.05" height="33.85" fill="#6e6e6e"/>
<rect x="182" width="1.05" height="33.85" fill="#696969"/>
<rect x="183" width="1.05" height="33.85" fill="#737373"/>
<rect x="184" width="1.05" height="33.85" fill="#686868"/>
<rect x="185" width="1.05" height="33.85" fill="#6e6e6e"/>
<rect x="186" width="1.05" height="33.85" fill="#747474"/>
<rect x="187" width="1.05" height="33.85" fill="#6a6a6a"/>
<rect x="188" width="1.05" height="33.85" fill="#6d6d6d"/>
<rect x="189" width="1.05" height="33.85" fill="#6c6c6c"/>
<rect x="190" width="1.05" height="33.85" fill="#636363"/>
<rect x="191" width="1.05" height="33.85" fill="#6e6e6e"/>
<rect x="192" width="1.05" height="33.85" fill="#6f6f6f"/>
<rect x="193" width="1.05" height="33.85" fill="#666666"/>
<rect x="194" width="1.05" height="33.85" fill="#5a5a5a"/>
<rect x="195" width="1.05" height="33.85" fill="#595959"/>
<rect x="196" width="1.05" height="33.85" fill="#5a5a5a"/>
<rect x="197" width="1.05" height="33.85" fill="#505050"/>
<rect x="198" width="1.05" height="33.85" fill="#4f4f4f"/>
<rect x="199" width="1.05" height="33.85" fill="#575757"/>
<rect x="200" width="1.05" height="33.85" fill="#5f5f5f"/>
<rect x="201" width="1.05" height="33.85" fill="#5b5b5b"/>
<rect x="202" width="1.05" height="33.85" fill="#5c5c5c"/>
<rect x="203" width="1.05" height="33.85" fill="#525252"/>
<rect x="204" width="1.05" height="33.85" fill="#4e4e4e"/>
<rect x="205" width="1.05" height="33.85" fill="#404040"/>
<rect x="206" width="1.05" height="33.85" fill="#434343"/>
<rect x="207" width="1.05" height="33.85" fill="#393939"/>
<rect x="208" width="1.05" height="33.85" fill="#3c3c3c"/>
<rect x="209" width="1.05" height="33.85" fill="#2f2f2f"/>
<rect x="210" width="1.05" height="33.85" fill="#404040"/>
<rect x="211" width="1.05" height="33.85" fill="#3f3f3f"/>
<rect x="212" width="1.05" height="33.85" fill="#393939"/>
<rect x="213" width="1.05" height="33.85" fill="#3e3e3e"/>
<rect x="214" width="1.05" height="33.85" fill="#434343"/>
<rect x="215" width="1.05" height="33.85" fill="#464646"/>
<rect x="216" width="1.05" height="33.85" fill="#a4a4a4"/>
<rect x="217" width="1.05" height="33.85" fill="#b0b0b0"/>
<rect x="218" width="1.05" height="33.85" fill="#9d9d9d"/>
<rect x="219" width="1.05" height="33.85" fill="#c4c4c4"/>
<rect x="220" width="1.05" height="33.85" fill="#c6c6c6"/>
<rect x="221" width="1.05" height="33.85" fill="#d8d8d8"/>
<rect x="222" width="1.05" height="33.85" fill="#b9b9b9"/>
<rect x="223" width="1.05" height="33.85" fill="#b3b3b3"/>
<rect x="224" width="1.05" height="33.85" fill="#adadad"/>
<rect x="225" width="1.05" height="33.85" fill="#bcbcbc"/>
<rect x="226" width="1.05" height="33.85" fill="#bebebe"/>
<rect x="227" width="1.05" height="33.85" fill="#bbbbbb"/>
<rect x="228" width="1.05" height="33.85" fill="#a3a3a3"/>
<rect x="229" width="1.05" height="33.85" fill="#a1a1a1"/>
<rect x="230" width="1.05" height="33.85" fill="#a9a9a9"/>
<rect x="231" width="1.05" height="33.85" fill="#b2b2b2"/>
<rect x="232" width="1.05" height="33.85" fill="#afafaf"/>
<rect x="233" width="1.05" height="33.85" fill="#cbcbcb"/>
<rect x="234" width="1.05" height="33.85" fill="#c4c4c4"/>
<rect x="235" width="1.05" height="33.85" fill="#d3d3d3"/>
<rect x="236" width="1.05" height="33.85" fill="#c5c5c5"/>
<rect x="237" width="1.05" height="33.85" fill="#d1d1d1"/>
<rect x="238" width="1.05" height="33.85" fill="#d4d4d4"/>
<rect x="239" width="1.05" height="33.85" fill="#c6c6c6"/>
<rect x="240" width="1.05" height="33.85" fill="#c9c9c9"/>
<rect x="241" width="1.05" height="33.85" fill="#d4d4d4"/>
<rect x="242" width="1.05" height="33.85" fill="#a3a3a3"/>
<rect x="243" width="1.05" height="33.85" fill="#9b9b9b"/>
<rect x="244" width="1.05" height="33.85" fill="#8f8f8f"/>
<rect x="245" width="1.05" height="33.85" fill="#858585"/>
<rect x="246" width="1.05" height="33.85" fill="#848484"/>
<rect x="247" width="1.05" height="33.85" fill="#838383"/>
<rect x="248" width="1.05" height="33.85" fill="#787878"/>
<rect x="249" width="1.05" height="33.85" fill="#787878"/>
<rect x="250" width="1.05" height="33.85" fill="#7e7e7e"/>
<rect x="251" width="1.05" height="33.85" fill="#7d7d7d"/>
<rect x="252" width="1.05" height="33.85" fill="#777777"/>
<rect x="253" width="1.05" height="33.85" fill="#737373"/>
<rect x="254" width="1.05" height="33.85" fill="#696969"/>
<rect x="255" width="1.05" height="33.85" fill="#717171"/>
<rect x="256" width="1.05" height="33.85" fill="#696969"/>
<rect x="257" width="1.05" height="33.85" fill="#757575"/>
<rect x="258" width="1.05" height="33.85" fill="#6a6a6a"/>
<rect x="259" width="1.05" height="33.85" fill="#6f6f6f"/>
<rect x="260" width="1.05" height="33.85" fill="#6c6c6c"/>
<rect x="261" width="1.05" height="33.85" fill="#6f6f6f"/>
<rect x="262" width="1.05" height="33.85" fill="#5d5d5d"/>
<rect x="263" width="1.05" height="33.85" fill="#707070"/>
<rect x="264" width="1.05" height="33.85" fill="#696969"/>
<rect x="265" width="1.05" height="33.85" fill="#666666"/>
<rect x="266" width="1.05" height="33.85" fill="#595959"/>
<rect x="267" width="1.05" height="33.85" fill="#5a5a5a"/>
<rect x="268" width="1.05" height="33.85" fill="#5a5a5a"/>
<rect x="269" width="1.05" height="33.85" fill="#575757"/>
<rect x="270" width="1.05" height="33.85" fill="#4e4e4e"/>
<rect x="271" width="1.05" height="33.85" fill="#585858"/>
<rect x="272" width="1.05" height="33.85" fill="#626262"/>
<rect x="273" width="1.05" height="33.85" fill="#555555"/>
<rect x="274" width="1.05" height="33.85" fill="#595959"/>
<rect x="275" width="1.05" height="33.85" fill="#555555"/>
<rect x="276" width="1.05" height="33.85" fill="#4a4a4a"/>
<rect x="277" width="1.05" height="33.85" fill="#3c3c3c"/>
<rect x="278" width="1.05" height="33.85" fill="#444444"/>
<rect x="279" width="1.05" height="33.85" fill="#383838"/>
<rect x="280" width="1.05" height="33.85" fill="#3d3d3d"/>
<rect x="281" width="1.05" height="33.85" fill="#383838"/>
<rect x="282" width="1.05" height="33.85" fill="#3d3d3d"/>
<rect x="283" width="1.05" height="33.85" fill="#404040"/>
<rect x="284" width="1.05" height="33.85" fill="#343434"/>
<rect x="285" width="1.05" height="33.85" fill="#3b3b3b"/>
<rect x="286" width="1.05" height="33.85" fill="#424242"/>
<rect x="287" width="1.05" height="33.85" fill="#454545"/>
<rect x="288" width="1.05" height="33.85" fill="#9d9d9d"/>
<rect x="289" width="1.05" height="33.85" fill="#b2b2b2"/>
<rect x="290" width="1.05" height="33.85" fill="#a2a2a2"/>
<rect x="291" width="1.05" height="33.85" fill="#c7c7c7"/>
<rect x="292" width="1.05" height="33.85" fill="#c6c6c6"/>
<rect x="293" width="1.05" height="33.85" fill="#d0d0d0"/>
<rect x="294" width="1.05" height="33.85" fill="#b9b9b9"/>
<rect x="295" width="1.05" height="33.85" fill="#b5b5b5"/>
<rect x="296" width="1.05" height="33.85" fill="#acacac"/>
<rect x="297" width="1.05" height="33.85" fill="#c1c1c1"/>
<rect x="298" width="1.05" height="33.85" fill="#bcbcbc"/>
<rect x="299" width="1.05" height="33.85" fill="#b7b7b7"/>
<rect x="300" width="1.05" height="33.85" fill="#a2a2a2"/>
<rect x="301" width="1.05" height="33.85" fill="#a6a6a6"/>
<rect x="302" width="1.05" height="33.85" fill="#aeaeae"/>
<rect x="303" width="1.05" height="33.85" fill="#b2b2b2"/>
<rect x="304" width="1.05" height="33.85" fill="#b0b0b0"/>
<rect x="305" width="1.05" height="33.85" fill="#cecece"/>
<rect x="306" width="1.05" height="33.85" fill="#c3c3c3"/>
<rect x="307" width="1.05" height="33.85" fill="#cfcfcf"/>
<rect x="308" width="1.05" height="33.85" fill="#c7c7c7"/>
<rect x="309" width="1.05" height="33.85" fill="#d0d0d0"/>
<rect x="310" width="1.05" height="33.85" fill="#d6d6d6"/>
<rect x="311" width="1.05" height="33.85" fill="#d2d2d2"/>
<rect x="312" width="1.05" height="33.85" fill="#cbcbcb"/>
<rect x="313" width="1.05" height="33.85" fill="#d2d2d2"/>
<rect x="314" width="1.05" height="33.85" fill="#a0a0a0"/>
<rect x="315" width="1.05" height="33.85" fill="#9b9b9b"/>
<rect x="316" width="1.05" height="33.85" fill="#949494"/>
<rect x="317" width="1.05" height="33.85" fill="#858585"/>
<rect x="318" width="1.05" height="33.85" fill="#858585"/>
<rect x="319" width="1.05" height="33.85" fill="#868686"/>
<rect x="320" width="1.05" height="33.85" fill="#818181"/>
<rect x="321" width="1.05" height="33.85" fill="#7b7b7b"/>
<rect x="322" width="1.05" height="33.85" fill="#7d7d7d"/>
<rect x="323" width="1.05" height="33.85" fill="#8b8b8b"/>
<rect x="324" width="1.05" height="33.85" fill="#767676"/>
<rect x="325" width="1.05" height="33.85" fill="#737373"/>
<rect x="326" width="1.05" height="33.85" fill="#6b6b6b"/>
<rect x="327" width="1.05" height="33.85" fill="#767676"/>
<rect x="328" width="1.05" height="33.85" fill="#696969"/>
<rect x="329" width="1.05" height="33.85" fill="#717171"/>
<rect x="330" width="1.05" height="33.85" fill="#6d6d6d"/>
<rect x="331" width="1.05" height="33.85" fill="#717171"/>
<rect x="332" width="1.05" height="33.85" fill="#696969"/>
<rect x="333" width="1.05" height="33.85" fill="#6a6a6a"/>
<rect x="334" width="1.05" height="33.85" fill="#616161"/>
<rect x="335" width="1.05" height="33.85" fill="#6d6d6d"/>
<rect x="336" width="1.05" height="33.85" fill="#6e6e6e"/>
<rect x="337" width="1.05" height="33.85" fill="#656565"/>
<rect x="338" width="1.05" height="33.85" fill="#5a5a5a"/>
<rect x="339" width="1.05" height="33.85" fill="#555555"/>
<rect x="340" width="1.05" height="33.85" fill="#5b5b5b"/>
<rect x="341" width="1.05" height="33.85" fill="#545454"/>
<rect x="342" width="1.05" height="33.85" fill="#505050"/>
<rect x="343" width="1.05" height="33.85" fill="#545454"/>
<rect x="344" width="1.05" height="33.85" fill="#5e5e5e"/>
<rect x="345" width="1.05" height="33.85" fill="#575757"/>
<rect x="346" width="1.05" height="33.85" fill="#575757"/>
<rect x="347" width="1.05" height="33.85" fill="#535353"/>
<rect x="348" width="1.05" height="33.85" fill="#4b4b4b"/>
<rect x="349" width="1.05" height="33.85" fill="#414141"/>
<rect x="350" width="1.05" height="33.85" fill="#444444"/>
<rect x="351" width="1.05" height="33.85" fill="#393939"/>
<rect x="352" width="1.05" height="33.85" fill="#383838"/>
<rect x="353" width="1.05" height="33.85" fill="#2e2e2e"/>
<rect x="354" width="1.05" height="33.85" fill="#3b3b3b"/>
<rect x="355" width="1.05" height="33.85" fill="#4a4a4a"/>
<rect x="356" width="1.05" height="33.85" fill="#373737"/>
<rect x="357" width="1.05" height="33.85" fill="#3b3b3b"/>
<rect x="358" width="1.05" height="33.85" fill="#454545"/>
<rect x="359" width="1.05" height="33.85" fill="#444444"/>
</g>
<rect x="0" y="0" width="360.5" height="1" fill="#fff" opacity="0.023"/>
<rect x="0" y="2" width="360.5" height="1" fill="#000" opacity="0.027"/>
<rect x="0" y="3" width="360.5" height="1" fill="#fff" opacity="0.033"/>
<rect x="0" y="4" width="360.5" height="1" fill="#fff" opacity="0.025"/>
<rect x="0" y="5" width="360.5" height="1" fill="#000" opacity="0.037"/>
<rect x="0" y="6" width="360.5" height="1" fill="#000" opacity="0.013"/>
<rect x="0" y="7" width="360.5" height="1" fill="#000" opacity="0.040"/>
<rect x="0" y="8" width="360.5" height="1" fill="#000" opacity="0.046"/>
<rect x="0" y="9" width="360.5" height="1" fill="#fff" opacity="0.062"/>
<rect x="0" y="10" width="360.5" height="1" fill="#000" opacity="0.012"/>
<rect x="0" y="11" width="360.5" height="1" fill="#fff" opacity="0.023"/>
<rect x="0" y="14" width="360.5" height="1" fill="#000" opacity="0.037"/>
<rect x="0" y="15" width="360.5" height="1" fill="#000" opacity="0.035"/>
<rect x="0" y="16" width="360.5" height="1" fill="#fff" opacity="0.015"/>
<rect x="0" y="17" width="360.5" height="1" fill="#fff" opacity="0.040"/>
<rect x="0" y="18" width="360.5" height="1" fill="#000" opacity="0.064"/>
<rect x="0" y="19" width="360.5" height="1" fill="#000" opacity="0.033"/>
<rect x="0" y="21" width="360.5" height="1" fill="#fff" opacity="0.037"/>
<rect x="0" y="22" width="360.5" height="1" fill="#fff" opacity="0.019"/>
<rect x="0" y="23" width="360.5" height="1" fill="#fff" opacity="0.028"/>
<rect x="0" y="25" width="360.5" height="1" fill="#000" opacity="0.033"/>
<rect x="0" y="27" width="360.5" height="1" fill="#fff" opacity="0.044"/>
<rect x="0" y="29" width="360.5" height="1" fill="#000" opacity="0.043"/>
<rect x="0" y="30" width="360.5" height="1" fill="#fff" opacity="0.050"/>
<rect x="0" y="31" width="360.5" height="1" fill="#fff" opacity="0.016"/>
<rect x="0" y="32" width="360.5" height="1" fill="#fff" opacity="0.026"/>
<rect x="0" y="33" width="360.5" height="1" fill="#fff" opacity="0.069"/>
<rect x="0" y="34" width="360.5" height="1" fill="#000" opacity="0.019"/>
<rect x="0" y="35" width="360.5" height="1" fill="#000" opacity="0.024"/>
<rect x="0" y="36" width="360.5" height="1" fill="#000" opacity="0.088"/>
<rect x="0" y="38" width="360.5" height="1" fill="#fff" opacity="0.021"/>
<rect x="0" y="41" width="360.5" height="1" fill="#fff" opacity="0.033"/>
<rect x="0" y="42" width="360.5" height="1" fill="#fff" opacity="0.015"/>
<rect x="0" y="43" width="360.5" height="1" fill="#fff" opacity="0.014"/>
<rect x="0" y="46" width="360.5" height="1" fill="#fff" opacity="0.036"/>
<rect x="0" y="48" width="360.5" height="1" fill="#000" opacity="0.015"/>
<rect x="0" y="49" width="360.5" height="1" fill="#000" opacity="0.019"/>
<rect x="0" y="52" width="360.5" height="1" fill="#fff" opacity="0.018"/>
<rect x="0" y="55" width="360.5" height="1" fill="#000" opacity="0.057"/>
<rect x="0" y="56" width="360.5" height="1" fill="#fff" opacity="0.022"/>
<rect x="0" y="57" width="360.5" height="1" fill="#000" opacity="0.035"/>
<rect x="0" y="59" width="360.5" height="1" fill="#fff" opacity="0.042"/>
<rect x="0" y="61" width="360.5" height="1" fill="#000" opacity="0.028"/>
<rect x="0" y="62" width="360.5" height="1" fill="#fff" opacity="0.025"/>
<rect x="0" y="64" width="360.5" height="1" fill="#000" opacity="0.017"/>
<rect x="0" y="65" width="360.5" height="1" fill="#fff" opacity="0.044"/>
<rect x="0" y="66" width="360.5" height="1" fill="#fff" opacity="0.024"/>
<rect x="0" y="67" width="360.5" height="1" fill="#fff" opacity="0.090"/>
<rect x="0" y="68" width="360.5" height="1" fill="#000" opacity="0.038"/>
<rect x="0" y="70" width="360.5" height="1" fill="#fff" opacity="0.015"/>
<rect x="0" y="71" width="360.5" height="1" fill="#fff" opacity="0.046"/>
<rect x="0" y="73" width="360.5" height="1" fill="#fff" opacity="0.056"/>
<rect x="0" y="75" width="360.5" height="1" fill="#000" opacity="0.025"/>
<rect x="0" y="79" width="360.5" height="1" fill="#000" opacity="0.020"/>
<rect x="0" y="81" width="360.5" height="1" fill="#fff" opacity="0.035"/>
<rect x="0" y="82" width="360.5" height="1" fill="#fff" opacity="0.032"/>
<rect x="0" y="83" width="360.5" height="1" fill="#fff" opacity="0.068"/>
<rect x="0" y="84" width="360.5" height="1" fill="#000" opacity="0.028"/>
<rect x="0" y="85" width="360.5" height="1" fill="#000" opacity="0.035"/>
<rect x="0" y="86" width="360.5" height="1" fill="#fff" opacity="0.075"/>
<rect x="0" y="87" width="360.5" height="1" fill="#fff" opacity="0.015"/>
<rect x="0" y="88" width="360.5" height="1" fill="#fff" opacity="0.015"/>
<rect x="0" y="89" width="360.5" height="1" fill="#000" opacity="0.029"/>
<rect x="0" y="90" width="360.5" height="1" fill="#fff" opacity="0.015"/>
<rect x="0" y="93" width="360.5" height="1" fill="#fff" opacity="0.043"/>
<rect x="0" y="94" width="360.5" height="1" fill="#000" opacity="0.027"/>
<rect x="0" y="96" width="360.5" height="1" fill="#000" opacity="0.060"/>
<rect x="0" y="97" width="360.5" height="1" fill="#fff" opacity="0.016"/>
<rect x="0" y="98" width="360.5" height="1" fill="#000" opacity="0.038"/>
<rect x="0" y="99" width="360.5" height="1" fill="#fff" opacity="0.064"/>
<rect x="0" y="100" width="360.5" height="1" fill="#000" opacity="0.047"/>
<rect x="0" y="101" width="360.5" height="1" fill="#fff" opacity="0.057"/>
<rect x="0" y="102" width="360.5" height="1" fill="#000" opacity="0.029"/>
<rect x="0" y="103" width="360.5" height="1" fill="#000" opacity="0.056"/>
<rect x="0" y="106" width="360.5" height="1" fill="#000" opacity="0.033"/>
<rect x="0" y="107" width="360.5" height="1" fill="#000" opacity="0.044"/>
<rect x="0" y="108" width="360.5" height="1" fill="#000" opacity="0.084"/>
<rect x="0" y="110" width="360.5" height="1" fill="#fff" opacity="0.012"/>
<rect x="0" y="111" width="360.5" height="1" fill="#000" opacity="0.071"/>
<rect x="0" y="113" width="360.5" height="1" fill="#fff" opacity="0.056"/>
<rect x="0" y="114" width="360.5" height="1" fill="#000" opacity="0.062"/>
<rect x="0" y="115" width="360.5" height="1" fill="#fff" opacity="0.020"/>
<rect x="0" y="116" width="360.5" height="1" fill="#fff" opacity="0.019"/>
<rect x="0" y="117" width="360.5" height="1" fill="#000" opacity="0.022"/>
<rect x="0" y="119" width="360.5" height="1" fill="#000" opacity="0.039"/>
<rect x="0" y="120" width="360.5" height="1" fill="#fff" opacity="0.016"/>
<rect x="0" y="121" width="360.5" height="1" fill="#fff" opacity="0.057"/>
<rect x="0" y="123" width="360.5" height="1" fill="#000" opacity="0.022"/>
<rect x="0" y="124" width="360.5" height="1" fill="#000" opacity="0.071"/>
<rect x="0" y="125" width="360.5" height="1" fill="#fff" opacity="0.065"/>
<rect x="0" y="126" width="360.5" height="1" fill="#fff" opacity="0.066"/>
<rect x="0" y="127" width="360.5" height="1" fill="#000" opacity="0.018"/>
<rect x="0" y="130" width="360.5" height="1" fill="#fff" opacity="0.048"/>
<rect x="0" y="131" width="360.5" height="1" fill="#000" opacity="0.055"/>
<rect x="0" y="132" width="360.5" height="1" fill="#fff" opacity="0.024"/>
<rect x="0" y="133" width="360.5" height="1" fill="#000" opacity="0.079"/>
<rect x="0" y="134" width="360.5" height="1" fill="#fff" opacity="0.023"/>
<rect x="0" y="135" width="360.5" height="1" fill="#000" opacity="0.026"/>
<rect x="0" y="136" width="360.5" height="1" fill="#fff" opacity="0.046"/>
<rect x="0" y="137" width="360.5" height="1" fill="#fff" opacity="0.019"/>
<rect x="0" y="138" width="360.5" height="1" fill="#000" opacity="0.021"/>
<rect x="0" y="139" width="360.5" height="1" fill="#000" opacity="0.026"/>
<rect x="0" y="140" width="360.5" height="1" fill="#000" opacity="0.042"/>
<rect x="0" y="141" width="360.5" height="1" fill="#fff" opacity="0.059"/>
<rect x="0" y="142" width="360.5" height="1" fill="#fff" opacity="0.037"/>
<rect x="0" y="143" width="360.5" height="1" fill="#000" opacity="0.021"/>
<rect x="0" y="144" width="360.5" height="1" fill="#000" opacity="0.047"/>
<rect x="0" y="145" width="360.5" height="1" fill="#fff" opacity="0.017"/>
<rect x="0" y="147" width="360.5" height="1" fill="#000" opacity="0.017"/>
<rect x="0" y="149" width="360.5" height="1" fill="#fff" opacity="0.023"/>
<rect x="0" y="151" width="360.5" height="1" fill="#fff" opacity="0.022"/>
<rect x="0" y="154" width="360.5" height="1" fill="#000" opacity="0.019"/>
<rect x="0" y="155" width="360.5" height="1" fill="#fff" opacity="0.028"/>
<rect x="0" y="161" width="360.5" height="1" fill="#fff" opacity="0.018"/>
<rect x="0" y="162" width="360.5" height="1" fill="#fff" opacity="0.031"/>
<rect x="0" y="163" width="360.5" height="1" fill="#000" opacity="0.057"/>
<rect x="0" y="166" width="360.5" height="1" fill="#000" opacity="0.039"/>
<rect x="0" y="167" width="360.5" height="1" fill="#fff" opacity="0.015"/>
<rect x="0" y="169" width="360.5" height="1" fill="#000" opacity="0.019"/>
<rect x="0" y="170" width="360.5" height="1" fill="#000" opacity="0.062"/>
<rect x="0" y="171" width="360.5" height="1" fill="#000" opacity="0.051"/>
<rect x="0" y="173" width="360.5" height="1" fill="#fff" opacity="0.063"/>
<rect x="0" y="174" width="360.5" height="1" fill="#000" opacity="0.015"/>
<rect x="0" y="175" width="360.5" height="1" fill="#000" opacity="0.073"/>
<rect x="0" y="176" width="360.5" height="1" fill="#fff" opacity="0.043"/>
<rect x="0" y="178" width="360.5" height="1" fill="#fff" opacity="0.041"/>
<rect x="0" y="179" width="360.5" height="1" fill="#000" opacity="0.022"/>
<rect x="0" y="180" width="360.5" height="1" fill="#fff" opacity="0.030"/>
<rect x="0" y="181" width="360.5" height="1" fill="#fff" opacity="0.012"/>
<rect x="0" y="182" width="360.5" height="1" fill="#000" opacity="0.044"/>
<rect x="0" y="183" width="360.5" height="1" fill="#000" opacity="0.012"/>
<rect x="0" y="185" width="360.5" height="1" fill="#000" opacity="0.031"/>
<rect x="0" y="186" width="360.5" height="1" fill="#fff" opacity="0.042"/>
<rect x="0" y="187" width="360.5" height="1" fill="#000" opacity="0.014"/>
<rect x="0" y="188" width="360.5" height="1" fill="#fff" opacity="0.031"/>
<rect x="0" y="190" width="360.5" height="1" fill="#fff" opacity="0.023"/>
<rect x="0" y="191" width="360.5" height="1" fill="#fff" opacity="0.020"/>
<rect x="0" y="192" width="360.5" height="1" fill="#000" opacity="0.067"/>
<rect x="0" y="194" width="360.5" height="1" fill="#fff" opacity="0.026"/>
<rect x="0" y="196" width="360.5" height="1" fill="#fff" opacity="0.053"/>
<rect x="0" y="197" width="360.5" height="1" fill="#fff" opacity="0.046"/>
<rect x="0" y="198" width="360.5" height="1" fill="#000" opacity="0.027"/>
<rect x="0" y="200" width="360.5" height="1" fill="#fff" opacity="0.020"/>
<rect x="0" y="201" width="360.5" height="1" fill="#000" opacity="0.023"/>
<rect x="0" y="202" width="360.5" height="1" fill="#fff" opacity="0.059"/>
<rect x="0" y="203" width="360.5" height="1" fill="#fff" opacity="0.029"/>
<rect x="0" y="205" width="360.5" height="1" fill="#000" opacity="0.027"/>
<rect x="0" y="206" width="360.5" height="1" fill="#000" opacity="0.029"/>
<rect x="0" y="207" width="360.5" height="1" fill="#000" opacity="0.025"/>
<rect x="0" y="208" width="360.5" height="1" fill="#fff" opacity="0.028"/>
<rect x="0" y="209" width="360.5" height="1" fill="#000" opacity="0.030"/>
<rect x="0" y="210" width="360.5" height="1" fill="#fff" opacity="0.032"/>
<rect x="0" y="211" width="360.5" height="1" fill="#fff" opacity="0.082"/>
<rect x="0" y="212" width="360.5" height="1" fill="#000" opacity="0.046"/>
<rect x="0" y="213" width="360.5" height="1" fill="#000" opacity="0.022"/>
<rect x="0" y="214" width="360.5" height="1" fill="#fff" opacity="0.040"/>
<rect x="0" y="216" width="360.5" height="1" fill="#000" opacity="0.030"/>
<rect x="0" y="219" width="360.5" height="1" fill="#fff" opacity="0.026"/>
<rect x="0" y="220" width="360.5" height="1" fill="#000" opacity="0.030"/>
<rect x="0" y="223" width="360.5" height="1" fill="#fff" opacity="0.013"/>
<rect x="0" y="225" width="360.5" height="1" fill="#000" opacity="0.051"/>
<rect x="0" y="226" width="360.5" height="1" fill="#000" opacity="0.046"/>
<rect x="0" y="227" width="360.5" height="1" fill="#fff" opacity="0.043"/>
<rect x="0" y="228" width="360.5" height="1" fill="#000" opacity="0.017"/>
<rect x="0" y="231" width="360.5" height="1" fill="#fff" opacity="0.014"/>
<rect x="0" y="232" width="360.5" height="1" fill="#fff" opacity="0.048"/>
<rect x="0" y="234" width="360.5" height="1" fill="#fff" opacity="0.028"/>
<rect x="0" y="235" width="360.5" height="1" fill="#fff" opacity="0.019"/>
<rect x="0" y="237" width="360.5" height="1" fill="#000" opacity="0.038"/>
<rect x="0" y="238" width="360.5" height="1" fill="#000" opacity="0.015"/>
<rect x="0" y="239" width="360.5" height="1" fill="#fff" opacity="0.033"/>
<rect x="0" y="243" width="360.5" height="1" fill="#000" opacity="0.042"/>
<rect x="0" y="244" width="360.5" height="1" fill="#000" opacity="0.028"/>
<rect x="0" y="246" width="360.5" height="1" fill="#000" opacity="0.031"/>
<rect x="0" y="247" width="360.5" height="1" fill="#000" opacity="0.044"/>
<rect x="0" y="248" width="360.5" height="1" fill="#fff" opacity="0.026"/>
<rect x="0" y="249" width="360.5" height="1" fill="#fff" opacity="0.029"/>
<rect x="0" y="251" width="360.5" height="1" fill="#000" opacity="0.035"/>
<rect x="0" y="252" width="360.5" height="1" fill="#fff" opacity="0.035"/>
<rect x="0" y="253" width="360.5" height="1" fill="#fff" opacity="0.015"/>
<rect x="0" y="254" width="360.5" height="1" fill="#000" opacity="0.055"/>
<rect x="0" y="255" width="360.5" height="1" fill="#000" opacity="0.033"/>
<rect x="0" y="256" width="360.5" height="1" fill="#000" opacity="0.051"/>
<rect x="0" y="257" width="360.5" height="1" fill="#000" opacity="0.072"/>
<rect x="0" y="258" width="360.5" height="1" fill="#fff" opacity="0.044"/>
<rect x="0" y="259" width="360.5" height="1" fill="#fff" opacity="0.050"/>
<rect x="0" y="260" width="360.5" height="1" fill="#000" opacity="0.075"/>
<rect x="0" y="261" width="360.5" height="1" fill="#fff" opacity="0.018"/>
<rect x="0" y="264" width="360.5" height="1" fill="#fff" opacity="0.027"/>
<rect x="0" y="265" width="360.5" height="1" fill="#fff" opacity="0.028"/>
<rect x="0" y="267" width="360.5" height="1" fill="#000" opacity="0.022"/>
<rect x="0" y="268" width="360.5" height="1" fill="#fff" opacity="0.020"/>
<rect x="0" y="269" width="360.5" height="1" fill="#fff" opacity="0.059"/>
<rect x="0" y="270" width="360.5" height="1" fill="#000" opacity="0.047"/>
<rect x="0" y="271" width="360.5" height="1" fill="#000" opacity="0.029"/>
<rect x="0" y="273" width="360.5" height="1" fill="#000" opacity="0.033"/>
<rect x="0" y="274" width="360.5" height="1" fill="#000" opacity="0.017"/>
<rect x="0" y="275" width="360.5" height="1" fill="#fff" opacity="0.029"/>
<rect x="0" y="279" width="360.5" height="1" fill="#000" opacity="0.029"/>
<rect x="0" y="280" width="360.5" height="1" fill="#fff" opacity="0.023"/>
<rect x="0" y="281" width="360.5" height="1" fill="#000" opacity="0.021"/>
<rect x="0" y="282" width="360.5" height="1" fill="#000" opacity="0.041"/>
<rect x="0" y="283" width="360.5" height="1" fill="#000" opacity="0.022"/>
<rect x="0" y="285" width="360.5" height="1" fill="#fff" opacity="0.048"/>
<rect x="0" y="287" width="360.5" height="1" fill="#000" opacity="0.018"/>
<rect x="0" y="288" width="360.5" height="1" fill="#fff" opacity="0.071"/>
<rect x="0" y="290" width="360.5" height="1" fill="#fff" opacity="0.042"/>
<rect x="0" y="291" width="360.5" height="1" fill="#fff" opacity="0.013"/>
<rect x="0" y="292" width="360.5" height="1" fill="#fff" opacity="0.020"/>
<rect x="0" y="293" width="360.5" height="1" fill="#000" opacity="0.043"/>
<rect x="0" y="295" width="360.5" height="1" fill="#000" opacity="0.021"/>
<rect x="0" y="296" width="360.5" height="1" fill="#000" opacity="0.043"/>
<rect x="0" y="300" width="360.5" height="1" fill="#fff" opacity="0.030"/>
<rect x="0" y="301" width="360.5" height="1" fill="#000" opacity="0.082"/>
<rect x="0" y="303" width="360.5" height="1" fill="#000" opacity="0.060"/>
<rect x="0" y="304" width="360.5" height="1" fill="#000" opacity="0.065"/>
<rect x="0" y="306" width="360.5" height="1" fill="#000" opacity="0.023"/>
<rect x="0" y="307" width="360.5" height="1" fill="#000" opacity="0.086"/>
<rect x="0" y="310" width="360.5" height="1" fill="#fff" opacity="0.035"/>
<rect x="0" y="311" width="360.5" height="1" fill="#fff" opacity="0.028"/>
<rect x="0" y="313" width="360.5" height="1" fill="#000" opacity="0.061"/>
<rect x="0" y="314" width="360.5" height="1" fill="#000" opacity="0.014"/>
<rect x="0" y="316" width="360.5" height="1" fill="#fff" opacity="0.016"/>
<rect x="0" y="317" width="360.5" height="1" fill="#fff" opacity="0.026"/>
<rect x="0" y="320" width="360.5" height="1" fill="#000" opacity="0.024"/>
<rect x="0" y="321" width="360.5" height="1" fill="#000" opacity="0.017"/>
<rect x="0" y="322" width="360.5" height="1" fill="#fff" opacity="0.014"/>
<rect x="0" y="323" width="360.5" height="1" fill="#fff" opacity="0.027"/>
<rect x="0" y="324" width="360.5" height="1" fill="#000" opacity="0.046"/>
<rect x="0" y="325" width="360.5" height="1" fill="#000" opacity="0.020"/>
<rect x="0" y="327" width="360.5" height="1" fill="#fff" opacity="0.018"/>
<rect x="0" y="329" width="360.5" height="1" fill="#fff" opacity="0.082"/>
<rect x="0" y="331" width="360.5" height="1" fill="#000" opacity="0.027"/>
<rect x="0" y="333" width="360.5" height="1" fill="#000" opacity="0.020"/>
<rect x="0" y="336" width="360.5" height="1" fill="#fff" opacity="0.049"/>
<rect x="0" y="337" width="360.5" height="1" fill="#fff" opacity="0.046"/>
<rect x="30.0" y="79.70" width="42.0" height="1.00" fill="#fff" opacity="0.09"/>
<rect x="0.0" y="79.70" width="30.0" height="1.00" fill="#fff" opacity="0.04"/>
<rect x="102.0" y="79.70" width="42.0" height="1.00" fill="#fff" opacity="0.09"/>
<rect x="72.0" y="79.70" width="30.0" height="1.00" fill="#fff" opacity="0.04"/>
<rect x="174.0" y="79.70" width="42.0" height="1.00" fill="#fff" opacity="0.09"/>
<rect x="144.0" y="79.70" width="30.0" height="1.00" fill="#fff" opacity="0.04"/>
<rect x="246.0" y="79.70" width="42.0" height="1.00" fill="#fff" opacity="0.09"/>
<rect x="216.0" y="79.70" width="30.0" height="1.00" fill="#fff" opacity="0.04"/>
<rect x="318.0" y="79.70" width="42.0" height="1.00" fill="#fff" opacity="0.09"/>
<rect x="288.0" y="79.70" width="30.0" height="1.00" fill="#fff" opacity="0.04"/>
<rect x="30.0" y="85.00" width="42.0" height="1.00" fill="#fff" opacity="0.08"/>
<rect x="0.0" y="85.00" width="30.0" height="1.00" fill="#fff" opacity="0.03"/>
<rect x="102.0" y="85.00" width="42.0" height="1.00" fill="#fff" opacity="0.08"/>
<rect x="72.0" y="85.00" width="30.0" height="1.00" fill="#fff" opacity="0.03"/>
<rect x="174.0" y="85.00" width="42.0" height="1.00" fill="#fff" opacity="0.08"/>
<rect x="144.0" y="85.00" width="30.0" height="1.00" fill="#fff" opacity="0.03"/>
<rect x="246.0" y="85.00" width="42.0" height="1.00" fill="#fff" opacity="0.08"/>
<rect x="216.0" y="85.00" width="30.0" height="1.00" fill="#fff" opacity="0.03"/>
<rect x="318.0" y="85.00" width="42.0" height="1.00" fill="#fff" opacity="0.08"/>
<rect x="288.0" y="85.00" width="30.0" height="1.00" fill="#fff" opacity="0.03"/>
<rect x="30.0" y="86.30" width="42.0" height="1.00" fill="#fff" opacity="0.10"/>
<rect x="0.0" y="86.30" width="30.0" height="1.00" fill="#fff" opacity="0.04"/>
<rect x="102.0" y="86.30" width="42.0" height="1.00" fill="#fff" opacity="0.10"/>
<rect x="72.0" y="86.30" width="30.0" height="1.00" fill="#fff" opacity="0.04"/>
<rect x="174.0" y="86.30" width="42.0" height="1.00" fill="#fff" opacity="0.10"/>
<rect x="144.0" y="86.30" width="30.0" height="1.00" fill="#fff" opacity="0.04"/>
<rect x="246.0" y="86.30" width="42.0" height="1.00" fill="#fff" opacity="0.10"/>
<rect x="216.0" y="86.30" width="30.0" height="1.00" fill="#fff" opacity="0.04"/>
<rect x="318.0" y="86.30" width="42.0" height="1.00" fill="#fff" opacity="0.10"/>
<rect x="288.0" y="86.30" width="30.0" height="1.00" fill="#fff" opacity="0.04"/>
<rect x="30.0" y="90.20" width="42.0" height="1.00" fill="#fff" opacity="0.12"/>
<rect x="0.0" y="90.20" width="30.0" height="1.00" fill="#fff" opacity="0.05"/>
<rect x="102.0" y="90.20" width="42.0" height="1.00" fill="#fff" opacity="0.12"/>
<rect x="72.0" y="90.20" width="30.0" height="1.00" fill="#fff" opacity="0.05"/>
<rect x="174.0" y="90.20" width="42.0" height="1.00" fill="#fff" opacity="0.12"/>
<rect x="144.0" y="90.20" width="30.0" height="1.00" fill="#fff" opacity="0.05"/>
<rect x="246.0" y="90.20" width="42.0" height="1.00" fill="#fff" opacity="0.12"/>
<rect x="216.0" y="90.20" width="30.0" height="1.00" fill="#fff" opacity="0.05"/>
<rect x="318.0" y="90.20" width="42.0" height="1.00" fill="#fff" opacity="0.12"/>
<rect x="288.0" y="90.20" width="30.0" height="1.00" fill="#fff" opacity="0.05"/>
<rect x="30.0" y="92.80" width="42.0" height="1.00" fill="#fff" opacity="0.10"/>
<rect x="0.0" y="92.80" width="30.0" height="1.00" fill="#fff" opacity="0.04"/>
<rect x="102.0" y="92.80" width="42.0" height="1.00" fill="#fff" opacity="0.10"/>
<rect x="72.0" y="92.80" width="30.0" height="1.00" fill="#fff" opacity="0.04"/>
<rect x="174.0" y="92.80" width="42.0" height="1.00" fill="#fff" opacity="0.10"/>
<rect x="144.0" y="92.80" width="30.0" height="1.00" fill="#fff" opacity="0.04"/>
<rect x="246.0" y="92.80" width="42.0" height="1.00" fill="#fff" opacity="0.10"/>
<rect x="216.0" y="92.80" width="30.0" height="1.00" fill="#fff" opacity="0.04"/>
<rect x="318.0" y="92.80" width="42.0" height="1.00" fill="#fff" opacity="0.10"/>
<rect x="288.0" y="92.80" width="30.0" height="1.00" fill="#fff" opacity="0.04"/>
<rect x="30.0" y="95.40" width="42.0" height="1.00" fill="#fff" opacity="0.10"/>
<rect x="0.0" y="95.40" width="30.0" height="1.00" fill="#fff" opacity="0.04"/>
<rect x="102.0" y="95.40" width="42.0" height="1.00" fill="#fff" opacity="0.10"/>
<rect x="72.0" y="95.40" width="30.0" height="1.00" fill="#fff" opacity="0.04"/>
<rect x="174.0" y="95.40" width="42.0" height="1.00" fill="#fff" opacity="0.10"/>
<rect x="144.0" y="95.40" width="30.0" height="1.00" fill="#fff" opacity="0.04"/>
<rect x="246.0" y="95.40" width="42.0" height="1.00" fill="#fff" opacity="0.10"/>
<rect x="216.0" y="95.40" width="30.0" height="1.00" fill="#fff" opacity="0.04"/>
<rect x="318.0" y="95.40" width="42.0" height="1.00" fill="#fff" opacity="0.10"/>
<rect x="288.0" y="95.40" width="30.0" height="1.00" fill="#fff" opacity="0.04"/>
<rect x="30.0" y="97.60" width="42.0" height="1.00" fill="#fff" opacity="0.08"/>
<rect x="0.0" y="97.60" width="30.0" height="1.00" fill="#fff" opacity="0.03"/>
<rect x="102.0" y="97.60" width="42.0" height="1.00" fill="#fff" opacity="0.08"/>
<rect x="72.0" y="97.60" width="30.0" height="1.00" fill="#fff" opacity="0.03"/>
<rect x="174.0" y="97.60" width="42.0" height="1.00" fill="#fff" opacity="0.08"/>
<rect x="144.0" y="97.60" width="30.0" height="1.00" fill="#fff" opacity="0.03"/>
<rect x="246.0" y="97.60" width="42.0" height="1.00" fill="#fff" opacity="0.08"/>
<rect x="216.0" y="97.60" width="30.0" height="1.00" fill="#fff" opacity="0.03"/>
<rect x="318.0" y="97.60" width="42.0" height="1.00" fill="#fff" opacity="0.08"/>
<rect x="288.0" y="97.60" width="30.0" height="1.00" fill="#fff" opacity="0.03"/>
<rect x="30.0" y="99.60" width="42.0" height="1.00" fill="#fff" opacity="0.10"/>
<rect x="0.0" y="99.60" width="30.0" height="1.00" fill="#fff" opacity="0.04"/>
<rect x="102.0" y="99.60" width="42.0" height="1.00" fill="#fff" opacity="0.10"/>
<rect x="72.0" y="99.60" width="30.0" height="1.00" fill="#fff" opacity="0.04"/>
<rect x="174.0" y="99.60" width="42.0" height="1.00" fill="#fff" opacity="0.10"/>
<rect x="144.0" y="99.60" width="30.0" height="1.00" fill="#fff" opacity="0.04"/>
<rect x="246.0" y="99.60" width="42.0" height="1.00" fill="#fff" opacity="0.10"/>
<rect x="216.0" y="99.60" width="30.0" height="1.00" fill="#fff" opacity="0.04"/>
<rect x="318.0" y="99.60" width="42.0" height="1.00" fill="#fff" opacity="0.10"/>
<rect x="288.0" y="99.60" width="30.0" height="1.00" fill="#fff" opacity="0.04"/>
<rect x="19.2" y="70.10" width="6.3" height="1.00" fill="#000" opacity="0.11"/>
<rect x="17.9" y="76.10" width="7.6" height="1.00" fill="#000" opacity="0.09"/>
<rect x="19.3" y="79.10" width="6.2" height="1.00" fill="#000" opacity="0.12"/>
<rect x="18.8" y="81.10" width="6.7" height="1.00" fill="#000" opacity="0.16"/>
<rect x="18.1" y="83.10" width="7.4" height="1.00" fill="#000" opacity="0.12"/>
<rect x="17.8" y="84.10" width="7.7" height="1.00" fill="#000" opacity="0.10"/>
<rect x="17.5" y="87.10" width="8.0" height="1.00" fill="#000" opacity="0.11"/>
<rect x="18.7" y="90.10" width="6.8" height="1.00" fill="#000" opacity="0.08"/>
<rect x="19.1" y="94.10" width="6.4" height="1.00" fill="#000" opacity="0.20"/>
<rect x="18.4" y="96.10" width="7.1" height="1.00" fill="#000" opacity="0.22"/>
<rect x="19.1" y="97.10" width="6.4" height="1.00" fill="#000" opacity="0.16"/>
<rect x="17.7" y="100.10" width="7.8" height="1.00" fill="#000" opacity="0.10"/>
<rect x="91.4" y="70.10" width="6.1" height="1.00" fill="#000" opacity="0.17"/>
<rect x="90.2" y="78.10" width="7.3" height="1.00" fill="#000" opacity="0.08"/>
<rect x="89.9" y="81.10" width="7.6" height="1.00" fill="#000" opacity="0.13"/>
<rect x="91.1" y="82.10" width="6.4" height="1.00" fill="#000" opacity="0.13"/>
<rect x="91.2" y="88.10" width="6.3" height="1.00" fill="#000" opacity="0.13"/>
<rect x="90.3" y="89.10" width="7.2" height="1.00" fill="#000" opacity="0.15"/>
<rect x="89.5" y="91.10" width="8.0" height="1.00" fill="#000" opacity="0.20"/>
<rect x="90.5" y="92.10" width="7.0" height="1.00" fill="#000" opacity="0.20"/>
<rect x="90.6" y="96.10" width="6.9" height="1.00" fill="#000" opacity="0.14"/>
<rect x="89.9" y="99.10" width="7.6" height="1.00" fill="#000" opacity="0.14"/>
<rect x="162.2" y="70.10" width="7.3" height="1.00" fill="#000" opacity="0.21"/>
<rect x="161.7" y="74.10" width="7.8" height="1.00" fill="#000" opacity="0.15"/>
<rect x="161.7" y="84.10" width="7.8" height="1.00" fill="#000" opacity="0.11"/>
<rect x="162.2" y="85.10" width="7.3" height="1.00" fill="#000" opacity="0.19"/>
<rect x="162.4" y="86.10" width="7.1" height="1.00" fill="#000" opacity="0.19"/>
<rect x="161.6" y="87.10" width="7.9" height="1.00" fill="#000" opacity="0.11"/>
<rect x="163.1" y="88.10" width="6.4" height="1.00" fill="#000" opacity="0.10"/>
<rect x="163.1" y="89.10" width="6.4" height="1.00" fill="#000" opacity="0.19"/>
<rect x="163.4" y="92.10" width="6.1" height="1.00" fill="#000" opacity="0.16"/>
<rect x="163.2" y="93.10" width="6.3" height="1.00" fill="#000" opacity="0.17"/>
<rect x="162.7" y="95.10" width="6.8" height="1.00" fill="#000" opacity="0.15"/>
<rect x="161.6" y="97.10" width="7.9" height="1.00" fill="#000" opacity="0.16"/>
<rect x="163.3" y="98.10" width="6.2" height="1.00" fill="#000" opacity="0.14"/>
<rect x="234.7" y="74.10" width="6.8" height="1.00" fill="#000" opacity="0.18"/>
<rect x="234.4" y="77.10" width="7.1" height="1.00" fill="#000" opacity="0.14"/>
<rect x="234.2" y="78.10" width="7.3" height="1.00" fill="#000" opacity="0.15"/>
<rect x="233.8" y="80.10" width="7.7" height="1.00" fill="#000" opacity="0.12"/>
<rect x="234.1" y="81.10" width="7.4" height="1.00" fill="#000" opacity="0.18"/>
<rect x="235.1" y="91.10" width="6.4" height="1.00" fill="#000" opacity="0.16"/>
<rect x="234.0" y="92.10" width="7.5" height="1.00" fill="#000" opacity="0.09"/>
<rect x="233.5" y="93.10" width="8.0" height="1.00" fill="#000" opacity="0.10"/>
<rect x="234.1" y="94.10" width="7.4" height="1.00" fill="#000" opacity="0.13"/>
<rect x="235.3" y="98.10" width="6.2" height="1.00" fill="#000" opacity="0.18"/>
<rect x="306.8" y="71.10" width="6.7" height="1.00" fill="#000" opacity="0.22"/>
<rect x="305.7" y="73.10" width="7.8" height="1.00" fill="#000" opacity="0.21"/>
<rect x="307.1" y="77.10" width="6.4" height="1.00" fill="#000" opacity="0.11"/>
<rect x="306.3" y="78.10" width="7.2" height="1.00" fill="#000" opacity="0.08"/>
<rect x="307.0" y="80.10" width="6.5" height="1.00" fill="#000" opacity="0.16"/>
<rect x="306.5" y="84.10" width="7.0" height="1.00" fill="#000" opacity="0.13"/>
<rect x="307.1" y="86.10" width="6.4" height="1.00" fill="#000" opacity="0.09"/>
<rect x="306.4" y="87.10" width="7.1" height="1.00" fill="#000" opacity="0.10"/>
<rect x="307.2" y="88.10" width="6.3" height="1.00" fill="#000" opacity="0.13"/>
<rect x="307.2" y="89.10" width="6.3" height="1.00" fill="#000" opacity="0.16"/>
<rect x="305.5" y="93.10" width="8.0" height="1.00" fill="#000" opacity="0.16"/>
<rect x="306.8" y="96.10" width="6.7" height="1.00" fill="#000" opacity="0.21"/>
<rect x="306.1" y="97.10" width="7.4" height="1.00" fill="#000" opacity="0.14"/>
<rect x="0.0" y="54.30" width="360.5" height="0.80" fill="#fff" opacity="0.05"/>
<rect x="0.0" y="61.30" width="360.5" height="0.80" fill="#fff" opacity="0.05"/>
<rect x="0.0" y="64.80" width="360.5" height="0.80" fill="#fff" opacity="0.05"/>
<rect x="28.0" y="225.30" width="44.0" height="1.20" fill="#000" opacity="0.10"/>
<rect x="100.0" y="225.30" width="44.0" height="1.20" fill="#000" opacity="0.10"/>
<rect x="172.0" y="225.30" width="44.0" height="1.20" fill="#000" opacity="0.10"/>
<rect x="244.0" y="225.30" width="44.0" height="1.20" fill="#000" opacity="0.10"/>
<rect x="316.0" y="225.30" width="44.0" height="1.20" fill="#000" opacity="0.10"/>
<rect x="28.0" y="229.80" width="44.0" height="1.20" fill="#000" opacity="0.12"/>
<rect x="100.0" y="229.80" width="44.0" height="1.20" fill="#000" opacity="0.12"/>
<rect x="172.0" y="229.80" width="44.0" height="1.20" fill="#000" opacity="0.12"/>
<rect x="244.0" y="229.80" width="44.0" height="1.20" fill="#000" opacity="0.12"/>
<rect x="316.0" y="229.80" width="44.0" height="1.20" fill="#000" opacity="0.12"/>
<rect x="28.0" y="233.30" width="44.0" height="1.20" fill="#000" opacity="0.16"/>
<rect x="100.0" y="233.30" width="44.0" height="1.20" fill="#000" opacity="0.16"/>
<rect x="172.0" y="233.30" width="44.0" height="1.20" fill="#000" opacity="0.16"/>
<rect x="244.0" y="233.30" width="44.0" height="1.20" fill="#000" opacity="0.16"/>
<rect x="316.0" y="233.30" width="44.0" height="1.20" fill="#000" opacity="0.16"/>
<rect x="28.0" y="234.80" width="44.0" height="1.20" fill="#000" opacity="0.20"/>
<rect x="100.0" y="234.80" width="44.0" height="1.20" fill="#000" opacity="0.20"/>
<rect x="172.0" y="234.80" width="44.0" height="1.20" fill="#000" opacity="0.20"/>
<rect x="244.0" y="234.80" width="44.0" height="1.20" fill="#000" opacity="0.20"/>
<rect x="316.0" y="234.80" width="44.0" height="1.20" fill="#000" opacity="0.20"/>
<rect x="28.0" y="236.00" width="44.0" height="1.20" fill="#000" opacity="0.12"/>
<rect x="100.0" y="236.00" width="44.0" height="1.20" fill="#000" opacity="0.12"/>
<rect x="172.0" y="236.00" width="44.0" height="1.20" fill="#000" opacity="0.12"/>
<rect x="244.0" y="236.00" width="44.0" height="1.20" fill="#000" opacity="0.12"/>
<rect x="316.0" y="236.00" width="44.0" height="1.20" fill="#000" opacity="0.12"/>
<rect x="0.0" y="208.30" width="360.5" height="0.80" fill="#fff" opacity="0.08"/>
<rect x="0.0" y="215.30" width="360.5" height="0.80" fill="#fff" opacity="0.08"/>
<rect x="0.0" y="220.80" width="360.5" height="0.80" fill="#fff" opacity="0.08"/>
<rect x="30.0" y="222.30" width="31.0" height="14.80" fill="#000" opacity="0.07"/>
<rect x="102.0" y="222.30" width="31.0" height="14.80" fill="#000" opacity="0.07"/>
<rect x="174.0" y="222.30" width="31.0" height="14.80" fill="#000" opacity="0.07"/>
<rect x="246.0" y="222.30" width="31.0" height="14.80" fill="#000" opacity="0.07"/>
<rect x="318.0" y="222.30" width="31.0" height="14.80" fill="#000" opacity="0.07"/>
<rect x="0.0" y="305.90" width="360.5" height="1.10" fill="#fff" opacity="0.20"/>
<rect x="0.0" y="308.50" width="360.5" height="1.10" fill="#fff" opacity="0.13"/>
<rect x="0.0" y="326.20" width="360.5" height="1.10" fill="#fff" opacity="0.18"/>
<rect x="0.0" y="327.30" width="360.5" height="1.10" fill="#fff" opacity="0.12"/>
<rect x="0.0" y="331.90" width="360.5" height="1.10" fill="#fff" opacity="0.18"/>
<rect x="0.0" y="334.70" width="360.5" height="1.10" fill="#fff" opacity="0.13"/>
<rect x="0.0" y="313.70" width="360.5" height="1.10" fill="#fff" opacity="0.08"/>
<rect x="0.0" y="320.70" width="360.5" height="1.10" fill="#fff" opacity="0.10"/>
<rect x="0.0" y="317.20" width="360.5" height="1.00" fill="#000" opacity="0.12"/>
<rect x="0.0" y="323.20" width="360.5" height="1.00" fill="#000" opacity="0.14"/>
<rect x="0.0" y="329.20" width="360.5" height="1.00" fill="#000" opacity="0.15"/>
<rect x="0.0" y="333.40" width="360.5" height="1.00" fill="#000" opacity="0.10"/>
<rect x="0.0" y="336.70" width="360.5" height="1.00" fill="#000" opacity="0.12"/>
<rect x="0.0" y="31.39" width="360.5" height="1.00" fill="#000" opacity="0.07"/>
<rect x="0.0" y="4.07" width="360.5" height="1.00" fill="#000" opacity="0.07"/>
<rect x="0.0" y="5.91" width="360.5" height="1.00" fill="#000" opacity="0.04"/>
<rect x="0.0" y="4.33" width="360.5" height="1.00" fill="#fff" opacity="0.05"/>
<rect x="0.0" y="25.39" width="360.5" height="1.00" fill="#000" opacity="0.05"/>
<rect x="0.0" y="10.96" width="360.5" height="1.00" fill="#fff" opacity="0.04"/>
<rect x="0.0" y="57.68" width="360.5" height="1.00" fill="#000" opacity="0.04"/>
<rect x="0.0" y="50.04" width="360.5" height="1.00" fill="#fff" opacity="0.07"/>
<rect x="0.0" y="57.85" width="360.5" height="1.00" fill="#000" opacity="0.06"/>
<rect x="0.0" y="65.43" width="360.5" height="1.00" fill="#000" opacity="0.05"/>
<rect x="0.0" y="42.17" width="360.5" height="1.00" fill="#000" opacity="0.04"/>
<rect x="0.0" y="46.26" width="360.5" height="1.00" fill="#fff" opacity="0.05"/>
<rect x="0.0" y="70.41" width="360.5" height="1.00" fill="#fff" opacity="0.07"/>
<rect x="0.0" y="97.80" width="360.5" height="1.00" fill="#000" opacity="0.06"/>
<rect x="0.0" y="88.31" width="360.5" height="1.00" fill="#fff" opacity="0.05"/>
<rect x="0.0" y="82.41" width="360.5" height="1.00" fill="#000" opacity="0.04"/>
<rect x="0.0" y="68.78" width="360.5" height="1.00" fill="#000" opacity="0.05"/>
<rect x="0.0" y="91.10" width="360.5" height="1.00" fill="#000" opacity="0.08"/>
<rect x="0.0" y="115.03" width="360.5" height="1.00" fill="#fff" opacity="0.07"/>
<rect x="0.0" y="126.98" width="360.5" height="1.00" fill="#000" opacity="0.07"/>
<rect x="0.0" y="122.96" width="360.5" height="1.00" fill="#000" opacity="0.05"/>
<rect x="0.0" y="126.11" width="360.5" height="1.00" fill="#000" opacity="0.05"/>
<rect x="0.0" y="121.96" width="360.5" height="1.00" fill="#fff" opacity="0.06"/>
<rect x="0.0" y="104.36" width="360.5" height="1.00" fill="#fff" opacity="0.07"/>
<rect x="0.0" y="150.55" width="360.5" height="1.00" fill="#000" opacity="0.07"/>
<rect x="0.0" y="149.43" width="360.5" height="1.00" fill="#fff" opacity="0.05"/>
<rect x="0.0" y="161.74" width="360.5" height="1.00" fill="#000" opacity="0.07"/>
<rect x="0.0" y="164.41" width="360.5" height="1.00" fill="#000" opacity="0.07"/>
<rect x="0.0" y="142.03" width="360.5" height="1.00" fill="#000" opacity="0.05"/>
<rect x="0.0" y="150.07" width="360.5" height="1.00" fill="#fff" opacity="0.06"/>
<rect x="0.0" y="191.11" width="360.5" height="1.00" fill="#000" opacity="0.05"/>
<rect x="0.0" y="176.65" width="360.5" height="1.00" fill="#000" opacity="0.05"/>
<rect x="0.0" y="183.87" width="360.5" height="1.00" fill="#fff" opacity="0.05"/>
<rect x="0.0" y="172.31" width="360.5" height="1.00" fill="#fff" opacity="0.07"/>
<rect x="0.0" y="201.45" width="360.5" height="1.00" fill="#000" opacity="0.05"/>
<rect x="0.0" y="191.04" width="360.5" height="1.00" fill="#000" opacity="0.07"/>
<rect x="0.0" y="220.81" width="360.5" height="1.00" fill="#000" opacity="0.06"/>
<rect x="0.0" y="212.68" width="360.5" height="1.00" fill="#000" opacity="0.08"/>
<rect x="0.0" y="227.04" width="360.5" height="1.00" fill="#fff" opacity="0.06"/>
<rect x="0.0" y="224.58" width="360.5" height="1.00" fill="#fff" opacity="0.06"/>
<rect x="0.0" y="235.15" width="360.5" height="1.00" fill="#000" opacity="0.07"/>
<rect x="0.0" y="207.47" width="360.5" height="1.00" fill="#000" opacity="0.05"/>
<rect x="0.0" y="267.01" width="360.5" height="1.00" fill="#fff" opacity="0.08"/>
<rect x="0.0" y="244.92" width="360.5" height="1.00" fill="#fff" opacity="0.08"/>
<rect x="0.0" y="256.63" width="360.5" height="1.00" fill="#000" opacity="0.06"/>
<rect x="0.0" y="244.58" width="360.5" height="1.00" fill="#000" opacity="0.06"/>
<rect x="0.0" y="253.68" width="360.5" height="1.00" fill="#fff" opacity="0.05"/>
<rect x="0.0" y="267.59" width="360.5" height="1.00" fill="#000" opacity="0.08"/>
<rect x="0.0" y="282.64" width="360.5" height="1.00" fill="#fff" opacity="0.06"/>
<rect x="0.0" y="295.05" width="360.5" height="1.00" fill="#000" opacity="0.04"/>
<rect x="0.0" y="278.54" width="360.5" height="1.00" fill="#000" opacity="0.04"/>
<rect x="0.0" y="298.67" width="360.5" height="1.00" fill="#000" opacity="0.05"/>
<rect x="0.0" y="272.67" width="360.5" height="1.00" fill="#000" opacity="0.07"/>
<rect x="0.0" y="285.80" width="360.5" height="1.00" fill="#fff" opacity="0.08"/>
<rect x="0.0" y="316.37" width="360.5" height="1.00" fill="#fff" opacity="0.06"/>
<rect x="0.0" y="314.95" width="360.5" height="1.00" fill="#000" opacity="0.08"/>
<rect x="0.0" y="316.53" width="360.5" height="1.00" fill="#fff" opacity="0.04"/>
<rect x="0.0" y="331.98" width="360.5" height="1.00" fill="#fff" opacity="0.08"/>
<rect x="0.0" y="327.86" width="360.5" height="1.00" fill="#000" opacity="0.07"/>
<rect x="0.0" y="310.96" width="360.5" height="1.00" fill="#fff" opacity="0.08"/>
<rect x="18.0" y="309.70" width="7" height="7.5" fill="#ededed" opacity="0.7"/>
<rect x="18.0" y="319.70" width="6" height="3" fill="#e6e6e6" opacity="0.6"/>
<rect x="17.5" y="328.20" width="8.5" height="9" fill="#000" opacity="0.12"/>
<rect x="90.0" y="309.70" width="7" height="7.5" fill="#ededed" opacity="0.7"/>
<rect x="90.0" y="319.70" width="6" height="3" fill="#e6e6e6" opacity="0.6"/>
<rect x="89.5" y="328.20" width="8.5" height="9" fill="#000" opacity="0.12"/>
<rect x="162.0" y="309.70" width="7" height="7.5" fill="#ededed" opacity="0.7"/>
<rect x="162.0" y="319.70" width="6" height="3" fill="#e6e6e6" opacity="0.6"/>
<rect x="161.5" y="328.20" width="8.5" height="9" fill="#000" opacity="0.12"/>
<rect x="234.0" y="309.70" width="7" height="7.5" fill="#ededed" opacity="0.7"/>
<rect x="234.0" y="319.70" width="6" height="3" fill="#e6e6e6" opacity="0.6"/>
<rect x="233.5" y="328.20" width="8.5" height="9" fill="#000" opacity="0.12"/>
<rect x="306.0" y="309.70" width="7" height="7.5" fill="#ededed" opacity="0.7"/>
<rect x="306.0" y="319.70" width="6" height="3" fill="#e6e6e6" opacity="0.6"/>
<rect x="305.5" y="328.20" width="8.5" height="9" fill="#000" opacity="0.12"/>
</g>
<!-- frame -->
<rect x="56.5" y="10.5" width="359.8" height="338" fill="none" stroke="#262626" stroke-width=".8"/>
<path d="M99.4 10.5v3.4M99.4 348.5v-3.4M142.5 10.5v3.4M142.5 348.5v-3.4M185.6 10.5v3.4M185.6 348.5v-3.4M228.7 10.5v3.4M228.7 348.5v-3.4M271.8 10.5v3.4M271.8 348.5v-3.4M314.9 10.5v3.4M314.9 348.5v-3.4M358.1 10.5v3.4M358.1 348.5v-3.4M401.2 10.5v3.4M401.2 348.5v-3.4M56.5 44.0h3.4M416.3 44.0h-3.4M56.5 77.8h3.4M416.3 77.8h-3.4M56.5 111.6h3.4M416.3 111.6h-3.4M56.5 145.4h3.4M416.3 145.4h-3.4M56.5 179.2h3.4M416.3 179.2h-3.4M56.5 213.0h3.4M416.3 213.0h-3.4M56.5 246.8h3.4M416.3 246.8h-3.4M56.5 280.6h3.4M416.3 280.6h-3.4M56.5 314.4h3.4M416.3 314.4h-3.4M56.5 348.2h3.4M416.3 348.2h-3.4" stroke="#1a1a1a" stroke-width="1" fill="none"/>
<!-- colorbar -->
<rect x="475.6" y="10.4" width="22.3" height="340.1" fill="url(#cb)" stroke="#262626" stroke-width=".8"/>
<path d="M497.9 59.0h-3.2M497.9 107.6h-3.2M497.9 156.2h-3.2M497.9 204.7h-3.2M497.9 253.3h-3.2M497.9 301.9h-3.2" stroke="#1a1a1a" stroke-width="1" fill="none"/>
<g class="tk">
<text x="504" y="15.1">40</text>
<text x="504" y="63.5">30</text>
<text x="504" y="112.0">20</text>
<text x="504" y="160.4">10</text>
<text x="504" y="208.9">0</text>
<text x="504" y="257.3">-10</text>
<text x="504" y="305.8">-20</text>
<text x="504" y="354.2">-30</text>
</g>
<text class="tk" transform="translate(542.3,181.1) rotate(-90)" text-anchor="middle" style="font-size:15.25px">Power/frequency (dB/Hz)</text>
<g class="cl">
<text x="429" y="30.3">Normal</text>
<text x="429" y="65">B007</text>
<text x="429" y="101.7">B014</text>
<text x="429" y="130.5">B021</text>
<text x="429" y="166.2">IR007</text>
<text x="429" y="202.2">IR014</text>
<text x="429" y="236.9">IR021</text>
<text x="429" y="267.4">OR007</text>
<text x="429" y="300.6">OR014</text>
<text x="429" y="338.2">OR021</text>
</g>
<g class="tk" text-anchor="end">
<text x="50.6" y="48.3">50</text>
<text x="50.6" y="82.1">100</text>
<text x="50.6" y="115.9">150</text>
<text x="50.6" y="149.7">200</text>
<text x="50.6" y="183.5">250</text>
<text x="50.6" y="217.3">300</text>
<text x="50.6" y="251.1">350</text>
<text x="50.6" y="284.9">400</text>
<text x="50.6" y="318.7">450</text>
<text x="50.6" y="352.5">500</text>
</g>
<g class="tk" text-anchor="middle">
<text x="99.4" y="368">100</text>
<text x="142.5" y="368">200</text>
<text x="185.6" y="368">300</text>
<text x="228.7" y="368">400</text>
<text x="271.8" y="368">500</text>
<text x="314.9" y="368">600</text>
<text x="358.1" y="368">700</text>
<text x="401.2" y="368">800</text>
</g>
<text x="225.8" y="388.8" style="font-size:20px">[</text><text x="236.4" y="388.2" text-anchor="middle" style="font-size:17px;font-style:italic">n</text><text x="239.6" y="388.8" style="font-size:20px">]</text>
<text transform="translate(19.6,215.4) rotate(-90)" style="font-size:17px;font-style:italic"><tspan letter-spacing="1.15">sample</tspan><tspan dx="4" dy="1.2" style="font-size:22px">#</tspan></text>
</svg>
</body></html>
